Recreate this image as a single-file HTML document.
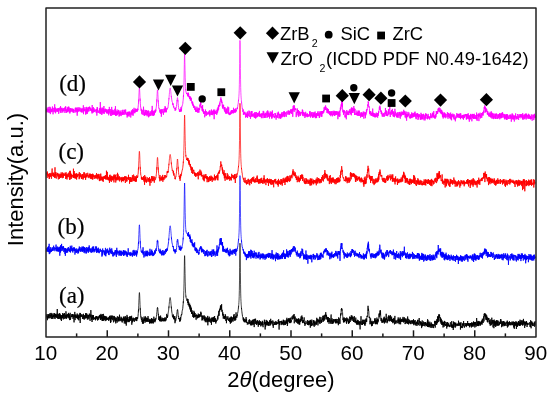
<!DOCTYPE html>
<html><head><meta charset="utf-8"><title>XRD patterns</title><style>
html,body{margin:0;padding:0;background:#fff;}
svg{display:block;}
.t{font-family:"Liberation Sans",Arial,sans-serif;fill:#000;}
.s{font-family:"Liberation Serif","Times New Roman",serif;fill:#000;}
</style></head><body>
<svg width="550" height="395" viewBox="0 0 550 395">
<rect width="550" height="395" fill="#fff"/>
<g fill="none" stroke="#000000" stroke-width="0.85" stroke-linejoin="round">
<polyline points="46.60,314.2 46.75,317.2 46.90,314.8 47.05,318.6 47.20,316.0 47.35,320.2 47.50,317.2 47.65,317.4 47.80,317.6 47.95,314.2 48.10,315.2 48.25,314.4 48.40,315.5 48.55,318.4 48.70,315.4 48.85,316.3 49.00,314.6 49.15,315.5 49.30,314.3 49.45,316.6 49.60,316.9 49.75,318.3 49.90,315.3 50.05,313.1 50.20,317.8 50.35,315.0 50.50,315.3 50.65,315.3 50.80,314.8 50.95,316.4 51.10,312.9 51.25,317.9 51.40,318.9 51.55,313.9 51.70,314.3 51.85,314.6 52.00,316.0 52.15,313.5 52.30,318.7 52.45,316.0 52.60,317.6 52.75,317.6 52.90,318.7 53.05,315.6 53.20,316.4 53.35,315.1 53.50,316.8 53.65,314.9 53.80,317.0 53.95,313.2 54.10,318.5 54.25,317.1 54.40,314.1 54.55,313.3 54.70,315.8 54.85,314.4 55.00,318.9 55.15,318.9 55.30,314.4 55.45,316.6 55.60,314.0 55.75,317.1 55.90,316.7 56.05,313.7 56.20,317.2 56.35,314.9 56.50,315.3 56.65,317.8 56.80,315.1 56.95,314.7 57.10,316.6 57.25,309.0 57.40,318.0 57.55,317.3 57.70,316.7 57.85,318.8 58.00,313.7 58.15,314.5 58.30,318.9 58.45,315.3 58.60,315.3 58.75,314.2 58.90,314.6 59.05,318.8 59.20,318.6 59.35,313.8 59.50,313.2 59.65,316.4 59.80,318.7 59.95,313.6 60.10,317.9 60.25,318.0 60.40,314.6 60.55,318.0 60.70,316.1 60.85,319.6 61.00,316.9 61.15,318.9 61.30,320.1 61.45,321.0 61.60,315.1 61.75,318.4 61.90,316.8 62.05,315.6 62.20,315.4 62.35,315.1 62.50,318.1 62.65,313.1 62.80,314.6 62.95,316.3 63.10,314.6 63.25,319.4 63.40,316.7 63.55,314.4 63.70,316.4 63.85,313.6 64.00,318.3 64.15,317.5 64.30,315.4 64.45,313.1 64.60,314.4 64.75,314.1 64.90,319.0 65.05,315.0 65.20,316.2 65.35,315.9 65.50,318.0 65.65,314.8 65.80,315.2 65.95,311.3 66.10,313.2 66.25,314.6 66.40,318.8 66.55,315.2 66.70,317.1 66.85,315.6 67.00,318.1 67.15,313.9 67.30,316.3 67.45,314.6 67.60,314.2 67.75,314.4 67.90,316.3 68.05,316.2 68.20,317.0 68.35,315.3 68.50,312.9 68.65,316.2 68.80,318.3 68.95,314.3 69.10,317.7 69.25,314.3 69.40,317.6 69.55,320.1 69.70,316.1 69.85,317.7 70.00,317.6 70.15,312.8 70.30,316.6 70.45,319.9 70.60,318.1 70.75,318.4 70.90,318.2 71.05,316.6 71.20,316.2 71.35,315.6 71.50,317.0 71.65,315.9 71.80,315.1 71.95,314.0 72.10,316.3 72.25,314.3 72.40,316.9 72.55,314.1 72.70,315.6 72.85,315.4 73.00,318.9 73.15,315.7 73.30,314.4 73.45,315.1 73.60,317.4 73.75,317.9 73.90,317.6 74.05,322.4 74.20,314.8 74.35,317.0 74.50,317.1 74.65,315.2 74.80,311.9 74.95,318.2 75.10,320.1 75.25,316.9 75.40,314.6 75.55,317.4 75.70,315.1 75.85,317.4 76.00,315.3 76.15,314.7 76.30,318.1 76.45,316.0 76.60,317.6 76.75,316.7 76.90,315.8 77.05,315.3 77.20,313.5 77.35,318.4 77.50,314.8 77.65,318.8 77.80,318.4 77.95,317.5 78.10,314.8 78.25,319.7 78.40,317.4 78.55,317.6 78.70,315.6 78.85,320.4 79.00,315.2 79.15,314.5 79.30,316.1 79.45,317.8 79.60,316.7 79.75,315.7 79.90,312.9 80.05,315.8 80.20,323.0 80.35,314.3 80.50,313.2 80.65,316.8 80.80,314.9 80.95,315.5 81.10,315.4 81.25,316.4 81.40,315.0 81.55,314.4 81.70,316.9 81.85,316.4 82.00,315.6 82.15,316.0 82.30,315.9 82.45,318.9 82.60,318.0 82.75,317.8 82.90,314.4 83.05,318.1 83.20,317.3 83.35,315.2 83.50,313.8 83.65,319.1 83.80,319.0 83.95,317.7 84.10,316.5 84.25,319.6 84.40,315.1 84.55,317.0 84.70,317.1 84.85,316.8 85.00,317.0 85.15,318.6 85.30,315.8 85.45,317.2 85.60,313.1 85.75,316.6 85.90,318.2 86.05,314.3 86.20,314.7 86.35,318.0 86.50,317.4 86.65,313.2 86.80,315.1 86.95,314.6 87.10,318.3 87.25,317.6 87.40,319.6 87.55,318.2 87.70,314.8 87.85,314.8 88.00,317.9 88.15,315.1 88.30,315.8 88.45,317.4 88.60,315.1 88.75,319.3 88.90,317.8 89.05,317.8 89.20,315.1 89.35,313.6 89.50,316.0 89.65,315.6 89.80,318.3 89.95,319.6 90.10,320.9 90.25,314.4 90.40,317.1 90.55,317.3 90.70,316.8 90.85,310.1 91.00,313.8 91.15,314.3 91.30,315.2 91.45,316.4 91.60,319.8 91.75,317.9 91.90,314.8 92.05,322.0 92.20,317.9 92.35,318.7 92.50,315.5 92.65,318.1 92.80,317.2 92.95,317.0 93.10,315.2 93.25,320.0 93.40,315.1 93.55,318.4 93.70,318.7 93.85,318.1 94.00,317.9 94.15,317.7 94.30,318.0 94.45,317.8 94.60,319.1 94.75,318.0 94.90,317.7 95.05,318.7 95.20,319.7 95.35,317.5 95.50,320.3 95.65,316.4 95.80,319.3 95.95,318.4 96.10,317.5 96.25,317.0 96.40,316.1 96.55,318.1 96.70,316.0 96.85,319.2 97.00,318.4 97.15,318.0 97.30,316.6 97.45,317.1 97.60,320.5 97.75,317.6 97.90,317.1 98.05,317.0 98.20,319.8 98.35,319.1 98.50,319.3 98.65,316.6 98.80,316.2 98.95,316.8 99.10,318.4 99.25,315.7 99.40,317.5 99.55,316.9 99.70,314.9 99.85,316.4 100.00,315.8 100.15,316.3 100.30,319.0 100.45,320.0 100.60,315.3 100.75,318.6 100.90,313.9 101.05,319.2 101.20,317.7 101.35,318.0 101.50,315.1 101.65,318.3 101.80,315.6 101.95,320.5 102.10,317.5 102.25,314.0 102.40,321.0 102.55,317.1 102.70,318.5 102.85,320.8 103.00,318.5 103.15,321.0 103.30,315.4 103.45,313.9 103.60,317.0 103.75,319.2 103.90,316.5 104.05,320.1 104.20,315.9 104.35,319.6 104.50,316.0 104.65,315.9 104.80,318.9 104.95,318.3 105.10,316.9 105.25,321.1 105.40,320.0 105.55,316.2 105.70,318.5 105.85,319.5 106.00,319.0 106.15,317.3 106.30,317.5 106.45,320.4 106.60,316.5 106.75,319.5 106.90,317.7 107.05,318.3 107.20,318.0 107.35,317.9 107.50,319.1 107.65,318.2 107.80,319.8 107.95,318.3 108.10,319.8 108.25,319.2 108.40,317.4 108.55,320.8 108.70,319.8 108.85,319.3 109.00,317.4 109.15,317.6 109.30,318.8 109.45,316.1 109.60,318.6 109.75,316.3 109.90,320.1 110.05,320.4 110.20,315.5 110.35,319.3 110.50,322.9 110.65,318.2 110.80,317.7 110.95,322.2 111.10,316.3 111.25,317.5 111.40,319.2 111.55,316.8 111.70,319.1 111.85,315.5 112.00,317.4 112.15,315.7 112.30,317.6 112.45,318.9 112.60,318.7 112.75,320.2 112.90,316.2 113.05,316.2 113.20,316.7 113.35,319.9 113.50,322.3 113.65,320.9 113.80,318.1 113.95,315.9 114.10,318.9 114.25,318.7 114.40,317.5 114.55,316.4 114.70,320.2 114.85,320.5 115.00,317.2 115.15,321.7 115.30,319.0 115.45,320.5 115.60,319.1 115.75,323.4 115.90,317.7 116.05,318.7 116.20,319.3 116.35,317.8 116.50,320.8 116.65,319.9 116.80,321.0 116.95,321.5 117.10,322.7 117.25,316.6 117.40,316.8 117.55,316.4 117.70,318.7 117.85,321.5 118.00,320.7 118.15,318.5 118.30,317.3 118.45,320.6 118.60,319.6 118.75,316.8 118.90,321.4 119.05,319.6 119.20,320.1 119.35,318.2 119.50,314.7 119.65,320.6 119.80,320.3 119.95,319.9 120.10,320.3 120.25,321.1 120.40,320.9 120.55,320.8 120.70,318.5 120.85,320.0 121.00,316.7 121.15,319.2 121.30,319.6 121.45,317.6 121.60,318.0 121.75,321.4 121.90,319.6 122.05,318.0 122.20,322.5 122.35,320.2 122.50,319.2 122.65,320.0 122.80,319.1 122.95,320.7 123.10,319.9 123.25,318.1 123.40,316.8 123.55,319.1 123.70,320.1 123.85,319.2 124.00,321.1 124.15,316.4 124.30,323.5 124.45,317.7 124.60,318.5 124.75,319.2 124.90,321.1 125.05,319.4 125.20,321.7 125.35,321.0 125.50,316.3 125.65,323.7 125.80,320.0 125.95,320.0 126.10,320.8 126.25,325.6 126.40,320.4 126.55,317.7 126.70,321.3 126.85,321.5 127.00,314.9 127.15,322.2 127.30,316.6 127.45,317.5 127.60,320.5 127.75,319.6 127.90,318.7 128.05,317.0 128.20,318.2 128.35,319.3 128.50,321.5 128.65,321.9 128.80,319.2 128.95,322.2 129.10,319.8 129.25,318.9 129.40,321.5 129.55,316.7 129.70,319.3 129.85,319.1 130.00,316.4 130.15,321.0 130.30,316.4 130.45,319.5 130.60,319.3 130.75,318.4 130.90,320.3 131.05,318.4 131.20,316.9 131.35,318.9 131.50,316.8 131.65,315.8 131.80,324.7 131.95,318.4 132.10,318.0 132.25,322.3 132.40,322.4 132.55,322.0 132.70,319.8 132.85,319.2 133.00,321.2 133.15,317.6 133.30,319.8 133.45,320.4 133.60,319.1 133.75,318.4 133.90,320.0 134.05,320.0 134.20,321.5 134.35,322.0 134.50,321.6 134.65,318.3 134.80,318.7 134.95,318.5 135.10,320.6 135.25,319.1 135.40,318.1 135.55,319.9 135.70,319.5 135.85,317.2 136.00,317.6 136.15,317.1 136.30,321.0 136.45,319.3 136.60,317.6 136.75,321.1 136.90,319.8 137.05,318.2 137.20,317.0 137.35,319.1 137.50,317.6 137.65,318.6 137.80,317.5 137.95,316.7 138.10,315.0 138.25,313.6 138.40,311.8 138.55,309.2"/>
<polyline stroke-width="0.7" points="138.40,311.8 138.55,309.2 138.70,305.8 138.85,302.1 139.00,298.3 139.15,295.0 139.30,292.8 139.45,292.5 139.60,294.0 139.75,297.0 139.90,300.6 140.05,304.4 140.20,307.8 140.35,310.6"/>
<polyline points="140.20,307.8 140.35,310.6 140.50,313.1 140.65,315.0 140.80,316.8 140.95,316.4 141.10,318.3 141.25,317.5 141.40,319.9 141.55,318.9 141.70,319.5 141.85,319.5 142.00,321.9 142.15,318.7 142.30,317.4 142.45,323.6 142.60,320.3 142.75,320.6 142.90,323.4 143.05,320.3 143.20,320.0 143.35,323.0 143.50,323.6 143.65,321.0 143.80,318.6 143.95,321.1 144.10,316.5 144.25,320.2 144.40,319.8 144.55,320.8 144.70,318.2 144.85,321.2 145.00,322.8 145.15,321.0 145.30,319.2 145.45,316.4 145.60,318.8 145.75,321.6 145.90,318.3 146.05,321.0 146.20,321.4 146.35,321.5 146.50,317.7 146.65,321.3 146.80,320.8 146.95,321.3 147.10,320.0 147.25,321.7 147.40,320.3 147.55,319.1 147.70,317.9 147.85,321.5 148.00,316.1 148.15,317.3 148.30,319.2 148.45,319.1 148.60,319.9 148.75,322.0 148.90,321.0 149.05,320.4 149.20,319.4 149.35,318.9 149.50,323.5 149.65,319.9 149.80,320.5 149.95,321.9 150.10,322.9 150.25,320.4 150.40,323.2 150.55,322.7 150.70,319.2 150.85,323.2 151.00,321.9 151.15,321.3 151.30,320.6 151.45,318.1 151.60,323.1 151.75,318.0 151.90,323.4 152.05,322.8 152.20,321.2 152.35,322.3 152.50,322.7 152.65,319.1 152.80,321.0 152.95,320.2 153.10,319.0 153.25,323.5 153.40,322.4 153.55,321.3 153.70,322.6 153.85,316.7 154.00,318.8 154.15,320.0 154.30,320.8 154.45,320.8 154.60,321.5 154.75,318.8 154.90,322.0 155.05,322.2 155.20,319.4 155.35,320.1 155.50,320.8 155.65,318.3 155.80,319.3 155.95,319.5 156.10,318.9 156.25,317.3 156.40,316.5 156.55,316.1 156.70,314.4 156.85,312.9 157.00,311.4 157.15,309.6 157.30,308.3 157.45,307.6"/>
<polyline stroke-width="0.7" points="157.30,308.3 157.45,307.6 157.60,307.7 157.75,308.5"/>
<polyline points="157.60,307.7 157.75,308.5 157.90,309.9 158.05,311.7 158.20,312.7 158.35,315.1 158.50,314.3 158.65,316.5 158.80,320.0 158.95,316.0 159.10,318.5 159.25,318.3 159.40,319.8 159.55,321.2 159.70,316.8 159.85,317.9 160.00,320.7 160.15,320.1 160.30,316.9 160.45,320.5 160.60,315.6 160.75,320.9 160.90,321.6 161.05,317.4 161.20,320.8 161.35,320.7 161.50,319.3 161.65,319.9 161.80,321.4 161.95,321.2 162.10,320.9 162.25,317.8 162.40,317.8 162.55,320.8 162.70,320.5 162.85,321.1 163.00,319.2 163.15,320.4 163.30,321.1 163.45,319.6 163.60,319.3 163.75,318.0 163.90,321.3 164.05,320.5 164.20,320.5 164.35,319.3 164.50,321.0 164.65,317.6 164.80,319.4 164.95,320.0 165.10,321.4 165.25,319.1 165.40,320.7 165.55,317.5 165.70,317.6 165.85,317.9 166.00,320.1 166.15,320.4 166.30,319.7 166.45,319.4 166.60,316.9 166.75,313.9 166.90,316.9 167.05,317.1 167.20,315.6 167.35,318.0 167.50,315.8 167.65,315.7 167.80,316.4 167.95,314.6 168.10,313.2 168.25,312.5 168.40,311.6 168.55,310.6 168.70,309.3 168.85,307.9 169.00,306.3"/>
<polyline stroke-width="0.7" points="168.85,307.9 169.00,306.3 169.15,304.7 169.30,303.0 169.45,301.5 169.60,300.1 169.75,298.9 169.90,298.0 170.05,297.5 170.20,297.6 170.35,298.2 170.50,299.1 170.65,300.3 170.80,301.7 170.95,303.2 171.10,304.9 171.25,306.4 171.40,308.0"/>
<polyline points="171.25,306.4 171.40,308.0 171.55,309.2 171.70,311.0 171.85,312.1 172.00,313.1 172.15,313.6 172.30,315.2 172.45,316.7 172.60,315.8 172.75,315.5 172.90,316.2 173.05,317.7 173.20,316.4 173.35,314.5 173.50,317.7 173.65,319.1 173.80,316.1 173.95,317.6 174.10,316.4 174.25,319.5 174.40,317.8 174.55,319.0 174.70,318.8 174.85,316.2 175.00,323.2 175.15,318.3 175.30,319.6 175.45,321.3 175.60,320.9 175.75,320.8 175.90,320.5 176.05,318.4 176.20,318.5 176.35,317.3 176.50,317.5 176.65,316.2 176.80,314.2 176.95,312.9 177.10,311.8 177.25,310.4 177.40,309.9"/>
<polyline stroke-width="0.7" points="177.25,310.4 177.40,309.9 177.55,309.6 177.70,310.3"/>
<polyline points="177.55,309.6 177.70,310.3 177.85,311.3 178.00,312.9 178.15,314.4 178.30,315.8 178.45,317.0 178.60,316.5 178.75,319.1 178.90,318.0 179.05,318.8 179.20,318.5 179.35,319.4 179.50,318.6 179.65,321.6 179.80,321.3 179.95,321.5 180.10,319.4 180.25,321.1 180.40,317.2 180.55,318.2 180.70,319.7 180.85,317.4 181.00,317.5 181.15,315.4 181.30,315.7 181.45,314.1 181.60,314.8 181.75,314.6 181.90,314.4 182.05,311.7 182.20,311.1 182.35,310.3 182.50,309.9 182.65,308.9 182.80,308.2 182.95,306.1 183.10,304.8 183.25,303.0 183.40,301.1"/>
<polyline stroke-width="0.7" points="183.25,303.0 183.40,301.1 183.55,298.7 183.70,295.1 183.85,290.4 184.00,283.9 184.15,275.7 184.30,266.8 184.45,259.0 184.60,255.6 184.75,258.3 184.90,265.4 185.05,273.6 185.20,281.1 185.35,286.9 185.50,291.0 185.65,293.7 185.80,295.6 185.95,296.6"/>
<polyline points="185.80,295.6 185.95,296.6 186.10,297.8 186.25,298.4 186.40,298.6 186.55,299.1 186.70,299.8 186.85,300.6 187.00,300.3 187.15,300.6 187.30,298.7 187.45,299.9 187.60,300.7 187.75,303.0 187.90,300.8 188.05,299.1 188.20,305.1 188.35,301.8 188.50,301.6 188.65,302.8 188.80,302.4 188.95,305.5 189.10,303.9 189.25,307.0 189.40,304.2 189.55,307.4 189.70,303.7 189.85,308.3 190.00,309.4 190.15,307.3 190.30,305.2 190.45,309.1 190.60,311.7 190.75,310.9 190.90,306.7 191.05,311.0 191.20,310.3 191.35,308.1 191.50,313.7 191.65,312.2 191.80,313.5 191.95,310.1 192.10,313.9 192.25,311.6 192.40,313.9 192.55,313.8 192.70,315.9 192.85,316.9 193.00,313.3 193.15,313.6 193.30,314.3 193.45,316.9 193.60,315.4 193.75,317.9 193.90,310.8 194.05,314.3 194.20,317.0 194.35,317.0 194.50,312.3 194.65,315.0 194.80,317.0 194.95,313.8 195.10,313.0 195.25,316.1 195.40,316.9 195.55,315.0 195.70,316.0 195.85,315.3 196.00,319.7 196.15,319.8 196.30,316.5 196.45,314.5 196.60,316.2 196.75,315.5 196.90,315.0 197.05,316.4 197.20,318.5 197.35,316.1 197.50,316.6 197.65,317.9 197.80,315.1 197.95,317.4 198.10,316.8 198.25,313.6 198.40,317.2 198.55,317.7 198.70,317.2 198.85,315.3 199.00,316.8 199.15,314.6 199.30,316.3 199.45,317.3 199.60,314.3 199.75,315.0 199.90,316.9 200.05,316.3 200.20,316.1 200.35,315.8 200.50,316.3 200.65,313.7 200.80,311.7 200.95,314.7 201.10,312.7 201.25,315.8 201.40,315.6 201.55,316.6 201.70,315.6 201.85,316.6 202.00,320.5 202.15,318.5 202.30,315.7 202.45,319.9 202.60,318.0 202.75,315.9 202.90,317.7 203.05,315.8 203.20,318.9 203.35,319.0 203.50,318.8 203.65,318.8 203.80,319.2 203.95,317.7 204.10,315.3 204.25,320.7 204.40,319.4 204.55,317.0 204.70,316.7 204.85,319.5 205.00,316.5 205.15,317.5 205.30,322.2 205.45,319.0 205.60,321.1 205.75,319.2 205.90,319.6 206.05,317.2 206.20,317.7 206.35,320.0 206.50,318.0 206.65,322.0 206.80,322.3 206.95,320.7 207.10,320.0 207.25,320.8 207.40,319.1 207.55,321.7 207.70,315.9 207.85,325.3 208.00,317.9 208.15,320.0 208.30,321.6 208.45,318.5 208.60,321.1 208.75,321.1 208.90,321.3 209.05,321.5 209.20,316.7 209.35,319.1 209.50,319.4 209.65,321.6 209.80,318.6 209.95,321.1 210.10,319.4 210.25,318.8 210.40,322.6 210.55,321.9 210.70,321.4 210.85,320.9 211.00,321.3 211.15,320.2 211.30,317.7 211.45,324.8 211.60,320.0 211.75,320.7 211.90,319.7 212.05,320.2 212.20,317.7 212.35,321.3 212.50,317.6 212.65,318.5 212.80,319.7 212.95,321.4 213.10,321.6 213.25,318.6 213.40,322.1 213.55,316.9 213.70,321.6 213.85,320.0 214.00,319.4 214.15,321.7 214.30,320.9 214.45,320.5 214.60,316.0 214.75,322.0 214.90,320.8 215.05,318.8 215.20,318.2 215.35,321.5 215.50,320.4 215.65,318.6 215.80,323.5 215.95,320.1 216.10,322.1 216.25,320.7 216.40,320.6 216.55,320.8 216.70,319.8 216.85,320.7 217.00,320.9 217.15,319.7 217.30,319.7 217.45,318.0 217.60,317.6 217.75,316.1 217.90,319.5 218.05,314.8 218.20,314.7 218.35,314.7 218.50,315.9 218.65,315.5 218.80,310.8 218.95,314.3 219.10,315.7 219.25,312.5 219.40,311.6 219.55,309.3 219.70,311.5 219.85,308.9 220.00,307.9 220.15,308.3 220.30,308.4 220.45,305.6 220.60,309.9 220.75,306.5 220.90,307.3 221.05,305.3 221.20,307.2 221.35,309.5 221.50,305.9 221.65,304.2 221.80,311.3 221.95,311.7 222.10,309.8 222.25,311.0 222.40,312.2 222.55,314.1 222.70,315.5 222.85,312.3 223.00,315.6 223.15,316.9 223.30,318.7 223.45,315.7 223.60,314.4 223.75,314.1 223.90,316.2 224.05,318.1 224.20,317.7 224.35,316.4 224.50,319.1 224.65,316.1 224.80,317.2 224.95,316.7 225.10,318.8 225.25,318.7 225.40,314.3 225.55,317.2 225.70,315.9 225.85,320.9 226.00,319.0 226.15,319.6 226.30,319.6 226.45,323.2 226.60,319.4 226.75,319.0 226.90,316.5 227.05,319.0 227.20,319.6 227.35,318.5 227.50,319.2 227.65,319.0 227.80,317.7 227.95,316.4 228.10,317.9 228.25,319.6 228.40,320.5 228.55,318.7 228.70,319.3 228.85,321.0 229.00,320.3 229.15,320.5 229.30,320.7 229.45,320.2 229.60,321.9 229.75,317.6 229.90,321.0 230.05,318.1 230.20,321.3 230.35,323.7 230.50,318.1 230.65,322.5 230.80,316.8 230.95,317.8 231.10,318.3 231.25,318.5 231.40,316.6 231.55,322.5 231.70,320.6 231.85,320.1 232.00,317.0 232.15,321.2 232.30,319.2 232.45,319.9 232.60,319.6 232.75,318.1 232.90,319.7 233.05,321.6 233.20,317.3 233.35,318.2 233.50,318.7 233.65,315.3 233.80,317.4 233.95,319.2 234.10,314.0 234.25,320.5 234.40,317.2 234.55,318.9 234.70,317.8 234.85,318.2 235.00,320.7 235.15,320.2 235.30,316.1 235.45,316.8 235.60,320.1 235.75,319.8 235.90,319.4 236.05,312.4 236.20,317.4 236.35,317.1 236.50,316.6 236.65,316.8 236.80,317.7 236.95,316.0 237.10,315.4 237.25,316.2 237.40,315.0 237.55,313.6 237.70,313.1 237.85,312.0 238.00,311.4 238.15,310.3 238.30,309.3 238.45,307.7 238.60,306.2"/>
<polyline stroke-width="0.7" points="238.45,307.7 238.60,306.2 238.75,304.6 238.90,302.7 239.05,300.2 239.20,296.3 239.35,290.3 239.50,280.9 239.65,267.8 239.80,253.2 239.95,243.2 240.10,245.5 240.25,258.1 240.40,272.7 240.55,284.8 240.70,293.1 240.85,298.3 241.00,301.6 241.15,304.1 241.30,305.9 241.45,307.7 241.60,309.4"/>
<polyline points="241.45,307.7 241.60,309.4 241.75,310.7 241.90,311.8 242.05,313.1 242.20,314.1 242.35,315.0 242.50,316.5 242.65,316.9 242.80,317.4 242.95,318.5 243.10,318.7 243.25,320.3 243.40,317.5 243.55,320.0 243.70,321.3 243.85,318.4 244.00,320.9 244.15,321.1 244.30,322.2 244.45,320.5 244.60,319.2 244.75,319.9 244.90,322.2 245.05,320.4 245.20,319.7 245.35,321.3 245.50,319.9 245.65,320.0 245.80,321.8 245.95,320.4 246.10,317.1 246.25,322.9 246.40,319.5 246.55,319.2 246.70,321.5 246.85,322.1 247.00,322.4 247.15,322.1 247.30,324.6 247.45,324.0 247.60,323.4 247.75,322.2 247.90,321.9 248.05,323.8 248.20,324.1 248.35,323.9 248.50,323.8 248.65,324.2 248.80,323.2 248.95,319.9 249.10,323.7 249.25,322.2 249.40,322.8 249.55,319.4 249.70,321.2 249.85,323.8 250.00,323.0 250.15,322.3 250.30,321.9 250.45,325.3 250.60,322.7 250.75,321.6 250.90,320.3 251.05,320.6 251.20,322.2 251.35,321.1 251.50,325.0 251.65,321.7 251.80,325.5 251.95,321.7 252.10,322.8 252.25,324.6 252.40,324.2 252.55,319.9 252.70,321.4 252.85,324.4 253.00,324.0 253.15,323.0 253.30,319.3 253.45,324.6 253.60,324.5 253.75,323.3 253.90,320.0 254.05,321.2 254.20,327.1 254.35,321.6 254.50,318.9 254.65,320.4 254.80,320.4 254.95,320.2 255.10,324.1 255.25,323.5 255.40,322.7 255.55,318.7 255.70,320.8 255.85,323.4 256.00,324.0 256.15,323.2 256.30,320.8 256.45,324.2 256.60,322.0 256.75,325.0 256.90,324.0 257.05,323.9 257.20,323.3 257.35,320.0 257.50,320.8 257.65,323.4 257.80,323.4 257.95,323.3 258.10,321.5 258.25,326.8 258.40,321.5 258.55,323.0 258.70,325.1 258.85,323.6 259.00,324.1 259.15,323.8 259.30,320.2 259.45,325.0 259.60,323.2 259.75,324.4 259.90,322.6 260.05,321.2 260.20,321.3 260.35,323.2 260.50,321.6 260.65,323.2 260.80,326.4 260.95,322.0 261.10,322.4 261.25,325.4 261.40,322.7 261.55,324.0 261.70,323.8 261.85,324.3 262.00,324.8 262.15,322.2 262.30,320.8 262.45,325.3 262.60,321.5 262.75,324.5 262.90,326.1 263.05,327.2 263.20,325.2 263.35,324.6 263.50,324.8 263.65,324.0 263.80,322.7 263.95,322.5 264.10,321.9 264.25,322.8 264.40,319.7 264.55,324.3 264.70,322.2 264.85,322.2 265.00,322.4 265.15,329.5 265.30,322.5 265.45,324.5 265.60,326.8 265.75,321.9 265.90,324.2 266.05,322.0 266.20,319.9 266.35,322.3 266.50,325.3 266.65,321.9 266.80,322.4 266.95,320.7 267.10,323.2 267.25,320.9 267.40,321.6 267.55,325.3 267.70,321.8 267.85,323.4 268.00,323.8 268.15,325.4 268.30,324.9 268.45,322.2 268.60,322.0 268.75,325.8 268.90,322.1 269.05,322.0 269.20,325.6 269.35,321.3 269.50,321.8 269.65,320.4 269.80,320.0 269.95,323.2 270.10,322.5 270.25,321.5 270.40,325.4 270.55,324.4 270.70,318.8 270.85,324.5 271.00,321.9 271.15,320.9 271.30,322.5 271.45,323.1 271.60,321.9 271.75,321.0 271.90,323.3 272.05,322.7 272.20,322.9 272.35,323.6 272.50,322.7 272.65,322.0 272.80,320.4 272.95,325.6 273.10,323.8 273.25,327.8 273.40,323.5 273.55,322.5 273.70,321.7 273.85,322.2 274.00,321.9 274.15,322.8 274.30,322.4 274.45,322.7 274.60,325.0 274.75,323.6 274.90,324.1 275.05,322.0 275.20,323.1 275.35,323.0 275.50,324.8 275.65,323.2 275.80,321.0 275.95,321.0 276.10,322.6 276.25,323.8 276.40,324.6 276.55,322.1 276.70,324.5 276.85,324.3 277.00,322.2 277.15,322.8 277.30,323.7 277.45,323.9 277.60,322.6 277.75,323.0 277.90,322.0 278.05,321.7 278.20,320.0 278.35,320.9 278.50,322.8 278.65,319.3 278.80,323.9 278.95,321.8 279.10,329.6 279.25,321.2 279.40,324.1 279.55,325.1 279.70,324.0 279.85,323.8 280.00,321.6 280.15,322.2 280.30,321.3 280.45,322.2 280.60,322.3 280.75,322.1 280.90,321.1 281.05,321.5 281.20,325.1 281.35,322.3 281.50,320.9 281.65,323.6 281.80,320.9 281.95,323.3 282.10,322.0 282.25,324.3 282.40,324.1 282.55,322.9 282.70,322.7 282.85,321.8 283.00,324.7 283.15,320.4 283.30,319.7 283.45,322.5 283.60,320.1 283.75,325.2 283.90,320.5 284.05,321.8 284.20,323.0 284.35,324.7 284.50,324.8 284.65,323.2 284.80,321.2 284.95,320.5 285.10,323.9 285.25,322.0 285.40,324.9 285.55,323.9 285.70,323.8 285.85,323.3 286.00,320.9 286.15,323.3 286.30,319.8 286.45,321.4 286.60,321.1 286.75,323.0 286.90,317.8 287.05,324.0 287.20,319.3 287.35,326.0 287.50,323.1 287.65,324.2 287.80,323.0 287.95,319.9 288.10,320.6 288.25,320.7 288.40,321.6 288.55,318.3 288.70,321.2 288.85,319.7 289.00,320.6 289.15,318.6 289.30,321.1 289.45,323.1 289.60,318.5 289.75,319.1 289.90,322.6 290.05,321.6 290.20,320.7 290.35,317.7 290.50,320.4 290.65,323.1 290.80,322.3 290.95,320.4 291.10,321.8 291.25,322.2 291.40,321.4 291.55,319.7 291.70,319.2 291.85,316.7 292.00,316.5 292.15,319.1 292.30,318.5 292.45,319.3 292.60,318.0 292.75,317.8 292.90,315.5 293.05,319.1 293.20,318.5 293.35,315.8 293.50,314.9 293.65,315.5 293.80,315.6 293.95,318.1 294.10,314.0 294.25,323.3 294.40,320.3 294.55,317.3 294.70,317.8 294.85,318.7 295.00,318.8 295.15,316.5 295.30,320.6 295.45,320.2 295.60,320.7 295.75,320.4 295.90,322.1 296.05,319.0 296.20,318.4 296.35,321.4 296.50,319.1 296.65,321.6 296.80,322.8 296.95,321.1 297.10,319.7 297.25,320.8 297.40,320.9 297.55,319.4 297.70,323.6 297.85,321.8 298.00,318.8 298.15,319.1 298.30,323.5 298.45,318.6 298.60,322.6 298.75,318.5 298.90,323.3 299.05,322.6 299.20,324.7 299.35,322.3 299.50,320.3 299.65,323.3 299.80,324.4 299.95,319.1 300.10,318.9 300.25,321.9 300.40,319.1 300.55,319.0 300.70,322.1 300.85,319.7 301.00,317.2 301.15,316.4 301.30,320.9 301.45,318.6 301.60,317.5 301.75,317.1 301.90,315.5 302.05,319.2 302.20,318.8 302.35,317.2 302.50,323.1 302.65,320.8 302.80,320.0 302.95,321.8 303.10,321.6 303.25,322.6 303.40,320.0 303.55,320.1 303.70,322.5 303.85,320.2 304.00,320.3 304.15,317.4 304.30,321.6 304.45,324.1 304.60,322.3 304.75,323.8 304.90,325.9 305.05,324.9 305.20,324.6 305.35,323.7 305.50,324.3 305.65,323.0 305.80,323.6 305.95,320.8 306.10,322.5 306.25,322.9 306.40,323.5 306.55,323.3 306.70,322.6 306.85,322.7 307.00,323.1 307.15,323.0 307.30,322.8 307.45,325.0 307.60,320.0 307.75,321.0 307.90,323.4 308.05,322.2 308.20,322.7 308.35,321.5 308.50,325.2 308.65,321.2 308.80,324.2 308.95,321.7 309.10,324.4 309.25,320.6 309.40,321.8 309.55,324.5 309.70,321.3 309.85,322.7 310.00,322.8 310.15,320.7 310.30,327.7 310.45,319.9 310.60,323.4 310.75,324.3 310.90,324.3 311.05,325.6 311.20,322.9 311.35,326.1 311.50,321.2 311.65,323.0 311.80,319.6 311.95,325.4 312.10,324.9 312.25,325.1 312.40,324.1 312.55,324.3 312.70,323.8 312.85,323.1 313.00,324.7 313.15,325.6 313.30,320.3 313.45,322.8 313.60,323.0 313.75,320.1 313.90,322.2 314.05,325.2 314.20,326.8 314.35,321.8 314.50,323.1 314.65,324.8 314.80,321.8 314.95,320.8 315.10,325.6 315.25,324.2 315.40,324.1 315.55,323.1 315.70,322.6 315.85,322.4 316.00,323.9 316.15,321.6 316.30,324.9 316.45,323.1 316.60,323.8 316.75,317.8 316.90,322.7 317.05,319.9 317.20,320.2 317.35,320.3 317.50,321.3 317.65,319.0 317.80,318.8 317.95,325.4 318.10,319.4 318.25,321.5 318.40,321.7 318.55,320.0 318.70,321.4 318.85,321.8 319.00,321.0 319.15,321.2 319.30,323.3 319.45,320.1 319.60,321.8 319.75,316.8 319.90,320.1 320.05,323.9 320.20,322.9 320.35,321.9 320.50,321.8 320.65,319.9 320.80,319.2 320.95,317.1 321.10,322.5 321.25,322.5 321.40,320.0 321.55,322.8 321.70,319.8 321.85,319.8 322.00,322.0 322.15,318.6 322.30,318.3 322.45,318.4 322.60,320.1 322.75,315.8 322.90,317.1 323.05,319.5 323.20,318.2 323.35,321.2 323.50,321.6 323.65,315.9 323.80,317.4 323.95,319.8 324.10,315.3 324.25,320.6 324.40,319.3 324.55,316.4 324.70,316.3 324.85,316.4 325.00,314.8 325.15,316.2 325.30,314.7 325.45,316.0 325.60,315.6 325.75,312.2 325.90,319.4 326.05,315.0 326.20,316.9 326.35,316.1 326.50,314.8 326.65,318.3 326.80,318.3 326.95,319.0 327.10,316.9 327.25,320.0 327.40,317.1 327.55,322.2 327.70,321.1 327.85,320.9 328.00,317.3 328.15,321.9 328.30,317.2 328.45,321.7 328.60,320.8 328.75,320.2 328.90,322.8 329.05,323.8 329.20,320.1 329.35,320.2 329.50,320.5 329.65,318.0 329.80,322.2 329.95,320.5 330.10,319.5 330.25,320.9 330.40,323.1 330.55,323.6 330.70,321.1 330.85,318.9 331.00,315.7 331.15,314.5 331.30,321.5 331.45,320.0 331.60,320.5 331.75,322.8 331.90,323.8 332.05,318.3 332.20,323.9 332.35,321.6 332.50,321.3 332.65,322.6 332.80,321.4 332.95,319.7 333.10,323.6 333.25,321.6 333.40,322.5 333.55,320.3 333.70,319.0 333.85,322.0 334.00,322.4 334.15,320.7 334.30,320.2 334.45,320.2 334.60,320.8 334.75,319.4 334.90,320.2 335.05,321.7 335.20,319.0 335.35,321.2 335.50,319.3 335.65,323.2 335.80,319.3 335.95,321.3 336.10,323.4 336.25,318.9 336.40,322.3 336.55,321.2 336.70,322.1 336.85,321.0 337.00,320.9 337.15,322.9 337.30,320.4 337.45,319.2 337.60,320.4 337.75,322.6 337.90,323.4 338.05,322.6 338.20,322.0 338.35,325.2 338.50,322.9 338.65,317.4 338.80,323.9 338.95,323.3 339.10,323.4 339.25,323.4 339.40,319.9 339.55,318.6 339.70,320.6 339.85,320.4 340.00,323.8 340.15,318.4 340.30,318.4 340.45,316.9 340.60,314.0 340.75,315.5 340.90,313.2 341.05,314.3 341.20,309.4 341.35,309.0 341.50,310.0 341.65,308.0 341.80,310.5 341.95,309.7 342.10,309.3 342.25,311.3 342.40,312.2 342.55,312.4 342.70,315.8 342.85,316.8 343.00,320.1 343.15,318.5 343.30,318.3 343.45,322.0 343.60,319.8 343.75,322.6 343.90,317.5 344.05,319.6 344.20,317.7 344.35,322.1 344.50,320.4 344.65,321.3 344.80,320.2 344.95,318.9 345.10,320.3 345.25,320.5 345.40,318.5 345.55,321.1 345.70,318.5 345.85,318.8 346.00,318.8 346.15,319.1 346.30,322.7 346.45,321.2 346.60,323.8 346.75,317.5 346.90,320.0 347.05,321.0 347.20,318.4 347.35,319.9 347.50,319.9 347.65,319.9 347.80,319.5 347.95,321.5 348.10,318.7 348.25,322.6 348.40,321.1 348.55,323.9 348.70,322.1 348.85,321.8 349.00,323.1 349.15,320.6 349.30,323.1 349.45,318.8 349.60,316.6 349.75,318.1 349.90,320.9 350.05,320.7 350.20,322.0 350.35,321.3 350.50,317.6 350.65,319.9 350.80,317.1 350.95,319.2 351.10,317.1 351.25,315.3 351.40,317.7 351.55,319.4 351.70,317.1 351.85,318.9 352.00,315.6 352.15,320.9 352.30,317.5 352.45,319.1 352.60,319.2 352.75,316.7 352.90,318.7 353.05,317.5 353.20,317.8 353.35,317.4 353.50,322.0 353.65,319.2 353.80,321.8 353.95,320.4 354.10,319.2 354.25,316.4 354.40,316.1 354.55,320.0 354.70,321.9 354.85,321.0 355.00,322.0 355.15,322.8 355.30,319.8 355.45,322.1 355.60,321.8 355.75,317.6 355.90,318.9 356.05,323.2 356.20,322.5 356.35,320.9 356.50,324.5 356.65,320.9 356.80,322.9 356.95,322.6 357.10,321.7 357.25,321.1 357.40,324.2 357.55,319.8 357.70,320.5 357.85,324.9 358.00,322.2 358.15,320.2 358.30,321.5 358.45,321.2 358.60,323.5 358.75,322.0 358.90,324.2 359.05,321.8 359.20,325.2 359.35,323.2 359.50,321.6 359.65,321.2 359.80,322.1 359.95,324.3 360.10,329.4 360.25,321.7 360.40,322.9 360.55,321.7 360.70,323.4 360.85,324.1 361.00,316.2 361.15,323.4 361.30,324.5 361.45,324.8 361.60,324.3 361.75,324.2 361.90,321.5 362.05,321.0 362.20,324.8 362.35,323.1 362.50,325.0 362.65,319.7 362.80,321.5 362.95,323.6 363.10,324.0 363.25,322.9 363.40,321.9 363.55,319.8 363.70,321.1 363.85,323.9 364.00,321.9 364.15,323.8 364.30,323.2 364.45,325.0 364.60,323.6 364.75,320.0 364.90,325.9 365.05,325.7 365.20,319.3 365.35,323.3 365.50,324.2 365.65,323.7 365.80,322.1 365.95,321.0 366.10,318.3 366.25,318.9 366.40,322.0 366.55,319.4 366.70,321.7 366.85,317.4 367.00,316.1 367.15,315.9 367.30,317.1 367.45,314.7 367.60,314.5 367.75,311.5 367.90,307.9 368.05,305.8 368.20,308.3 368.35,311.1 368.50,308.7 368.65,311.0 368.80,311.3 368.95,315.2 369.10,317.2 369.25,317.9 369.40,316.8 369.55,318.2 369.70,317.0 369.85,318.5 370.00,324.3 370.15,320.9 370.30,321.6 370.45,320.8 370.60,318.3 370.75,320.2 370.90,323.9 371.05,322.2 371.20,323.1 371.35,322.8 371.50,326.2 371.65,321.4 371.80,322.7 371.95,324.8 372.10,320.8 372.25,322.9 372.40,325.8 372.55,324.2 372.70,322.3 372.85,323.1 373.00,322.4 373.15,323.6 373.30,321.8 373.45,321.8 373.60,321.9 373.75,321.1 373.90,321.9 374.05,323.7 374.20,322.4 374.35,322.3 374.50,320.2 374.65,318.7 374.80,322.2 374.95,321.4 375.10,318.2 375.25,322.2 375.40,320.7 375.55,324.0 375.70,321.2 375.85,324.3 376.00,319.7 376.15,323.7 376.30,320.0 376.45,321.2 376.60,323.6 376.75,320.8 376.90,317.6 377.05,319.1 377.20,321.9 377.35,324.3 377.50,322.3 377.65,319.1 377.80,322.6 377.95,319.5 378.10,319.7 378.25,321.5 378.40,319.7 378.55,319.2 378.70,319.0 378.85,319.0 379.00,313.6 379.15,316.7 379.30,317.3 379.45,315.1 379.60,313.3 379.75,314.6 379.90,313.8 380.05,310.5 380.20,315.2 380.35,310.3 380.50,310.8 380.65,314.8 380.80,316.9 380.95,319.6 381.10,321.1 381.25,318.0 381.40,320.2 381.55,319.7 381.70,321.4 381.85,319.6 382.00,323.0 382.15,322.2 382.30,320.7 382.45,322.0 382.60,320.8 382.75,321.2 382.90,322.7 383.05,319.7 383.20,318.6 383.35,321.2 383.50,319.9 383.65,322.2 383.80,317.6 383.95,318.9 384.10,320.9 384.25,316.7 384.40,323.5 384.55,320.1 384.70,319.3 384.85,318.9 385.00,322.1 385.15,318.5 385.30,318.7 385.45,321.3 385.60,318.7 385.75,322.5 385.90,320.5 386.05,320.2 386.20,313.8 386.35,319.7 386.50,318.8 386.65,318.1 386.80,320.7 386.95,322.5 387.10,323.2 387.25,321.2 387.40,319.6 387.55,322.2 387.70,321.5 387.85,318.6 388.00,316.7 388.15,316.7 388.30,319.6 388.45,320.5 388.60,320.8 388.75,315.4 388.90,318.2 389.05,315.8 389.20,316.7 389.35,316.6 389.50,321.3 389.65,320.4 389.80,319.0 389.95,316.5 390.10,321.1 390.25,318.4 390.40,315.2 390.55,318.4 390.70,318.4 390.85,320.7 391.00,320.4 391.15,318.4 391.30,318.2 391.45,321.7 391.60,316.6 391.75,319.7 391.90,318.8 392.05,321.5 392.20,321.1 392.35,319.2 392.50,322.1 392.65,319.0 392.80,323.2 392.95,319.2 393.10,320.6 393.25,321.3 393.40,320.8 393.55,322.4 393.70,318.3 393.85,320.7 394.00,317.9 394.15,318.5 394.30,321.6 394.45,324.4 394.60,322.7 394.75,318.4 394.90,315.9 395.05,320.2 395.20,321.2 395.35,323.6 395.50,320.7 395.65,321.0 395.80,320.7 395.95,322.2 396.10,323.5 396.25,321.3 396.40,322.2 396.55,321.3 396.70,320.9 396.85,320.4 397.00,320.2 397.15,319.9 397.30,321.9 397.45,322.8 397.60,323.2 397.75,321.9 397.90,319.1 398.05,318.9 398.20,317.4 398.35,321.8 398.50,318.8 398.65,321.4 398.80,323.3 398.95,320.5 399.10,319.9 399.25,324.2 399.40,322.7 399.55,320.0 399.70,320.1 399.85,318.6 400.00,321.9 400.15,317.4 400.30,321.4 400.45,320.0 400.60,324.3 400.75,321.8 400.90,320.8 401.05,320.9 401.20,319.2 401.35,321.9 401.50,320.9 401.65,319.4 401.80,321.6 401.95,321.6 402.10,321.3 402.25,318.7 402.40,320.7 402.55,321.7 402.70,320.0 402.85,317.7 403.00,316.9 403.15,318.2 403.30,318.8 403.45,322.3 403.60,321.0 403.75,318.5 403.90,322.3 404.05,321.2 404.20,317.2 404.35,318.5 404.50,320.7 404.65,321.6 404.80,320.0 404.95,318.3 405.10,324.1 405.25,323.0 405.40,323.5 405.55,319.8 405.70,319.3 405.85,320.5 406.00,318.5 406.15,322.7 406.30,322.9 406.45,321.4 406.60,319.7 406.75,320.6 406.90,323.3 407.05,321.2 407.20,323.1 407.35,323.9 407.50,320.2 407.65,316.5 407.80,322.6 407.95,322.9 408.10,323.1 408.25,318.8 408.40,320.5 408.55,324.4 408.70,322.5 408.85,322.1 409.00,321.8 409.15,321.5 409.30,319.7 409.45,323.2 409.60,321.7 409.75,320.9 409.90,320.6 410.05,322.1 410.20,323.0 410.35,324.1 410.50,321.7 410.65,320.7 410.80,322.6 410.95,322.4 411.10,324.1 411.25,321.1 411.40,321.7 411.55,320.4 411.70,321.5 411.85,321.8 412.00,322.8 412.15,323.3 412.30,321.2 412.45,320.4 412.60,322.9 412.75,320.9 412.90,323.7 413.05,321.5 413.20,320.5 413.35,323.6 413.50,319.1 413.65,324.5 413.80,325.2 413.95,320.8 414.10,321.8 414.25,323.2 414.40,320.7 414.55,321.8 414.70,321.4 414.85,324.5 415.00,322.6 415.15,320.0 415.30,322.7 415.45,324.6 415.60,325.4 415.75,322.6 415.90,323.4 416.05,324.3 416.20,324.2 416.35,324.0 416.50,321.9 416.65,324.5 416.80,324.3 416.95,326.0 417.10,321.4 417.25,321.9 417.40,324.1 417.55,320.9 417.70,319.9 417.85,321.5 418.00,319.8 418.15,325.2 418.30,325.1 418.45,323.4 418.60,322.7 418.75,324.2 418.90,323.6 419.05,322.1 419.20,318.0 419.35,322.4 419.50,321.0 419.65,321.0 419.80,323.2 419.95,325.8 420.10,322.6 420.25,322.1 420.40,322.5 420.55,321.5 420.70,324.4 420.85,321.6 421.00,324.1 421.15,323.9 421.30,325.0 421.45,322.3 421.60,328.1 421.75,323.7 421.90,324.2 422.05,326.6 422.20,320.4 422.35,322.9 422.50,326.0 422.65,325.0 422.80,323.0 422.95,323.6 423.10,325.8 423.25,324.6 423.40,324.4 423.55,321.5 423.70,322.5 423.85,324.2 424.00,324.9 424.15,326.0 424.30,324.8 424.45,322.3 424.60,323.8 424.75,323.7 424.90,325.3 425.05,326.4 425.20,326.1 425.35,322.2 425.50,324.8 425.65,322.4 425.80,324.4 425.95,322.8 426.10,323.2 426.25,324.3 426.40,324.1 426.55,325.9 426.70,325.4 426.85,324.5 427.00,323.3 427.15,326.1 427.30,321.5 427.45,327.0 427.60,319.2 427.75,322.9 427.90,320.2 428.05,324.4 428.20,325.5 428.35,327.0 428.50,323.9 428.65,321.8 428.80,324.0 428.95,327.2 429.10,323.3 429.25,326.4 429.40,324.7 429.55,324.0 429.70,326.5 429.85,321.7 430.00,326.0 430.15,323.6 430.30,327.7 430.45,326.9 430.60,326.2 430.75,325.7 430.90,324.7 431.05,326.0 431.20,323.3 431.35,322.5 431.50,324.5 431.65,327.8 431.80,327.9 431.95,323.8 432.10,326.4 432.25,324.4 432.40,325.1 432.55,325.1 432.70,325.7 432.85,324.3 433.00,327.8 433.15,324.5 433.30,326.4 433.45,327.9 433.60,328.1 433.75,326.4 433.90,324.4 434.05,325.0 434.20,326.0 434.35,325.6 434.50,325.5 434.65,321.4 434.80,323.0 434.95,320.8 435.10,323.8 435.25,327.6 435.40,321.1 435.55,321.2 435.70,323.4 435.85,324.4 436.00,323.1 436.15,322.8 436.30,323.2 436.45,321.2 436.60,325.0 436.75,323.8 436.90,319.3 437.05,323.4 437.20,319.4 437.35,322.8 437.50,316.4 437.65,317.5 437.80,316.8 437.95,320.4 438.10,317.1 438.25,318.2 438.40,318.9 438.55,316.4 438.70,322.1 438.85,314.5 439.00,317.4 439.15,314.3 439.30,316.3 439.45,314.9 439.60,315.2 439.75,317.7 439.90,317.0 440.05,320.9 440.20,319.5 440.35,317.5 440.50,318.9 440.65,322.3 440.80,322.1 440.95,318.5 441.10,323.9 441.25,319.3 441.40,323.0 441.55,322.4 441.70,323.1 441.85,325.0 442.00,320.4 442.15,321.2 442.30,324.1 442.45,323.3 442.60,325.0 442.75,321.9 442.90,321.7 443.05,327.5 443.20,322.1 443.35,324.0 443.50,325.1 443.65,325.4 443.80,322.9 443.95,322.4 444.10,326.8 444.25,325.2 444.40,320.9 444.55,325.0 444.70,323.1 444.85,321.4 445.00,323.0 445.15,322.1 445.30,325.7 445.45,324.0 445.60,324.3 445.75,325.8 445.90,324.5 446.05,325.6 446.20,325.2 446.35,322.4 446.50,324.9 446.65,328.2 446.80,328.6 446.95,324.4 447.10,324.5 447.25,326.0 447.40,322.0 447.55,326.0 447.70,326.8 447.85,325.6 448.00,324.6 448.15,324.6 448.30,322.8 448.45,323.9 448.60,326.3 448.75,324.2 448.90,325.0 449.05,325.9 449.20,325.8 449.35,325.4 449.50,325.9 449.65,327.1 449.80,325.2 449.95,326.9 450.10,325.4 450.25,323.0 450.40,322.3 450.55,323.1 450.70,324.5 450.85,324.5 451.00,326.3 451.15,325.9 451.30,324.6 451.45,326.8 451.60,326.5 451.75,321.1 451.90,327.8 452.05,326.4 452.20,327.4 452.35,324.7 452.50,325.4 452.65,325.4 452.80,328.0 452.95,324.5 453.10,325.1 453.25,330.0 453.40,324.3 453.55,321.5 453.70,327.7 453.85,326.4 454.00,327.1 454.15,323.0 454.30,324.7 454.45,323.3 454.60,323.8 454.75,322.1 454.90,323.2 455.05,326.4 455.20,323.9 455.35,327.6 455.50,323.0 455.65,324.8 455.80,323.3 455.95,322.8 456.10,324.8 456.25,324.8 456.40,324.3 456.55,325.3 456.70,326.2 456.85,325.4 457.00,325.6 457.15,324.0 457.30,324.6 457.45,325.3 457.60,323.9 457.75,325.4 457.90,323.5 458.05,325.6 458.20,325.4 458.35,325.8 458.50,320.7 458.65,322.1 458.80,324.4 458.95,325.3 459.10,325.7 459.25,322.6 459.40,322.7 459.55,324.1 459.70,325.4 459.85,324.4 460.00,324.6 460.15,325.4 460.30,323.2 460.45,329.6 460.60,323.2 460.75,324.4 460.90,322.1 461.05,322.9 461.20,327.0 461.35,327.6 461.50,326.4 461.65,326.9 461.80,327.4 461.95,327.9 462.10,325.8 462.25,328.1 462.40,324.2 462.55,325.4 462.70,323.4 462.85,323.7 463.00,325.2 463.15,323.3 463.30,325.9 463.45,322.9 463.60,321.1 463.75,324.4 463.90,324.3 464.05,326.5 464.20,326.0 464.35,327.7 464.50,325.3 464.65,324.5 464.80,323.2 464.95,324.1 465.10,323.7 465.25,325.0 465.40,325.8 465.55,325.3 465.70,326.0 465.85,323.1 466.00,324.5 466.15,326.7 466.30,327.1 466.45,323.9 466.60,326.0 466.75,323.5 466.90,325.6 467.05,323.5 467.20,325.1 467.35,324.1 467.50,322.4 467.65,321.0 467.80,324.8 467.95,324.4 468.10,325.9 468.25,323.1 468.40,325.4 468.55,324.8 468.70,323.1 468.85,324.6 469.00,324.8 469.15,325.9 469.30,323.7 469.45,327.3 469.60,324.0 469.75,326.3 469.90,326.8 470.05,323.1 470.20,324.4 470.35,323.0 470.50,324.4 470.65,325.4 470.80,325.6 470.95,323.2 471.10,325.9 471.25,325.7 471.40,327.5 471.55,323.2 471.70,323.9 471.85,322.2 472.00,326.0 472.15,324.9 472.30,322.9 472.45,326.3 472.60,323.8 472.75,326.4 472.90,323.4 473.05,326.1 473.20,326.6 473.35,325.4 473.50,321.4 473.65,324.5 473.80,322.7 473.95,322.0 474.10,325.6 474.25,324.7 474.40,324.6 474.55,322.3 474.70,322.5 474.85,327.5 475.00,321.9 475.15,323.3 475.30,324.8 475.45,322.4 475.60,322.1 475.75,324.2 475.90,326.0 476.05,326.8 476.20,324.3 476.35,325.4 476.50,321.9 476.65,318.0 476.80,322.3 476.95,322.3 477.10,324.9 477.25,326.0 477.40,324.3 477.55,322.1 477.70,324.5 477.85,320.9 478.00,326.0 478.15,323.1 478.30,326.1 478.45,324.6 478.60,321.3 478.75,324.8 478.90,321.6 479.05,322.6 479.20,323.5 479.35,321.8 479.50,324.1 479.65,321.6 479.80,323.3 479.95,325.8 480.10,321.9 480.25,323.8 480.40,325.3 480.55,322.9 480.70,324.0 480.85,323.6 481.00,322.5 481.15,324.0 481.30,321.0 481.45,324.2 481.60,323.1 481.75,321.7 481.90,320.3 482.05,324.7 482.20,322.7 482.35,318.7 482.50,322.3 482.65,319.9 482.80,321.8 482.95,321.3 483.10,323.0 483.25,320.5 483.40,320.4 483.55,317.0 483.70,316.5 483.85,316.0 484.00,321.4 484.15,313.8 484.30,316.0 484.45,315.8 484.60,314.7 484.75,313.1 484.90,316.0 485.05,314.2 485.20,317.1 485.35,316.3 485.50,313.8 485.65,313.9 485.80,319.7 485.95,316.9 486.10,314.6 486.25,317.4 486.40,316.8 486.55,320.1 486.70,315.5 486.85,315.8 487.00,319.8 487.15,317.3 487.30,321.9 487.45,319.6 487.60,321.5 487.75,322.4 487.90,317.8 488.05,318.2 488.20,319.0 488.35,318.9 488.50,318.2 488.65,320.2 488.80,318.0 488.95,318.6 489.10,322.1 489.25,320.7 489.40,323.9 489.55,320.3 489.70,319.9 489.85,321.9 490.00,322.2 490.15,325.6 490.30,323.3 490.45,320.5 490.60,319.5 490.75,320.0 490.90,325.4 491.05,322.3 491.20,324.9 491.35,323.4 491.50,322.7 491.65,322.6 491.80,317.7 491.95,324.1 492.10,324.0 492.25,320.2 492.40,323.2 492.55,321.5 492.70,322.9 492.85,320.1 493.00,327.3 493.15,320.6 493.30,320.1 493.45,322.8 493.60,322.1 493.75,323.1 493.90,328.2 494.05,324.0 494.20,319.6 494.35,325.8 494.50,321.2 494.65,322.8 494.80,321.9 494.95,323.9 495.10,324.4 495.25,325.3 495.40,321.3 495.55,325.2 495.70,327.0 495.85,321.7 496.00,325.8 496.15,323.4 496.30,320.1 496.45,324.0 496.60,320.6 496.75,323.7 496.90,325.5 497.05,322.0 497.20,322.1 497.35,325.5 497.50,322.1 497.65,320.4 497.80,324.7 497.95,325.5 498.10,320.8 498.25,323.5 498.40,325.2 498.55,324.5 498.70,325.1 498.85,325.6 499.00,322.7 499.15,321.8 499.30,322.7 499.45,324.8 499.60,322.8 499.75,323.7 499.90,322.3 500.05,321.9 500.20,323.4 500.35,320.9 500.50,319.1 500.65,321.9 500.80,324.0 500.95,319.3 501.10,322.7 501.25,321.3 501.40,322.3 501.55,327.2 501.70,326.0 501.85,324.9 502.00,322.4 502.15,324.1 502.30,324.3 502.45,323.9 502.60,325.6 502.75,321.5 502.90,326.5 503.05,321.4 503.20,322.6 503.35,321.1 503.50,325.4 503.65,324.1 503.80,323.7 503.95,321.2 504.10,322.8 504.25,322.2 504.40,322.8 504.55,326.1 504.70,323.4 504.85,324.6 505.00,321.9 505.15,324.5 505.30,323.7 505.45,324.5 505.60,323.4 505.75,324.5 505.90,325.9 506.05,324.9 506.20,325.5 506.35,324.5 506.50,322.6 506.65,321.8 506.80,323.1 506.95,323.3 507.10,322.4 507.25,320.6 507.40,327.5 507.55,324.9 507.70,321.7 507.85,324.4 508.00,322.7 508.15,323.6 508.30,326.4 508.45,322.3 508.60,325.0 508.75,323.4 508.90,323.8 509.05,323.2 509.20,322.7 509.35,323.6 509.50,321.3 509.65,325.2 509.80,322.4 509.95,324.3 510.10,323.6 510.25,322.1 510.40,323.4 510.55,325.0 510.70,324.5 510.85,325.3 511.00,325.3 511.15,323.2 511.30,324.1 511.45,323.6 511.60,322.8 511.75,321.7 511.90,324.9 512.05,323.3 512.20,324.5 512.35,325.2 512.50,323.5 512.65,323.2 512.80,321.8 512.95,324.7 513.10,321.5 513.25,321.9 513.40,323.7 513.55,324.5 513.70,327.5 513.85,321.8 514.00,323.4 514.15,324.2 514.30,328.8 514.45,322.0 514.60,326.3 514.75,325.0 514.90,323.4 515.05,322.9 515.20,324.2 515.35,322.9 515.50,325.7 515.65,322.4 515.80,324.5 515.95,321.1 516.10,323.4 516.25,324.7 516.40,329.0 516.55,324.0 516.70,322.0 516.85,325.7 517.00,325.7 517.15,326.2 517.30,322.8 517.45,326.8 517.60,323.6 517.75,323.3 517.90,325.0 518.05,325.2 518.20,321.7 518.35,324.7 518.50,321.0 518.65,325.5 518.80,325.0 518.95,321.7 519.10,321.5 519.25,321.6 519.40,321.9 519.55,326.0 519.70,322.7 519.85,325.7 520.00,319.7 520.15,322.9 520.30,325.6 520.45,322.1 520.60,324.7 520.75,323.7 520.90,321.3 521.05,320.3 521.20,323.5 521.35,323.3 521.50,324.1 521.65,324.4 521.80,320.7 521.95,322.3 522.10,325.0 522.25,320.4 522.40,325.1 522.55,324.9 522.70,325.6 522.85,323.9 523.00,322.9 523.15,325.1 523.30,321.2 523.45,318.9 523.60,323.2 523.75,320.8 523.90,323.2 524.05,321.8 524.20,323.6 524.35,323.1 524.50,321.7 524.65,327.9 524.80,325.9 524.95,322.2 525.10,322.2 525.25,321.8 525.40,325.6 525.55,323.8 525.70,322.1 525.85,322.1 526.00,323.9 526.15,321.6 526.30,324.4 526.45,321.0 526.60,321.9 526.75,323.8 526.90,322.6 527.05,327.0 527.20,323.7 527.35,324.8 527.50,323.2 527.65,324.9 527.80,324.2 527.95,323.7 528.10,323.9 528.25,324.0 528.40,324.0 528.55,323.5 528.70,323.4 528.85,324.4 529.00,324.8 529.15,324.6 529.30,322.5 529.45,322.7 529.60,322.3 529.75,324.2 529.90,325.3 530.05,326.9 530.20,324.7 530.35,325.4 530.50,326.7 530.65,320.2 530.80,325.9 530.95,326.1 531.10,328.3 531.25,324.9 531.40,323.8 531.55,321.4 531.70,321.8 531.85,324.4 532.00,321.7 532.15,325.0 532.30,323.9 532.45,324.0 532.60,322.9 532.75,326.0 532.90,324.1 533.05,326.1 533.20,325.3 533.35,325.2 533.50,325.5 533.65,325.5 533.80,324.0 533.95,323.2 534.10,324.2 534.25,321.9 534.40,322.5 534.55,326.7 534.70,326.1 534.85,326.0 535.00,323.4 535.15,321.2 535.30,325.6"/>
</g>
<g fill="none" stroke="#0000ff" stroke-width="0.85" stroke-linejoin="round">
<polyline points="46.60,249.4 46.75,248.7 46.90,251.8 47.05,248.0 47.20,250.8 47.35,249.7 47.50,251.5 47.65,247.7 47.80,248.8 47.95,247.2 48.10,249.5 48.25,249.7 48.40,246.2 48.55,249.9 48.70,252.0 48.85,250.1 49.00,252.2 49.15,243.8 49.30,254.1 49.45,251.5 49.60,249.1 49.75,249.9 49.90,250.7 50.05,253.3 50.20,250.6 50.35,247.2 50.50,250.1 50.65,251.9 50.80,250.3 50.95,250.9 51.10,251.8 51.25,250.0 51.40,249.4 51.55,251.5 51.70,250.1 51.85,247.9 52.00,247.8 52.15,247.4 52.30,250.8 52.45,249.3 52.60,248.7 52.75,250.6 52.90,247.4 53.05,250.8 53.20,248.7 53.35,248.6 53.50,247.9 53.65,245.7 53.80,249.3 53.95,249.6 54.10,249.4 54.25,249.8 54.40,247.5 54.55,247.2 54.70,247.7 54.85,251.2 55.00,250.4 55.15,248.0 55.30,248.6 55.45,247.8 55.60,249.3 55.75,249.0 55.90,247.9 56.05,244.6 56.20,248.9 56.35,250.9 56.50,248.5 56.65,251.3 56.80,247.4 56.95,247.1 57.10,248.8 57.25,246.5 57.40,249.0 57.55,251.4 57.70,248.1 57.85,250.1 58.00,250.8 58.15,249.7 58.30,247.7 58.45,251.6 58.60,248.5 58.75,251.3 58.90,246.9 59.05,247.5 59.20,251.0 59.35,250.2 59.50,250.9 59.65,246.8 59.80,255.7 59.95,247.8 60.10,251.3 60.25,250.2 60.40,252.6 60.55,245.3 60.70,250.8 60.85,249.3 61.00,246.7 61.15,251.2 61.30,247.5 61.45,246.4 61.60,243.9 61.75,247.9 61.90,246.4 62.05,248.6 62.20,250.6 62.35,250.8 62.50,246.8 62.65,249.3 62.80,248.0 62.95,248.7 63.10,247.5 63.25,246.0 63.40,247.8 63.55,246.8 63.70,250.1 63.85,252.1 64.00,248.1 64.15,247.9 64.30,250.7 64.45,248.5 64.60,250.3 64.75,252.1 64.90,253.9 65.05,253.3 65.20,248.1 65.35,255.8 65.50,248.2 65.65,251.5 65.80,249.5 65.95,249.0 66.10,250.0 66.25,248.7 66.40,252.9 66.55,251.2 66.70,250.3 66.85,250.3 67.00,251.4 67.15,252.0 67.30,248.7 67.45,249.7 67.60,252.6 67.75,249.8 67.90,247.9 68.05,250.2 68.20,248.5 68.35,247.1 68.50,248.2 68.65,247.8 68.80,250.9 68.95,249.3 69.10,251.3 69.25,251.0 69.40,248.6 69.55,248.7 69.70,251.6 69.85,251.6 70.00,250.8 70.15,251.6 70.30,245.8 70.45,252.5 70.60,249.7 70.75,249.0 70.90,247.2 71.05,248.2 71.20,248.0 71.35,247.8 71.50,249.8 71.65,250.8 71.80,245.6 71.95,248.7 72.10,249.5 72.25,251.5 72.40,248.5 72.55,250.6 72.70,248.4 72.85,252.5 73.00,249.4 73.15,249.5 73.30,248.5 73.45,247.6 73.60,247.7 73.75,250.9 73.90,249.7 74.05,247.6 74.20,250.7 74.35,247.5 74.50,250.6 74.65,250.5 74.80,249.5 74.95,254.6 75.10,250.8 75.25,249.7 75.40,250.4 75.55,248.7 75.70,249.1 75.85,252.7 76.00,250.1 76.15,250.6 76.30,252.8 76.45,249.2 76.60,248.6 76.75,248.4 76.90,250.5 77.05,252.4 77.20,249.4 77.35,249.7 77.50,251.5 77.65,250.6 77.80,251.7 77.95,253.7 78.10,252.2 78.25,249.5 78.40,249.1 78.55,253.0 78.70,250.4 78.85,251.5 79.00,248.3 79.15,251.1 79.30,246.5 79.45,249.8 79.60,248.8 79.75,248.2 79.90,249.7 80.05,247.1 80.20,248.4 80.35,248.6 80.50,251.0 80.65,250.6 80.80,252.0 80.95,248.9 81.10,250.3 81.25,247.9 81.40,248.2 81.55,249.4 81.70,250.9 81.85,246.7 82.00,247.4 82.15,250.3 82.30,252.0 82.45,249.3 82.60,251.1 82.75,246.7 82.90,250.8 83.05,249.7 83.20,250.5 83.35,246.5 83.50,249.2 83.65,250.3 83.80,250.0 83.95,252.7 84.10,247.6 84.25,247.2 84.40,252.1 84.55,247.3 84.70,249.6 84.85,252.2 85.00,249.8 85.15,253.4 85.30,249.6 85.45,248.3 85.60,249.3 85.75,248.5 85.90,249.7 86.05,248.6 86.20,248.1 86.35,247.0 86.50,253.4 86.65,249.8 86.80,248.9 86.95,250.8 87.10,249.4 87.25,250.2 87.40,250.6 87.55,251.3 87.70,247.9 87.85,251.4 88.00,247.3 88.15,251.9 88.30,252.9 88.45,249.1 88.60,250.2 88.75,251.2 88.90,246.9 89.05,251.7 89.20,245.4 89.35,247.6 89.50,248.4 89.65,250.0 89.80,248.6 89.95,248.3 90.10,250.9 90.25,250.9 90.40,251.7 90.55,248.7 90.70,251.4 90.85,251.0 91.00,251.3 91.15,252.9 91.30,251.9 91.45,249.3 91.60,249.5 91.75,249.8 91.90,247.7 92.05,252.4 92.20,249.6 92.35,252.0 92.50,250.0 92.65,246.7 92.80,250.8 92.95,250.1 93.10,251.0 93.25,251.2 93.40,246.4 93.55,249.9 93.70,250.4 93.85,249.3 94.00,252.4 94.15,248.7 94.30,250.7 94.45,249.8 94.60,249.2 94.75,249.6 94.90,251.8 95.05,249.0 95.20,248.7 95.35,246.4 95.50,248.8 95.65,249.9 95.80,250.1 95.95,250.3 96.10,248.9 96.25,250.5 96.40,249.3 96.55,246.5 96.70,253.0 96.85,249.1 97.00,251.8 97.15,248.8 97.30,251.9 97.45,248.6 97.60,249.9 97.75,250.6 97.90,251.7 98.05,250.5 98.20,252.7 98.35,247.7 98.50,248.9 98.65,250.9 98.80,252.3 98.95,251.1 99.10,250.4 99.25,253.2 99.40,252.7 99.55,251.3 99.70,251.2 99.85,251.7 100.00,248.9 100.15,249.9 100.30,248.8 100.45,250.7 100.60,251.5 100.75,250.2 100.90,250.4 101.05,251.3 101.20,250.1 101.35,250.0 101.50,250.8 101.65,252.2 101.80,253.1 101.95,256.6 102.10,252.1 102.25,251.2 102.40,255.4 102.55,250.4 102.70,248.5 102.85,252.4 103.00,250.5 103.15,252.2 103.30,251.5 103.45,251.2 103.60,250.6 103.75,250.5 103.90,251.2 104.05,250.5 104.20,254.4 104.35,251.9 104.50,254.9 104.65,253.8 104.80,250.8 104.95,254.0 105.10,251.8 105.25,255.8 105.40,248.3 105.55,247.9 105.70,249.7 105.85,256.3 106.00,251.6 106.15,251.2 106.30,249.4 106.45,249.5 106.60,253.6 106.75,253.4 106.90,253.2 107.05,253.2 107.20,251.1 107.35,251.5 107.50,251.7 107.65,248.6 107.80,251.5 107.95,252.9 108.10,250.3 108.25,252.1 108.40,251.0 108.55,254.6 108.70,251.1 108.85,251.7 109.00,254.3 109.15,255.1 109.30,252.6 109.45,250.8 109.60,251.2 109.75,247.7 109.90,250.6 110.05,252.1 110.20,250.2 110.35,249.6 110.50,253.3 110.65,252.3 110.80,249.3 110.95,251.8 111.10,251.5 111.25,251.7 111.40,254.1 111.55,252.5 111.70,248.3 111.85,248.4 112.00,252.0 112.15,253.0 112.30,250.8 112.45,252.6 112.60,253.8 112.75,252.7 112.90,256.3 113.05,254.1 113.20,256.3 113.35,252.3 113.50,252.8 113.65,254.0 113.80,254.0 113.95,253.2 114.10,253.9 114.25,254.7 114.40,251.8 114.55,252.4 114.70,255.0 114.85,255.5 115.00,254.3 115.15,250.2 115.30,253.1 115.45,250.3 115.60,251.9 115.75,253.2 115.90,250.4 116.05,254.4 116.20,250.2 116.35,256.9 116.50,252.9 116.65,250.3 116.80,247.8 116.95,252.5 117.10,253.3 117.25,254.5 117.40,252.1 117.55,251.9 117.70,250.5 117.85,252.8 118.00,250.9 118.15,252.7 118.30,253.1 118.45,252.3 118.60,252.9 118.75,254.2 118.90,255.6 119.05,251.7 119.20,253.0 119.35,251.4 119.50,251.4 119.65,254.7 119.80,250.3 119.95,254.8 120.10,255.7 120.25,251.1 120.40,251.5 120.55,251.0 120.70,255.3 120.85,253.8 121.00,253.9 121.15,250.7 121.30,254.0 121.45,255.9 121.60,255.3 121.75,251.4 121.90,253.2 122.05,252.7 122.20,254.5 122.35,252.4 122.50,254.3 122.65,251.9 122.80,252.6 122.95,253.9 123.10,253.8 123.25,251.8 123.40,250.0 123.55,256.0 123.70,254.7 123.85,250.8 124.00,254.9 124.15,251.6 124.30,253.6 124.45,255.2 124.60,250.7 124.75,254.1 124.90,255.2 125.05,253.7 125.20,250.6 125.35,253.0 125.50,251.6 125.65,253.6 125.80,254.3 125.95,254.2 126.10,252.3 126.25,253.0 126.40,255.4 126.55,251.5 126.70,255.3 126.85,253.5 127.00,252.0 127.15,257.0 127.30,253.8 127.45,255.4 127.60,253.0 127.75,254.3 127.90,253.7 128.05,254.6 128.20,248.3 128.35,252.9 128.50,252.9 128.65,252.8 128.80,254.5 128.95,253.9 129.10,254.3 129.25,253.5 129.40,252.5 129.55,253.0 129.70,253.3 129.85,255.0 130.00,252.6 130.15,256.1 130.30,253.4 130.45,255.6 130.60,253.0 130.75,253.9 130.90,251.9 131.05,255.0 131.20,254.5 131.35,253.7 131.50,254.7 131.65,255.0 131.80,253.1 131.95,255.7 132.10,253.8 132.25,255.3 132.40,256.7 132.55,253.2 132.70,253.5 132.85,254.1 133.00,250.4 133.15,254.1 133.30,254.9 133.45,251.7 133.60,253.0 133.75,255.0 133.90,249.9 134.05,255.9 134.20,254.7 134.35,250.7 134.50,253.3 134.65,251.9 134.80,255.6 134.95,253.4 135.10,252.7 135.25,254.5 135.40,253.8 135.55,252.2 135.70,254.3 135.85,250.4 136.00,252.2 136.15,254.5 136.30,252.7 136.45,254.0 136.60,256.5 136.75,250.6 136.90,254.5 137.05,253.3 137.20,251.1 137.35,252.7 137.50,250.9 137.65,250.4 137.80,250.1 137.95,248.7 138.10,248.5 138.25,246.3 138.40,244.4 138.55,241.5"/>
<polyline stroke-width="0.7" points="138.40,244.4 138.55,241.5 138.70,238.1 138.85,234.5 139.00,230.6 139.15,227.2 139.30,225.1 139.45,224.8 139.60,226.4 139.75,229.5 139.90,233.4 140.05,237.3 140.20,240.8 140.35,243.8"/>
<polyline points="140.20,240.8 140.35,243.8 140.50,245.9 140.65,248.4 140.80,248.5 140.95,249.3 141.10,251.4 141.25,252.0 141.40,251.8 141.55,252.1 141.70,252.4 141.85,250.6 142.00,252.9 142.15,252.2 142.30,251.3 142.45,253.4 142.60,250.6 142.75,251.4 142.90,252.4 143.05,247.3 143.20,254.8 143.35,252.1 143.50,253.5 143.65,251.9 143.80,253.9 143.95,257.5 144.10,255.5 144.25,256.2 144.40,255.1 144.55,254.4 144.70,253.2 144.85,251.1 145.00,253.1 145.15,255.4 145.30,253.6 145.45,254.3 145.60,252.6 145.75,256.4 145.90,254.1 146.05,250.6 146.20,254.3 146.35,252.5 146.50,252.9 146.65,256.0 146.80,251.1 146.95,255.4 147.10,252.7 147.25,251.3 147.40,256.3 147.55,253.4 147.70,250.7 147.85,253.9 148.00,255.1 148.15,254.8 148.30,253.5 148.45,253.4 148.60,252.4 148.75,252.7 148.90,252.7 149.05,255.4 149.20,252.2 149.35,254.7 149.50,253.3 149.65,255.8 149.80,252.6 149.95,248.8 150.10,253.3 150.25,255.1 150.40,252.6 150.55,254.1 150.70,254.2 150.85,255.4 151.00,251.1 151.15,250.6 151.30,252.5 151.45,254.2 151.60,254.8 151.75,249.6 151.90,253.5 152.05,253.0 152.20,255.3 152.35,251.0 152.50,253.7 152.65,253.0 152.80,256.1 152.95,254.5 153.10,252.7 153.25,253.4 153.40,254.0 153.55,255.7 153.70,253.7 153.85,253.5 154.00,252.6 154.15,255.1 154.30,253.5 154.45,253.5 154.60,250.5 154.75,252.4 154.90,250.8 155.05,253.9 155.20,252.5 155.35,253.0 155.50,251.4 155.65,251.7 155.80,248.6 155.95,250.5 156.10,250.2 156.25,251.0 156.40,249.2 156.55,247.7 156.70,246.9 156.85,245.4 157.00,244.1 157.15,242.1 157.30,240.8"/>
<polyline stroke-width="0.7" points="157.15,242.1 157.30,240.8 157.45,239.9 157.60,240.2 157.75,241.1 157.90,242.6"/>
<polyline points="157.75,241.1 157.90,242.6 158.05,244.4 158.20,245.8 158.35,247.3 158.50,249.1 158.65,250.3 158.80,251.1 158.95,250.5 159.10,250.8 159.25,251.9 159.40,252.1 159.55,251.7 159.70,253.2 159.85,251.7 160.00,248.8 160.15,252.6 160.30,250.9 160.45,253.1 160.60,250.2 160.75,250.5 160.90,253.9 161.05,254.2 161.20,251.8 161.35,251.0 161.50,251.6 161.65,254.4 161.80,255.4 161.95,252.4 162.10,255.2 162.25,253.6 162.40,252.7 162.55,250.2 162.70,251.3 162.85,253.8 163.00,254.4 163.15,254.9 163.30,252.9 163.45,252.3 163.60,255.3 163.75,252.5 163.90,250.4 164.05,255.1 164.20,253.1 164.35,253.0 164.50,252.9 164.65,251.0 164.80,251.5 164.95,253.1 165.10,253.7 165.25,253.9 165.40,253.8 165.55,249.1 165.70,251.1 165.85,251.0 166.00,250.2 166.15,252.2 166.30,250.4 166.45,251.8 166.60,248.6 166.75,250.9 166.90,250.7 167.05,248.8 167.20,250.0 167.35,250.5 167.50,249.1 167.65,247.7 167.80,246.8 167.95,246.4 168.10,245.2 168.25,244.1 168.40,243.0 168.55,241.6 168.70,240.3 168.85,238.4"/>
<polyline stroke-width="0.7" points="168.70,240.3 168.85,238.4 169.00,236.6 169.15,234.6 169.30,232.7 169.45,230.7 169.60,229.0 169.75,227.4 169.90,226.4 170.05,225.9 170.20,225.8 170.35,226.3 170.50,227.2 170.65,228.5 170.80,230.2 170.95,231.9 171.10,233.7 171.25,235.6 171.40,237.3 171.55,239.1"/>
<polyline points="171.40,237.3 171.55,239.1 171.70,240.2 171.85,241.7 172.00,242.7 172.15,243.2 172.30,244.1 172.45,244.5 172.60,245.3 172.75,246.8 172.90,246.4 173.05,246.9 173.20,246.0 173.35,248.3 173.50,247.5 173.65,251.2 173.80,250.2 173.95,249.9 174.10,249.3 174.25,249.1 174.40,251.5 174.55,250.0 174.70,251.9 174.85,251.4 175.00,253.4 175.15,253.2 175.30,253.3 175.45,249.3 175.60,252.0 175.75,251.0 175.90,250.8 176.05,251.8 176.20,250.8 176.35,249.9 176.50,249.2 176.65,247.3 176.80,245.4 176.95,243.8 177.10,242.3 177.25,240.6"/>
<polyline stroke-width="0.7" points="177.10,242.3 177.25,240.6 177.40,239.4 177.55,239.1 177.70,239.6 177.85,240.4"/>
<polyline points="177.70,239.6 177.85,240.4 178.00,241.3 178.15,243.0 178.30,244.5 178.45,245.2 178.60,245.7 178.75,246.8 178.90,246.1 179.05,248.2 179.20,248.5 179.35,250.1 179.50,248.0 179.65,247.1 179.80,248.8 179.95,249.1 180.10,245.6 180.25,249.7 180.40,247.6 180.55,248.2 180.70,250.8 180.85,248.1 181.00,249.2 181.15,249.5 181.30,248.4 181.45,248.9 181.60,247.2 181.75,246.9 181.90,248.4 182.05,246.3 182.20,245.8 182.35,245.3 182.50,244.4 182.65,243.6 182.80,242.5 182.95,241.2 183.10,239.6 183.25,237.5"/>
<polyline stroke-width="0.7" points="183.10,239.6 183.25,237.5 183.40,235.4 183.55,232.6 183.70,228.6 183.85,223.0 184.00,215.6 184.15,206.2 184.30,195.9 184.45,186.9 184.60,183.0 184.75,186.2 184.90,194.4 185.05,204.1 185.20,212.7 185.35,219.4 185.50,224.1 185.65,227.2 185.80,229.3 185.95,230.6 186.10,231.4"/>
<polyline points="185.95,230.6 186.10,231.4 186.25,232.5 186.40,232.6 186.55,232.8 186.70,233.1 186.85,233.4 187.00,233.0 187.15,232.9 187.30,233.2 187.45,233.5 187.60,235.4 187.75,235.7 187.90,233.6 188.05,235.5 188.20,234.6 188.35,236.6 188.50,232.0 188.65,234.4 188.80,235.4 188.95,235.2 189.10,236.4 189.25,235.1 189.40,236.1 189.55,238.9 189.70,236.0 189.85,234.5 190.00,237.9 190.15,237.0 190.30,241.7 190.45,236.6 190.60,239.2 190.75,240.8 190.90,242.5 191.05,240.0 191.20,240.2 191.35,242.8 191.50,242.4 191.65,242.0 191.80,243.0 191.95,239.3 192.10,244.4 192.25,245.5 192.40,242.5 192.55,245.6 192.70,242.9 192.85,244.2 193.00,244.3 193.15,247.1 193.30,243.6 193.45,244.9 193.60,247.1 193.75,247.2 193.90,244.5 194.05,243.5 194.20,246.8 194.35,247.2 194.50,246.2 194.65,242.3 194.80,248.5 194.95,250.4 195.10,250.1 195.25,247.7 195.40,250.2 195.55,251.1 195.70,247.5 195.85,251.1 196.00,251.3 196.15,250.3 196.30,249.2 196.45,250.1 196.60,247.9 196.75,251.5 196.90,253.0 197.05,249.3 197.20,253.1 197.35,251.1 197.50,251.7 197.65,250.5 197.80,249.9 197.95,249.9 198.10,249.8 198.25,251.4 198.40,253.4 198.55,254.6 198.70,253.1 198.85,252.2 199.00,254.3 199.15,251.8 199.30,251.4 199.45,249.6 199.60,250.8 199.75,250.0 199.90,247.6 200.05,249.4 200.20,249.2 200.35,248.2 200.50,246.7 200.65,248.9 200.80,246.3 200.95,247.8 201.10,246.6 201.25,249.2 201.40,251.5 201.55,250.8 201.70,247.7 201.85,252.5 202.00,248.7 202.15,251.6 202.30,250.3 202.45,251.7 202.60,249.9 202.75,250.8 202.90,249.1 203.05,251.4 203.20,249.7 203.35,251.2 203.50,250.3 203.65,253.4 203.80,253.9 203.95,250.3 204.10,250.3 204.25,250.0 204.40,252.5 204.55,252.5 204.70,255.5 204.85,256.2 205.00,254.6 205.15,254.7 205.30,253.8 205.45,251.1 205.60,253.9 205.75,256.0 205.90,254.1 206.05,253.3 206.20,252.3 206.35,254.5 206.50,250.7 206.65,253.4 206.80,254.3 206.95,255.3 207.10,249.8 207.25,251.5 207.40,255.1 207.55,255.2 207.70,256.6 207.85,253.9 208.00,256.1 208.15,255.4 208.30,251.9 208.45,252.6 208.60,251.9 208.75,251.6 208.90,251.0 209.05,254.2 209.20,254.0 209.35,253.9 209.50,254.0 209.65,254.6 209.80,252.2 209.95,255.7 210.10,252.4 210.25,255.0 210.40,252.4 210.55,252.9 210.70,251.4 210.85,255.2 211.00,252.1 211.15,251.9 211.30,251.0 211.45,256.9 211.60,255.9 211.75,256.9 211.90,254.7 212.05,255.5 212.20,249.5 212.35,253.6 212.50,253.4 212.65,253.9 212.80,252.4 212.95,253.9 213.10,251.7 213.25,255.9 213.40,249.9 213.55,252.3 213.70,249.4 213.85,255.1 214.00,252.3 214.15,251.1 214.30,251.3 214.45,253.7 214.60,254.4 214.75,252.1 214.90,253.6 215.05,255.8 215.20,256.5 215.35,254.7 215.50,255.0 215.65,253.8 215.80,253.9 215.95,253.5 216.10,251.4 216.25,254.0 216.40,250.7 216.55,253.5 216.70,252.8 216.85,255.9 217.00,245.4 217.15,254.2 217.30,253.3 217.45,249.7 217.60,255.8 217.75,249.7 217.90,251.2 218.05,252.4 218.20,249.8 218.35,250.4 218.50,248.4 218.65,249.9 218.80,246.7 218.95,248.7 219.10,247.2 219.25,244.4 219.40,244.4 219.55,245.3 219.70,244.2 219.85,241.6 220.00,238.6 220.15,244.0 220.30,244.5 220.45,239.9 220.60,244.4 220.75,238.0 220.90,242.1 221.05,243.8 221.20,244.0 221.35,238.2 221.50,242.6 221.65,244.8 221.80,243.9 221.95,243.0 222.10,245.5 222.25,242.4 222.40,246.2 222.55,242.0 222.70,251.5 222.85,247.7 223.00,245.8 223.15,249.5 223.30,249.2 223.45,246.4 223.60,247.0 223.75,251.7 223.90,248.9 224.05,251.5 224.20,249.2 224.35,249.6 224.50,249.3 224.65,249.0 224.80,251.8 224.95,251.7 225.10,251.4 225.25,250.0 225.40,250.8 225.55,252.1 225.70,250.2 225.85,252.7 226.00,248.6 226.15,250.2 226.30,251.4 226.45,248.9 226.60,252.7 226.75,253.1 226.90,252.3 227.05,249.1 227.20,251.1 227.35,249.5 227.50,247.8 227.65,251.3 227.80,252.4 227.95,250.0 228.10,253.1 228.25,254.5 228.40,253.1 228.55,252.0 228.70,255.2 228.85,250.6 229.00,254.7 229.15,252.0 229.30,256.3 229.45,253.7 229.60,253.6 229.75,255.0 229.90,256.0 230.05,248.8 230.20,252.5 230.35,253.6 230.50,252.4 230.65,250.6 230.80,254.4 230.95,253.7 231.10,253.8 231.25,254.1 231.40,253.4 231.55,250.7 231.70,251.1 231.85,254.3 232.00,254.3 232.15,251.8 232.30,251.2 232.45,250.7 232.60,251.6 232.75,254.5 232.90,249.7 233.05,252.8 233.20,252.9 233.35,252.2 233.50,250.0 233.65,252.3 233.80,252.1 233.95,251.1 234.10,249.8 234.25,249.1 234.40,253.9 234.55,251.4 234.70,249.1 234.85,251.7 235.00,250.8 235.15,252.1 235.30,251.7 235.45,248.9 235.60,250.4 235.75,255.6 235.90,248.8 236.05,250.6 236.20,250.2 236.35,251.0 236.50,251.8 236.65,249.4 236.80,251.1 236.95,250.4 237.10,249.7 237.25,248.1 237.40,248.6 237.55,247.1 237.70,247.1 237.85,245.5 238.00,244.6 238.15,243.1 238.30,242.0 238.45,240.7 238.60,239.0"/>
<polyline stroke-width="0.7" points="238.45,240.7 238.60,239.0 238.75,237.4 238.90,235.2 239.05,232.8 239.20,228.9 239.35,222.9 239.50,213.4 239.65,200.3 239.80,185.6 239.95,175.6 240.10,178.0 240.25,190.6 240.40,205.3 240.55,217.4 240.70,225.8 240.85,231.0 241.00,234.3 241.15,236.7 241.30,238.7 241.45,240.2 241.60,242.1"/>
<polyline points="241.45,240.2 241.60,242.1 241.75,243.5 241.90,244.6 242.05,245.5 242.20,246.7 242.35,246.9 242.50,248.2 242.65,248.4 242.80,249.8 242.95,250.0 243.10,250.5 243.25,250.4 243.40,249.3 243.55,253.5 243.70,253.4 243.85,253.5 244.00,252.6 244.15,251.7 244.30,252.9 244.45,252.9 244.60,254.1 244.75,251.8 244.90,254.7 245.05,255.4 245.20,253.6 245.35,256.7 245.50,253.4 245.65,255.1 245.80,255.0 245.95,254.3 246.10,255.5 246.25,255.3 246.40,260.1 246.55,255.1 246.70,256.7 246.85,254.1 247.00,256.5 247.15,256.7 247.30,256.7 247.45,254.4 247.60,256.6 247.75,258.2 247.90,253.8 248.05,257.9 248.20,256.6 248.35,254.3 248.50,254.9 248.65,251.4 248.80,256.5 248.95,257.3 249.10,251.2 249.25,255.7 249.40,256.0 249.55,252.6 249.70,251.2 249.85,253.4 250.00,256.3 250.15,257.2 250.30,253.8 250.45,256.4 250.60,254.1 250.75,249.7 250.90,258.6 251.05,256.0 251.20,253.3 251.35,255.8 251.50,250.3 251.65,256.1 251.80,254.2 251.95,255.7 252.10,252.8 252.25,250.9 252.40,254.0 252.55,257.0 252.70,256.2 252.85,257.9 253.00,252.9 253.15,257.4 253.30,257.4 253.45,254.7 253.60,257.2 253.75,253.1 253.90,258.3 254.05,257.1 254.20,250.7 254.35,252.3 254.50,256.0 254.65,256.7 254.80,253.3 254.95,254.2 255.10,256.0 255.25,253.4 255.40,253.6 255.55,253.9 255.70,252.3 255.85,252.6 256.00,258.7 256.15,255.8 256.30,252.7 256.45,257.0 256.60,255.5 256.75,255.5 256.90,256.6 257.05,255.2 257.20,255.5 257.35,254.7 257.50,257.9 257.65,258.2 257.80,256.0 257.95,257.3 258.10,257.1 258.25,252.6 258.40,258.2 258.55,255.0 258.70,255.0 258.85,256.3 259.00,251.9 259.15,256.4 259.30,256.7 259.45,256.5 259.60,254.8 259.75,255.7 259.90,258.6 260.05,259.5 260.20,255.6 260.35,254.7 260.50,258.5 260.65,255.5 260.80,255.7 260.95,253.5 261.10,256.5 261.25,254.3 261.40,254.3 261.55,258.1 261.70,255.5 261.85,255.0 262.00,257.8 262.15,255.0 262.30,257.6 262.45,255.9 262.60,254.1 262.75,257.4 262.90,253.2 263.05,259.3 263.20,256.8 263.35,254.0 263.50,255.0 263.65,257.6 263.80,255.1 263.95,257.2 264.10,258.1 264.25,256.2 264.40,257.3 264.55,257.1 264.70,257.7 264.85,254.4 265.00,259.8 265.15,255.9 265.30,256.2 265.45,257.3 265.60,255.9 265.75,258.1 265.90,254.5 266.05,258.8 266.20,255.6 266.35,255.9 266.50,257.7 266.65,255.3 266.80,253.9 266.95,256.4 267.10,256.9 267.25,254.0 267.40,256.8 267.55,253.8 267.70,256.9 267.85,254.5 268.00,253.7 268.15,257.3 268.30,255.5 268.45,258.0 268.60,255.4 268.75,252.9 268.90,257.2 269.05,255.0 269.20,257.4 269.35,256.7 269.50,257.0 269.65,253.1 269.80,256.8 269.95,256.3 270.10,254.8 270.25,253.3 270.40,257.8 270.55,258.5 270.70,257.7 270.85,258.4 271.00,255.9 271.15,256.2 271.30,258.0 271.45,253.7 271.60,256.3 271.75,256.3 271.90,258.0 272.05,250.1 272.20,259.3 272.35,255.6 272.50,254.0 272.65,253.8 272.80,255.1 272.95,254.9 273.10,256.7 273.25,258.1 273.40,254.6 273.55,259.5 273.70,254.9 273.85,255.3 274.00,257.4 274.15,258.4 274.30,256.7 274.45,255.3 274.60,255.6 274.75,257.4 274.90,256.8 275.05,256.0 275.20,254.2 275.35,257.8 275.50,261.2 275.65,257.1 275.80,258.1 275.95,255.0 276.10,254.2 276.25,252.5 276.40,258.7 276.55,256.9 276.70,257.5 276.85,254.7 277.00,257.5 277.15,254.0 277.30,253.2 277.45,257.7 277.60,255.3 277.75,259.6 277.90,253.2 278.05,259.5 278.20,256.4 278.35,255.5 278.50,258.4 278.65,257.8 278.80,257.3 278.95,254.3 279.10,258.5 279.25,256.1 279.40,259.2 279.55,256.2 279.70,256.0 279.85,259.2 280.00,257.7 280.15,256.5 280.30,258.9 280.45,255.6 280.60,255.4 280.75,258.3 280.90,255.6 281.05,259.1 281.20,258.9 281.35,257.1 281.50,254.1 281.65,257.6 281.80,256.9 281.95,255.9 282.10,253.6 282.25,257.4 282.40,253.1 282.55,258.8 282.70,255.0 282.85,252.5 283.00,256.4 283.15,254.0 283.30,256.8 283.45,255.9 283.60,250.3 283.75,256.2 283.90,254.5 284.05,253.8 284.20,253.3 284.35,255.9 284.50,258.5 284.65,259.0 284.80,253.9 284.95,255.8 285.10,258.1 285.25,253.8 285.40,258.9 285.55,254.0 285.70,255.7 285.85,255.4 286.00,253.8 286.15,256.6 286.30,254.2 286.45,255.3 286.60,249.3 286.75,251.2 286.90,253.6 287.05,257.1 287.20,253.3 287.35,251.8 287.50,254.4 287.65,256.8 287.80,250.9 287.95,254.0 288.10,253.7 288.25,257.6 288.40,253.6 288.55,253.9 288.70,255.2 288.85,253.7 289.00,250.9 289.15,252.5 289.30,254.2 289.45,255.1 289.60,251.6 289.75,250.0 289.90,255.2 290.05,251.8 290.20,256.9 290.35,253.4 290.50,250.3 290.65,252.3 290.80,253.6 290.95,249.8 291.10,254.4 291.25,251.9 291.40,249.5 291.55,250.9 291.70,249.1 291.85,250.8 292.00,249.8 292.15,252.3 292.30,251.1 292.45,249.7 292.60,248.5 292.75,251.3 292.90,247.8 293.05,248.7 293.20,251.6 293.35,246.4 293.50,247.5 293.65,247.0 293.80,246.6 293.95,250.2 294.10,249.4 294.25,248.5 294.40,246.4 294.55,248.5 294.70,251.0 294.85,250.7 295.00,251.7 295.15,250.4 295.30,247.6 295.45,251.0 295.60,251.3 295.75,252.5 295.90,252.2 296.05,252.7 296.20,252.5 296.35,254.8 296.50,252.4 296.65,253.2 296.80,252.2 296.95,255.4 297.10,256.4 297.25,250.6 297.40,252.5 297.55,253.4 297.70,254.1 297.85,252.8 298.00,254.6 298.15,255.5 298.30,256.8 298.45,253.8 298.60,255.9 298.75,254.6 298.90,253.7 299.05,254.0 299.20,255.0 299.35,255.7 299.50,256.5 299.65,257.2 299.80,258.3 299.95,253.3 300.10,256.3 300.25,252.8 300.40,255.5 300.55,257.6 300.70,254.6 300.85,251.3 301.00,254.5 301.15,256.1 301.30,254.6 301.45,253.4 301.60,250.5 301.75,250.3 301.90,248.6 302.05,249.2 302.20,249.2 302.35,250.7 302.50,253.7 302.65,249.3 302.80,251.4 302.95,255.6 303.10,253.4 303.25,253.2 303.40,256.1 303.55,258.3 303.70,255.1 303.85,259.5 304.00,257.3 304.15,258.7 304.30,254.5 304.45,255.5 304.60,257.7 304.75,258.7 304.90,254.7 305.05,257.3 305.20,255.5 305.35,255.2 305.50,255.2 305.65,259.1 305.80,258.4 305.95,250.5 306.10,259.6 306.25,257.4 306.40,259.8 306.55,255.8 306.70,254.3 306.85,256.6 307.00,259.4 307.15,254.8 307.30,256.7 307.45,257.2 307.60,258.4 307.75,260.8 307.90,263.7 308.05,255.9 308.20,257.2 308.35,256.4 308.50,256.4 308.65,255.9 308.80,258.6 308.95,255.2 309.10,256.5 309.25,258.8 309.40,256.1 309.55,258.2 309.70,255.7 309.85,258.5 310.00,256.8 310.15,257.0 310.30,256.6 310.45,259.2 310.60,255.1 310.75,254.8 310.90,259.2 311.05,255.7 311.20,258.5 311.35,255.8 311.50,258.2 311.65,255.3 311.80,262.3 311.95,258.8 312.10,258.1 312.25,257.6 312.40,256.4 312.55,257.0 312.70,256.7 312.85,255.5 313.00,254.2 313.15,254.2 313.30,257.4 313.45,258.9 313.60,253.9 313.75,258.8 313.90,258.9 314.05,259.7 314.20,255.1 314.35,257.6 314.50,257.2 314.65,255.7 314.80,255.6 314.95,256.5 315.10,255.3 315.25,258.2 315.40,259.4 315.55,257.8 315.70,258.4 315.85,256.0 316.00,255.7 316.15,256.5 316.30,255.6 316.45,256.3 316.60,256.3 316.75,255.9 316.90,253.1 317.05,257.9 317.20,254.3 317.35,254.7 317.50,257.6 317.65,260.1 317.80,259.9 317.95,258.8 318.10,258.3 318.25,256.0 318.40,257.2 318.55,257.3 318.70,260.0 318.85,256.4 319.00,256.7 319.15,254.7 319.30,256.6 319.45,258.6 319.60,255.7 319.75,255.3 319.90,259.9 320.05,256.4 320.20,258.6 320.35,253.1 320.50,254.8 320.65,252.9 320.80,258.9 320.95,258.2 321.10,256.6 321.25,252.7 321.40,256.4 321.55,255.5 321.70,256.0 321.85,255.5 322.00,254.0 322.15,256.6 322.30,255.2 322.45,257.1 322.60,256.5 322.75,255.9 322.90,255.7 323.05,257.8 323.20,255.0 323.35,253.3 323.50,251.7 323.65,252.1 323.80,253.7 323.95,250.9 324.10,251.4 324.25,251.9 324.40,249.7 324.55,251.2 324.70,251.2 324.85,252.5 325.00,251.0 325.15,249.2 325.30,250.1 325.45,251.7 325.60,251.9 325.75,248.6 325.90,248.3 326.05,251.9 326.20,248.4 326.35,250.9 326.50,249.3 326.65,250.3 326.80,250.4 326.95,251.2 327.10,255.3 327.25,250.8 327.40,250.0 327.55,254.4 327.70,251.0 327.85,251.6 328.00,251.0 328.15,253.8 328.30,252.6 328.45,254.9 328.60,254.7 328.75,255.7 328.90,252.6 329.05,254.2 329.20,255.6 329.35,255.8 329.50,253.6 329.65,254.2 329.80,259.3 329.95,254.8 330.10,252.8 330.25,255.5 330.40,256.2 330.55,256.6 330.70,256.5 330.85,253.9 331.00,258.5 331.15,255.8 331.30,254.5 331.45,253.2 331.60,257.3 331.75,253.7 331.90,251.7 332.05,256.1 332.20,254.7 332.35,256.6 332.50,255.5 332.65,257.2 332.80,255.5 332.95,256.2 333.10,257.3 333.25,256.5 333.40,254.0 333.55,257.9 333.70,257.2 333.85,254.7 334.00,256.5 334.15,255.5 334.30,256.3 334.45,255.1 334.60,253.1 334.75,255.6 334.90,256.4 335.05,256.3 335.20,256.3 335.35,254.0 335.50,253.9 335.65,254.6 335.80,250.9 335.95,255.5 336.10,251.5 336.25,253.5 336.40,255.4 336.55,253.5 336.70,254.7 336.85,256.3 337.00,253.3 337.15,253.0 337.30,256.3 337.45,255.5 337.60,254.5 337.75,258.5 337.90,251.3 338.05,253.3 338.20,254.7 338.35,251.2 338.50,252.0 338.65,251.3 338.80,253.8 338.95,254.0 339.10,251.2 339.25,253.0 339.40,255.0 339.55,251.9 339.70,254.5 339.85,251.4 340.00,260.9 340.15,253.5 340.30,252.0 340.45,248.6 340.60,250.5 340.75,246.7 340.90,247.2 341.05,243.4 341.20,244.7 341.35,249.0 341.50,244.0 341.65,243.0 341.80,243.7 341.95,244.3 342.10,243.6 342.25,246.7 342.40,247.3 342.55,249.1 342.70,249.2 342.85,249.8 343.00,252.5 343.15,250.6 343.30,250.4 343.45,251.5 343.60,253.2 343.75,252.2 343.90,254.8 344.05,251.8 344.20,258.5 344.35,256.7 344.50,254.2 344.65,253.7 344.80,253.6 344.95,253.8 345.10,253.2 345.25,256.7 345.40,254.8 345.55,256.1 345.70,253.5 345.85,254.2 346.00,256.0 346.15,255.0 346.30,254.1 346.45,256.6 346.60,255.1 346.75,255.2 346.90,258.0 347.05,256.2 347.20,253.7 347.35,252.5 347.50,253.9 347.65,257.6 347.80,254.9 347.95,256.3 348.10,255.8 348.25,254.1 348.40,254.4 348.55,255.7 348.70,253.5 348.85,256.2 349.00,255.4 349.15,256.4 349.30,255.7 349.45,253.6 349.60,252.7 349.75,254.5 349.90,254.8 350.05,254.6 350.20,253.8 350.35,255.9 350.50,257.2 350.65,253.7 350.80,256.4 350.95,251.0 351.10,255.1 351.25,253.4 351.40,253.6 351.55,255.5 351.70,252.0 351.85,249.6 352.00,249.1 352.15,252.5 352.30,253.0 352.45,249.2 352.60,251.4 352.75,250.5 352.90,252.1 353.05,252.5 353.20,251.8 353.35,249.9 353.50,250.1 353.65,251.5 353.80,251.9 353.95,254.1 354.10,255.0 354.25,251.4 354.40,254.1 354.55,256.7 354.70,254.7 354.85,253.6 355.00,252.8 355.15,250.7 355.30,252.2 355.45,253.4 355.60,252.9 355.75,255.9 355.90,254.7 356.05,252.9 356.20,252.9 356.35,252.9 356.50,255.1 356.65,254.7 356.80,255.6 356.95,254.2 357.10,256.5 357.25,256.3 357.40,255.4 357.55,253.4 357.70,255.9 357.85,254.0 358.00,255.6 358.15,254.2 358.30,256.6 358.45,253.8 358.60,255.3 358.75,256.7 358.90,255.7 359.05,258.1 359.20,256.2 359.35,255.3 359.50,252.1 359.65,254.9 359.80,254.1 359.95,254.6 360.10,254.9 360.25,257.1 360.40,254.1 360.55,254.4 360.70,254.8 360.85,257.6 361.00,257.5 361.15,258.6 361.30,255.6 361.45,258.2 361.60,256.1 361.75,254.9 361.90,257.0 362.05,256.4 362.20,255.9 362.35,257.7 362.50,256.0 362.65,257.5 362.80,258.6 362.95,257.6 363.10,256.6 363.25,256.2 363.40,253.4 363.55,256.9 363.70,259.4 363.85,256.5 364.00,254.7 364.15,257.0 364.30,256.1 364.45,259.3 364.60,254.6 364.75,256.3 364.90,256.8 365.05,256.9 365.20,256.7 365.35,256.2 365.50,254.3 365.65,257.8 365.80,256.6 365.95,254.1 366.10,256.0 366.25,252.6 366.40,258.7 366.55,256.3 366.70,254.9 366.85,251.0 367.00,253.6 367.15,247.9 367.30,248.4 367.45,247.7 367.60,245.6 367.75,246.0 367.90,247.8 368.05,243.4 368.20,250.6 368.35,241.7 368.50,245.7 368.65,244.3 368.80,248.7 368.95,249.8 369.10,251.4 369.25,248.8 369.40,249.9 369.55,252.6 369.70,253.1 369.85,253.4 370.00,253.9 370.15,254.3 370.30,255.4 370.45,256.4 370.60,255.3 370.75,256.7 370.90,253.9 371.05,258.6 371.20,255.0 371.35,253.5 371.50,255.4 371.65,254.4 371.80,256.1 371.95,257.2 372.10,253.2 372.25,254.5 372.40,254.4 372.55,256.7 372.70,255.5 372.85,255.4 373.00,257.6 373.15,256.0 373.30,253.7 373.45,254.6 373.60,257.8 373.75,258.0 373.90,255.1 374.05,255.4 374.20,255.4 374.35,254.0 374.50,256.0 374.65,255.4 374.80,257.6 374.95,254.6 375.10,253.9 375.25,258.3 375.40,253.9 375.55,256.9 375.70,253.5 375.85,255.1 376.00,255.4 376.15,257.5 376.30,253.4 376.45,256.1 376.60,253.2 376.75,255.7 376.90,253.3 377.05,256.3 377.20,251.6 377.35,254.9 377.50,253.3 377.65,255.1 377.80,253.7 377.95,251.7 378.10,252.9 378.25,253.1 378.40,252.0 378.55,255.6 378.70,253.8 378.85,252.4 379.00,250.5 379.15,254.7 379.30,248.5 379.45,248.7 379.60,249.4 379.75,244.7 379.90,245.3 380.05,249.0 380.20,249.6 380.35,252.0 380.50,251.5 380.65,249.9 380.80,253.4 380.95,251.8 381.10,249.7 381.25,252.5 381.40,252.7 381.55,254.6 381.70,252.4 381.85,256.4 382.00,257.6 382.15,255.1 382.30,254.3 382.45,257.2 382.60,257.4 382.75,252.7 382.90,258.3 383.05,254.4 383.20,258.7 383.35,252.9 383.50,256.7 383.65,253.3 383.80,254.3 383.95,254.3 384.10,253.9 384.25,255.9 384.40,259.7 384.55,255.2 384.70,258.5 384.85,256.3 385.00,256.2 385.15,254.5 385.30,254.2 385.45,253.6 385.60,253.8 385.75,251.8 385.90,255.1 386.05,256.6 386.20,254.0 386.35,256.3 386.50,254.7 386.65,253.5 386.80,250.9 386.95,250.2 387.10,255.4 387.25,250.1 387.40,252.7 387.55,254.3 387.70,254.8 387.85,254.7 388.00,252.6 388.15,252.1 388.30,252.9 388.45,254.8 388.60,257.1 388.75,256.4 388.90,255.8 389.05,251.5 389.20,252.2 389.35,252.9 389.50,251.5 389.65,252.7 389.80,250.7 389.95,253.3 390.10,253.3 390.25,250.4 390.40,251.7 390.55,250.2 390.70,253.2 390.85,253.9 391.00,252.5 391.15,253.4 391.30,253.5 391.45,253.9 391.60,251.3 391.75,252.9 391.90,254.2 392.05,255.2 392.20,253.6 392.35,255.1 392.50,254.9 392.65,251.6 392.80,254.9 392.95,254.6 393.10,252.6 393.25,255.0 393.40,249.6 393.55,252.0 393.70,252.7 393.85,252.0 394.00,255.3 394.15,259.1 394.30,252.9 394.45,256.1 394.60,255.6 394.75,254.7 394.90,252.8 395.05,254.6 395.20,254.8 395.35,253.6 395.50,253.1 395.65,259.6 395.80,255.7 395.95,254.7 396.10,255.8 396.25,257.3 396.40,254.8 396.55,253.2 396.70,251.0 396.85,255.8 397.00,255.7 397.15,254.9 397.30,258.0 397.45,254.3 397.60,256.7 397.75,255.1 397.90,254.2 398.05,254.6 398.20,257.8 398.35,257.2 398.50,256.7 398.65,252.8 398.80,255.0 398.95,258.4 399.10,256.5 399.25,255.9 399.40,254.4 399.55,255.5 399.70,256.2 399.85,255.9 400.00,258.5 400.15,257.1 400.30,251.1 400.45,254.4 400.60,260.0 400.75,253.3 400.90,254.3 401.05,255.7 401.20,256.0 401.35,255.9 401.50,253.4 401.65,254.3 401.80,251.6 401.95,252.6 402.10,253.2 402.25,257.2 402.40,257.0 402.55,252.9 402.70,255.0 402.85,251.0 403.00,252.3 403.15,251.8 403.30,253.3 403.45,253.4 403.60,255.6 403.75,251.7 403.90,255.3 404.05,254.7 404.20,249.9 404.35,246.7 404.50,252.1 404.65,252.1 404.80,254.4 404.95,255.1 405.10,253.0 405.25,252.7 405.40,254.4 405.55,258.0 405.70,255.8 405.85,253.8 406.00,258.2 406.15,255.8 406.30,253.4 406.45,256.2 406.60,257.3 406.75,256.0 406.90,258.7 407.05,255.7 407.20,255.5 407.35,252.4 407.50,252.3 407.65,254.8 407.80,257.2 407.95,256.0 408.10,256.7 408.25,254.5 408.40,256.6 408.55,258.5 408.70,256.1 408.85,254.3 409.00,259.1 409.15,258.6 409.30,257.7 409.45,253.7 409.60,255.8 409.75,257.5 409.90,258.2 410.05,258.7 410.20,255.2 410.35,257.7 410.50,257.7 410.65,253.8 410.80,257.4 410.95,255.5 411.10,255.2 411.25,254.0 411.40,256.5 411.55,254.4 411.70,256.0 411.85,256.3 412.00,254.7 412.15,254.8 412.30,253.7 412.45,251.9 412.60,256.7 412.75,259.1 412.90,256.0 413.05,257.9 413.20,258.1 413.35,253.3 413.50,253.8 413.65,256.3 413.80,258.8 413.95,257.7 414.10,257.0 414.25,256.5 414.40,254.3 414.55,257.1 414.70,257.7 414.85,256.1 415.00,258.9 415.15,256.4 415.30,255.0 415.45,256.9 415.60,256.1 415.75,255.4 415.90,256.5 416.05,256.4 416.20,255.4 416.35,257.4 416.50,255.5 416.65,256.1 416.80,258.1 416.95,254.7 417.10,258.7 417.25,256.4 417.40,253.1 417.55,255.7 417.70,258.0 417.85,253.1 418.00,256.0 418.15,254.5 418.30,253.3 418.45,256.7 418.60,258.5 418.75,253.8 418.90,255.3 419.05,256.1 419.20,254.8 419.35,260.6 419.50,253.8 419.65,260.2 419.80,258.6 419.95,259.7 420.10,257.8 420.25,258.5 420.40,256.0 420.55,258.5 420.70,259.1 420.85,257.6 421.00,257.5 421.15,258.1 421.30,255.2 421.45,259.8 421.60,256.3 421.75,252.9 421.90,256.4 422.05,255.9 422.20,257.1 422.35,259.7 422.50,253.7 422.65,259.6 422.80,259.7 422.95,257.1 423.10,257.6 423.25,257.7 423.40,258.3 423.55,253.9 423.70,261.6 423.85,257.2 424.00,257.5 424.15,256.6 424.30,257.8 424.45,256.4 424.60,255.6 424.75,258.0 424.90,260.6 425.05,254.9 425.20,254.4 425.35,259.9 425.50,259.7 425.65,255.3 425.80,256.4 425.95,258.4 426.10,257.0 426.25,256.8 426.40,258.8 426.55,257.8 426.70,261.0 426.85,256.6 427.00,256.2 427.15,256.5 427.30,259.4 427.45,255.3 427.60,260.1 427.75,254.9 427.90,257.9 428.05,255.4 428.20,257.5 428.35,256.2 428.50,255.8 428.65,259.6 428.80,259.3 428.95,259.3 429.10,256.8 429.25,255.4 429.40,258.1 429.55,256.8 429.70,260.3 429.85,257.1 430.00,254.1 430.15,257.3 430.30,257.0 430.45,256.3 430.60,258.1 430.75,261.0 430.90,257.7 431.05,259.6 431.20,257.2 431.35,255.2 431.50,255.5 431.65,258.8 431.80,257.0 431.95,256.1 432.10,255.4 432.25,260.1 432.40,257.3 432.55,256.6 432.70,260.3 432.85,258.9 433.00,257.3 433.15,254.6 433.30,256.7 433.45,259.9 433.60,256.2 433.75,256.1 433.90,255.1 434.05,256.3 434.20,259.0 434.35,256.6 434.50,257.3 434.65,256.8 434.80,257.1 434.95,260.0 435.10,257.1 435.25,254.3 435.40,255.9 435.55,255.8 435.70,255.6 435.85,252.3 436.00,256.0 436.15,257.0 436.30,256.5 436.45,251.3 436.60,252.3 436.75,258.2 436.90,256.5 437.05,253.5 437.20,254.1 437.35,252.4 437.50,251.7 437.65,253.6 437.80,251.0 437.95,250.5 438.10,254.5 438.25,245.0 438.40,252.0 438.55,251.6 438.70,250.2 438.85,249.0 439.00,250.7 439.15,249.7 439.30,251.1 439.45,250.4 439.60,251.6 439.75,251.7 439.90,248.4 440.05,250.0 440.20,253.0 440.35,255.3 440.50,253.6 440.65,248.4 440.80,254.6 440.95,252.5 441.10,256.6 441.25,252.0 441.40,253.9 441.55,252.6 441.70,255.9 441.85,256.5 442.00,252.8 442.15,258.0 442.30,251.8 442.45,255.0 442.60,256.5 442.75,254.0 442.90,254.3 443.05,253.1 443.20,257.2 443.35,253.1 443.50,256.6 443.65,252.5 443.80,255.5 443.95,255.3 444.10,259.7 444.25,256.3 444.40,257.0 444.55,254.7 444.70,260.3 444.85,254.2 445.00,259.2 445.15,255.6 445.30,257.1 445.45,254.2 445.60,254.6 445.75,258.8 445.90,256.7 446.05,252.7 446.20,257.8 446.35,254.8 446.50,258.9 446.65,259.5 446.80,256.0 446.95,256.8 447.10,255.9 447.25,258.4 447.40,258.9 447.55,260.1 447.70,255.6 447.85,256.5 448.00,260.0 448.15,259.0 448.30,255.0 448.45,254.4 448.60,258.2 448.75,257.2 448.90,259.0 449.05,258.1 449.20,257.6 449.35,255.2 449.50,258.6 449.65,256.3 449.80,258.2 449.95,260.9 450.10,258.7 450.25,257.0 450.40,257.4 450.55,258.1 450.70,256.6 450.85,256.8 451.00,259.4 451.15,254.7 451.30,257.7 451.45,255.9 451.60,256.7 451.75,259.1 451.90,256.0 452.05,257.1 452.20,259.9 452.35,257.9 452.50,258.7 452.65,256.8 452.80,260.4 452.95,256.8 453.10,259.6 453.25,259.3 453.40,255.2 453.55,258.5 453.70,259.1 453.85,259.4 454.00,259.4 454.15,261.0 454.30,257.2 454.45,256.1 454.60,256.3 454.75,257.0 454.90,258.2 455.05,256.9 455.20,257.0 455.35,259.4 455.50,261.7 455.65,256.0 455.80,258.1 455.95,259.5 456.10,258.9 456.25,259.9 456.40,259.9 456.55,254.8 456.70,257.3 456.85,256.0 457.00,258.3 457.15,258.4 457.30,255.8 457.45,256.1 457.60,260.0 457.75,260.0 457.90,256.1 458.05,257.5 458.20,257.4 458.35,264.0 458.50,257.9 458.65,258.7 458.80,260.3 458.95,257.0 459.10,257.3 459.25,257.5 459.40,259.5 459.55,257.8 459.70,260.6 459.85,256.8 460.00,259.0 460.15,259.7 460.30,257.3 460.45,259.5 460.60,255.3 460.75,260.4 460.90,255.8 461.05,259.8 461.20,258.5 461.35,261.5 461.50,259.0 461.65,256.3 461.80,257.8 461.95,257.5 462.10,256.5 462.25,257.4 462.40,261.6 462.55,256.9 462.70,257.5 462.85,258.9 463.00,256.6 463.15,259.4 463.30,256.6 463.45,259.5 463.60,260.3 463.75,257.9 463.90,258.2 464.05,257.8 464.20,256.7 464.35,259.3 464.50,260.8 464.65,260.8 464.80,258.5 464.95,255.5 465.10,257.1 465.25,256.1 465.40,254.8 465.55,255.6 465.70,259.4 465.85,258.2 466.00,259.5 466.15,257.1 466.30,258.0 466.45,254.5 466.60,256.7 466.75,254.1 466.90,254.6 467.05,255.1 467.20,257.7 467.35,256.0 467.50,260.1 467.65,255.3 467.80,258.6 467.95,261.7 468.10,257.2 468.25,256.9 468.40,258.0 468.55,256.0 468.70,257.0 468.85,256.7 469.00,256.6 469.15,257.0 469.30,256.5 469.45,258.2 469.60,257.2 469.75,258.2 469.90,258.7 470.05,256.4 470.20,255.3 470.35,258.2 470.50,256.5 470.65,257.3 470.80,256.8 470.95,255.9 471.10,256.8 471.25,258.2 471.40,256.6 471.55,259.3 471.70,259.4 471.85,260.2 472.00,257.5 472.15,257.6 472.30,254.8 472.45,257.8 472.60,258.6 472.75,259.3 472.90,254.4 473.05,261.0 473.20,255.8 473.35,258.9 473.50,260.4 473.65,262.0 473.80,257.7 473.95,256.7 474.10,256.0 474.25,253.6 474.40,258.5 474.55,258.1 474.70,253.7 474.85,260.0 475.00,256.6 475.15,254.3 475.30,259.9 475.45,258.0 475.60,258.5 475.75,255.7 475.90,260.7 476.05,257.8 476.20,258.7 476.35,255.3 476.50,258.0 476.65,258.9 476.80,258.4 476.95,258.0 477.10,259.4 477.25,259.0 477.40,257.3 477.55,255.1 477.70,255.7 477.85,258.6 478.00,255.4 478.15,256.5 478.30,258.1 478.45,256.1 478.60,259.9 478.75,256.6 478.90,259.5 479.05,258.3 479.20,259.1 479.35,258.4 479.50,255.4 479.65,257.2 479.80,255.9 479.95,254.3 480.10,252.9 480.25,252.8 480.40,256.7 480.55,255.9 480.70,254.8 480.85,255.9 481.00,256.5 481.15,257.4 481.30,253.2 481.45,257.5 481.60,255.1 481.75,255.7 481.90,255.9 482.05,257.3 482.20,253.3 482.35,256.9 482.50,258.5 482.65,255.1 482.80,252.9 482.95,252.6 483.10,255.6 483.25,252.3 483.40,251.8 483.55,251.8 483.70,254.6 483.85,255.0 484.00,252.1 484.15,252.5 484.30,252.7 484.45,249.5 484.60,252.2 484.75,254.1 484.90,248.4 485.05,253.6 485.20,252.8 485.35,249.2 485.50,251.8 485.65,251.3 485.80,249.3 485.95,252.6 486.10,254.0 486.25,256.1 486.40,249.7 486.55,252.0 486.70,253.9 486.85,251.7 487.00,253.5 487.15,254.5 487.30,251.9 487.45,252.4 487.60,257.6 487.75,253.6 487.90,253.7 488.05,255.4 488.20,256.8 488.35,256.1 488.50,252.2 488.65,255.9 488.80,256.6 488.95,255.7 489.10,254.5 489.25,254.2 489.40,255.9 489.55,254.6 489.70,254.1 489.85,257.0 490.00,255.0 490.15,254.6 490.30,254.8 490.45,257.0 490.60,256.9 490.75,255.1 490.90,251.9 491.05,253.4 491.20,252.2 491.35,256.1 491.50,255.6 491.65,253.0 491.80,256.7 491.95,254.9 492.10,253.8 492.25,253.6 492.40,254.0 492.55,253.7 492.70,258.0 492.85,256.9 493.00,256.6 493.15,253.5 493.30,252.5 493.45,253.7 493.60,255.7 493.75,256.8 493.90,256.2 494.05,255.8 494.20,258.5 494.35,260.0 494.50,258.0 494.65,258.6 494.80,256.5 494.95,254.4 495.10,256.1 495.25,256.5 495.40,258.4 495.55,258.8 495.70,255.5 495.85,256.9 496.00,256.7 496.15,255.2 496.30,257.2 496.45,254.2 496.60,257.4 496.75,254.6 496.90,255.5 497.05,256.1 497.20,258.8 497.35,258.5 497.50,255.4 497.65,257.7 497.80,258.7 497.95,257.1 498.10,253.9 498.25,256.4 498.40,255.7 498.55,257.0 498.70,258.5 498.85,255.8 499.00,254.2 499.15,257.5 499.30,254.9 499.45,258.8 499.60,256.8 499.75,255.3 499.90,257.9 500.05,257.7 500.20,256.9 500.35,258.3 500.50,255.3 500.65,256.3 500.80,254.6 500.95,257.9 501.10,254.9 501.25,255.5 501.40,258.3 501.55,257.6 501.70,256.3 501.85,253.9 502.00,258.3 502.15,259.9 502.30,255.6 502.45,255.7 502.60,254.7 502.75,256.2 502.90,256.8 503.05,260.3 503.20,254.8 503.35,257.9 503.50,258.5 503.65,256.7 503.80,253.2 503.95,257.9 504.10,258.2 504.25,256.6 504.40,257.7 504.55,257.0 504.70,254.7 504.85,257.4 505.00,256.9 505.15,255.9 505.30,255.0 505.45,256.2 505.60,253.4 505.75,257.6 505.90,259.0 506.05,255.5 506.20,255.5 506.35,255.3 506.50,255.8 506.65,258.3 506.80,259.7 506.95,256.7 507.10,258.4 507.25,260.3 507.40,253.6 507.55,257.6 507.70,255.9 507.85,254.6 508.00,255.4 508.15,257.4 508.30,257.0 508.45,264.9 508.60,260.5 508.75,257.9 508.90,258.0 509.05,255.4 509.20,258.1 509.35,258.3 509.50,258.3 509.65,258.0 509.80,256.2 509.95,256.2 510.10,260.3 510.25,259.6 510.40,260.2 510.55,258.0 510.70,255.4 510.85,254.0 511.00,256.5 511.15,258.9 511.30,257.4 511.45,254.2 511.60,257.1 511.75,257.7 511.90,253.4 512.05,256.5 512.20,257.9 512.35,255.5 512.50,257.8 512.65,258.0 512.80,259.7 512.95,254.4 513.10,260.3 513.25,256.6 513.40,255.2 513.55,257.5 513.70,260.4 513.85,258.4 514.00,255.9 514.15,254.9 514.30,255.7 514.45,256.1 514.60,255.3 514.75,255.7 514.90,257.6 515.05,260.4 515.20,255.3 515.35,256.6 515.50,256.5 515.65,257.4 515.80,255.5 515.95,257.0 516.10,257.2 516.25,258.1 516.40,261.5 516.55,257.1 516.70,256.4 516.85,257.9 517.00,256.9 517.15,256.9 517.30,259.1 517.45,256.6 517.60,259.8 517.75,258.0 517.90,257.4 518.05,253.9 518.20,260.4 518.35,258.0 518.50,254.6 518.65,257.5 518.80,257.9 518.95,255.2 519.10,257.1 519.25,253.9 519.40,257.3 519.55,255.1 519.70,258.9 519.85,256.0 520.00,257.3 520.15,256.2 520.30,258.8 520.45,255.0 520.60,258.9 520.75,257.9 520.90,261.1 521.05,259.6 521.20,257.7 521.35,253.4 521.50,258.8 521.65,257.4 521.80,254.9 521.95,255.8 522.10,257.2 522.25,257.0 522.40,253.5 522.55,256.6 522.70,258.1 522.85,256.8 523.00,255.2 523.15,256.5 523.30,260.6 523.45,255.2 523.60,257.1 523.75,256.8 523.90,255.2 524.05,256.1 524.20,258.4 524.35,255.2 524.50,258.6 524.65,255.9 524.80,259.4 524.95,253.9 525.10,255.3 525.25,259.3 525.40,255.8 525.55,257.9 525.70,263.3 525.85,255.2 526.00,255.5 526.15,257.2 526.30,258.7 526.45,260.1 526.60,255.9 526.75,256.3 526.90,258.6 527.05,259.2 527.20,255.9 527.35,257.4 527.50,259.0 527.65,257.5 527.80,257.4 527.95,256.4 528.10,256.0 528.25,258.6 528.40,262.2 528.55,256.3 528.70,256.8 528.85,255.6 529.00,254.0 529.15,258.7 529.30,258.2 529.45,259.0 529.60,255.8 529.75,255.9 529.90,255.4 530.05,260.1 530.20,255.6 530.35,254.6 530.50,258.8 530.65,256.0 530.80,255.3 530.95,254.5 531.10,259.7 531.25,256.9 531.40,255.6 531.55,260.4 531.70,258.5 531.85,256.8 532.00,256.6 532.15,256.2 532.30,259.1 532.45,259.8 532.60,260.6 532.75,255.8 532.90,258.9 533.05,258.9 533.20,257.6 533.35,259.5 533.50,258.7 533.65,255.2 533.80,260.5 533.95,254.9 534.10,259.1 534.25,254.6 534.40,255.7 534.55,256.4 534.70,258.7 534.85,258.2 535.00,257.0 535.15,257.9 535.30,256.3"/>
</g>
<g fill="none" stroke="#ff0000" stroke-width="0.85" stroke-linejoin="round">
<polyline points="46.60,174.4 46.75,174.1 46.90,172.4 47.05,173.2 47.20,177.9 47.35,171.5 47.50,172.7 47.65,175.6 47.80,175.4 47.95,174.1 48.10,175.2 48.25,175.8 48.40,175.8 48.55,176.6 48.70,174.0 48.85,174.1 49.00,175.7 49.15,178.8 49.30,173.1 49.45,175.7 49.60,178.7 49.75,175.8 49.90,176.8 50.05,174.4 50.20,174.5 50.35,173.6 50.50,176.6 50.65,174.5 50.80,175.6 50.95,172.9 51.10,174.3 51.25,176.0 51.40,177.4 51.55,178.7 51.70,173.7 51.85,174.2 52.00,170.3 52.15,168.5 52.30,176.2 52.45,175.0 52.60,174.6 52.75,174.2 52.90,172.6 53.05,175.7 53.20,173.4 53.35,173.6 53.50,175.7 53.65,176.7 53.80,172.8 53.95,176.7 54.10,175.0 54.25,175.1 54.40,174.2 54.55,176.1 54.70,177.8 54.85,174.2 55.00,167.3 55.15,178.1 55.30,172.0 55.45,174.9 55.60,176.2 55.75,176.4 55.90,172.1 56.05,174.9 56.20,174.1 56.35,178.5 56.50,178.0 56.65,177.9 56.80,177.0 56.95,175.9 57.10,173.3 57.25,174.7 57.40,174.8 57.55,172.9 57.70,176.4 57.85,174.8 58.00,173.9 58.15,174.7 58.30,179.4 58.45,177.8 58.60,175.2 58.75,173.6 58.90,176.2 59.05,174.4 59.20,176.9 59.35,176.3 59.50,178.8 59.65,174.9 59.80,176.4 59.95,175.5 60.10,173.8 60.25,177.3 60.40,175.6 60.55,177.8 60.70,175.2 60.85,174.1 61.00,176.4 61.15,172.4 61.30,173.8 61.45,177.5 61.60,173.8 61.75,175.7 61.90,175.7 62.05,174.8 62.20,174.6 62.35,178.2 62.50,175.6 62.65,172.4 62.80,174.1 62.95,176.1 63.10,175.7 63.25,173.2 63.40,177.8 63.55,174.0 63.70,175.1 63.85,175.6 64.00,176.0 64.15,174.7 64.30,174.2 64.45,174.3 64.60,175.3 64.75,175.3 64.90,175.6 65.05,172.7 65.20,175.7 65.35,173.3 65.50,174.5 65.65,179.0 65.80,177.2 65.95,175.8 66.10,172.3 66.25,173.7 66.40,175.9 66.55,178.3 66.70,174.3 66.85,176.4 67.00,179.5 67.15,177.1 67.30,174.5 67.45,174.5 67.60,176.6 67.75,176.0 67.90,177.2 68.05,173.4 68.20,175.7 68.35,176.6 68.50,174.7 68.65,173.8 68.80,172.6 68.95,175.8 69.10,176.6 69.25,177.3 69.40,178.7 69.55,179.8 69.70,170.9 69.85,176.0 70.00,177.4 70.15,179.5 70.30,170.8 70.45,174.5 70.60,172.7 70.75,177.2 70.90,173.9 71.05,173.7 71.20,179.0 71.35,174.4 71.50,176.4 71.65,177.3 71.80,175.9 71.95,176.9 72.10,176.0 72.25,175.8 72.40,175.7 72.55,175.2 72.70,176.1 72.85,174.8 73.00,177.4 73.15,177.7 73.30,178.0 73.45,168.7 73.60,177.7 73.75,173.1 73.90,175.7 74.05,176.1 74.20,171.0 74.35,177.6 74.50,173.9 74.65,177.4 74.80,176.5 74.95,178.5 75.10,176.4 75.25,173.9 75.40,176.9 75.55,178.3 75.70,173.7 75.85,175.4 76.00,177.0 76.15,178.7 76.30,174.7 76.45,173.3 76.60,179.6 76.75,175.4 76.90,177.4 77.05,174.2 77.20,173.8 77.35,174.3 77.50,176.9 77.65,174.7 77.80,176.3 77.95,175.4 78.10,175.7 78.25,173.9 78.40,173.9 78.55,173.9 78.70,175.1 78.85,174.9 79.00,175.1 79.15,179.2 79.30,172.1 79.45,177.6 79.60,177.5 79.75,178.3 79.90,177.0 80.05,175.8 80.20,173.1 80.35,175.2 80.50,176.3 80.65,174.8 80.80,177.1 80.95,176.8 81.10,174.4 81.25,175.0 81.40,174.9 81.55,179.0 81.70,178.3 81.85,175.9 82.00,178.9 82.15,177.0 82.30,175.9 82.45,174.2 82.60,174.0 82.75,176.2 82.90,174.1 83.05,179.6 83.20,175.6 83.35,175.8 83.50,178.4 83.65,177.2 83.80,176.0 83.95,172.3 84.10,175.4 84.25,172.5 84.40,177.7 84.55,177.3 84.70,175.9 84.85,175.5 85.00,176.2 85.15,177.6 85.30,176.5 85.45,176.1 85.60,179.9 85.75,174.3 85.90,178.1 86.05,174.3 86.20,173.1 86.35,176.9 86.50,175.1 86.65,174.9 86.80,176.5 86.95,174.8 87.10,176.5 87.25,175.5 87.40,176.0 87.55,175.3 87.70,172.8 87.85,173.5 88.00,174.3 88.15,177.7 88.30,176.0 88.45,175.8 88.60,176.2 88.75,175.4 88.90,176.3 89.05,178.2 89.20,174.6 89.35,174.9 89.50,174.3 89.65,177.1 89.80,177.0 89.95,173.4 90.10,174.5 90.25,176.8 90.40,175.3 90.55,174.9 90.70,178.9 90.85,174.0 91.00,177.6 91.15,174.0 91.30,176.0 91.45,179.1 91.60,178.7 91.75,176.3 91.90,174.8 92.05,176.8 92.20,177.0 92.35,174.9 92.50,179.3 92.65,173.7 92.80,179.5 92.95,175.1 93.10,174.2 93.25,176.1 93.40,175.7 93.55,176.4 93.70,175.4 93.85,177.2 94.00,175.8 94.15,177.3 94.30,178.9 94.45,177.6 94.60,175.7 94.75,176.1 94.90,175.5 95.05,176.6 95.20,177.9 95.35,177.3 95.50,175.4 95.65,174.9 95.80,178.5 95.95,176.3 96.10,177.7 96.25,178.2 96.40,174.2 96.55,173.1 96.70,174.6 96.85,178.4 97.00,174.2 97.15,174.7 97.30,177.3 97.45,177.0 97.60,174.7 97.75,179.4 97.90,177.5 98.05,177.0 98.20,177.3 98.35,175.2 98.50,178.3 98.65,173.9 98.80,175.4 98.95,176.1 99.10,178.3 99.25,178.9 99.40,181.1 99.55,176.7 99.70,180.7 99.85,174.8 100.00,174.2 100.15,177.8 100.30,179.5 100.45,178.7 100.60,180.5 100.75,173.6 100.90,175.9 101.05,178.1 101.20,176.8 101.35,176.7 101.50,179.1 101.65,180.3 101.80,177.4 101.95,179.2 102.10,178.8 102.25,176.6 102.40,180.9 102.55,180.0 102.70,177.4 102.85,180.1 103.00,177.2 103.15,181.9 103.30,181.0 103.45,179.8 103.60,178.2 103.75,176.5 103.90,177.9 104.05,176.3 104.20,178.7 104.35,176.7 104.50,178.4 104.65,176.7 104.80,176.1 104.95,178.1 105.10,175.8 105.25,179.0 105.40,175.1 105.55,175.9 105.70,179.3 105.85,175.6 106.00,178.2 106.15,179.6 106.30,177.2 106.45,170.7 106.60,175.7 106.75,176.1 106.90,179.1 107.05,179.4 107.20,178.1 107.35,171.9 107.50,179.4 107.65,176.2 107.80,178.0 107.95,179.2 108.10,177.6 108.25,180.2 108.40,177.2 108.55,179.0 108.70,180.1 108.85,179.5 109.00,180.3 109.15,180.4 109.30,178.4 109.45,182.9 109.60,177.4 109.75,175.0 109.90,179.8 110.05,174.7 110.20,178.9 110.35,180.8 110.50,176.6 110.65,177.8 110.80,179.3 110.95,179.9 111.10,177.7 111.25,182.0 111.40,180.4 111.55,175.8 111.70,177.4 111.85,180.4 112.00,177.3 112.15,178.0 112.30,179.3 112.45,176.7 112.60,180.1 112.75,176.7 112.90,176.4 113.05,177.4 113.20,180.4 113.35,176.8 113.50,178.2 113.65,176.8 113.80,174.7 113.95,182.4 114.10,176.5 114.25,176.8 114.40,176.1 114.55,178.1 114.70,174.6 114.85,179.2 115.00,178.9 115.15,177.4 115.30,179.8 115.45,178.4 115.60,174.8 115.75,182.5 115.90,179.6 116.05,177.7 116.20,179.6 116.35,179.2 116.50,177.4 116.65,180.4 116.80,180.2 116.95,178.1 117.10,174.1 117.25,173.9 117.40,179.4 117.55,172.8 117.70,176.7 117.85,180.2 118.00,176.7 118.15,174.4 118.30,178.0 118.45,179.1 118.60,178.4 118.75,177.4 118.90,180.3 119.05,179.1 119.20,176.7 119.35,176.2 119.50,178.6 119.65,181.4 119.80,179.3 119.95,177.2 120.10,177.1 120.25,179.0 120.40,179.3 120.55,179.7 120.70,179.5 120.85,177.7 121.00,178.9 121.15,180.4 121.30,179.2 121.45,178.4 121.60,182.2 121.75,177.3 121.90,179.1 122.05,177.9 122.20,176.9 122.35,180.8 122.50,178.7 122.65,180.9 122.80,178.2 122.95,180.6 123.10,178.5 123.25,180.6 123.40,181.3 123.55,177.2 123.70,180.3 123.85,178.0 124.00,177.5 124.15,177.4 124.30,177.0 124.45,180.2 124.60,176.4 124.75,176.1 124.90,178.1 125.05,177.3 125.20,179.6 125.35,183.0 125.50,179.9 125.65,176.4 125.80,177.1 125.95,178.0 126.10,176.5 126.25,177.6 126.40,180.6 126.55,181.5 126.70,178.2 126.85,177.1 127.00,181.3 127.15,178.7 127.30,178.9 127.45,178.3 127.60,177.8 127.75,178.8 127.90,178.0 128.05,177.5 128.20,178.5 128.35,177.9 128.50,174.8 128.65,179.9 128.80,177.7 128.95,177.6 129.10,177.3 129.25,178.3 129.40,177.4 129.55,183.7 129.70,179.4 129.85,179.5 130.00,181.1 130.15,180.2 130.30,177.2 130.45,177.0 130.60,182.0 130.75,179.9 130.90,179.3 131.05,178.6 131.20,182.0 131.35,177.8 131.50,177.6 131.65,177.5 131.80,181.2 131.95,180.5 132.10,181.5 132.25,179.1 132.40,175.2 132.55,178.1 132.70,179.2 132.85,179.5 133.00,177.9 133.15,179.7 133.30,181.1 133.45,178.4 133.60,174.6 133.75,175.2 133.90,180.1 134.05,178.4 134.20,178.5 134.35,178.9 134.50,180.9 134.65,181.0 134.80,176.1 134.95,179.2 135.10,181.3 135.25,177.5 135.40,181.6 135.55,180.1 135.70,180.9 135.85,176.3 136.00,181.7 136.15,180.4 136.30,177.0 136.45,181.4 136.60,176.3 136.75,175.3 136.90,175.9 137.05,176.5 137.20,178.0 137.35,176.2 137.50,178.0 137.65,177.1 137.80,176.9 137.95,174.4 138.10,174.1 138.25,172.0 138.40,169.8 138.55,167.2"/>
<polyline stroke-width="0.7" points="138.40,169.8 138.55,167.2 138.70,164.0 138.85,160.5 139.00,156.9 139.15,153.6 139.30,151.5 139.45,151.3 139.60,152.9 139.75,155.9 139.90,159.5 140.05,163.3 140.20,166.7 140.35,169.5"/>
<polyline points="140.20,166.7 140.35,169.5 140.50,171.5 140.65,172.9 140.80,175.1 140.95,175.2 141.10,175.8 141.25,176.5 141.40,179.0 141.55,176.9 141.70,179.6 141.85,179.2 142.00,179.5 142.15,178.1 142.30,177.4 142.45,178.8 142.60,179.9 142.75,178.4 142.90,179.2 143.05,178.3 143.20,177.2 143.35,179.9 143.50,176.2 143.65,179.1 143.80,179.3 143.95,181.5 144.10,178.0 144.25,180.3 144.40,180.9 144.55,184.8 144.70,175.1 144.85,178.4 145.00,181.9 145.15,177.3 145.30,178.4 145.45,178.4 145.60,180.5 145.75,176.7 145.90,177.3 146.05,182.3 146.20,179.3 146.35,180.9 146.50,182.6 146.65,180.4 146.80,180.8 146.95,181.7 147.10,177.8 147.25,177.5 147.40,177.3 147.55,177.6 147.70,178.7 147.85,179.5 148.00,181.6 148.15,178.7 148.30,180.4 148.45,178.4 148.60,178.6 148.75,180.3 148.90,178.3 149.05,182.1 149.20,179.3 149.35,178.4 149.50,177.1 149.65,182.1 149.80,179.4 149.95,185.7 150.10,180.2 150.25,179.9 150.40,180.9 150.55,179.2 150.70,178.9 150.85,180.2 151.00,183.0 151.15,180.0 151.30,177.8 151.45,177.4 151.60,176.2 151.75,179.7 151.90,176.6 152.05,176.1 152.20,181.2 152.35,179.5 152.50,180.3 152.65,180.9 152.80,176.5 152.95,176.4 153.10,181.2 153.25,178.6 153.40,177.9 153.55,179.4 153.70,178.5 153.85,177.9 154.00,176.3 154.15,179.6 154.30,182.7 154.45,180.3 154.60,180.7 154.75,177.4 154.90,177.0 155.05,177.2 155.20,179.7 155.35,179.8 155.50,179.1 155.65,178.6 155.80,178.1 155.95,178.0 156.10,176.4 156.25,174.8 156.40,173.8 156.55,172.1 156.70,169.9 156.85,167.0"/>
<polyline stroke-width="0.7" points="156.70,169.9 156.85,167.0 157.00,164.1 157.15,161.1 157.30,158.7 157.45,157.4 157.60,157.6 157.75,159.2 157.90,161.7 158.05,164.6 158.20,167.2 158.35,169.9"/>
<polyline points="158.20,167.2 158.35,169.9 158.50,172.1 158.65,173.5 158.80,174.8 158.95,175.1 159.10,176.2 159.25,178.2 159.40,177.2 159.55,179.1 159.70,179.4 159.85,181.3 160.00,175.1 160.15,179.7 160.30,177.8 160.45,178.4 160.60,178.3 160.75,178.1 160.90,180.7 161.05,180.4 161.20,177.2 161.35,179.1 161.50,178.9 161.65,180.3 161.80,176.4 161.95,180.0 162.10,179.4 162.25,178.2 162.40,179.0 162.55,179.9 162.70,174.9 162.85,181.8 163.00,179.1 163.15,177.7 163.30,178.9 163.45,177.6 163.60,179.2 163.75,177.9 163.90,180.1 164.05,177.1 164.20,177.9 164.35,177.0 164.50,175.1 164.65,175.4 164.80,177.5 164.95,178.6 165.10,177.7 165.25,177.9 165.40,175.9 165.55,175.2 165.70,176.7 165.85,176.6 166.00,176.3 166.15,177.3 166.30,177.5 166.45,176.0 166.60,176.5 166.75,176.6 166.90,173.8 167.05,171.5 167.20,172.3 167.35,172.4 167.50,173.1 167.65,171.1 167.80,172.9 167.95,171.0 168.10,172.2 168.25,169.9 168.40,168.8 168.55,168.7 168.70,166.3 168.85,165.2 169.00,163.6"/>
<polyline stroke-width="0.7" points="168.85,165.2 169.00,163.6 169.15,161.9 169.30,160.2 169.45,158.7 169.60,157.2 169.75,155.9 169.90,155.1 170.05,154.6 170.20,154.4 170.35,154.9 170.50,155.6 170.65,156.7 170.80,158.0 170.95,159.4 171.10,160.9 171.25,162.3 171.40,164.1"/>
<polyline points="171.25,162.3 171.40,164.1 171.55,165.4 171.70,166.4 171.85,167.6 172.00,168.3 172.15,169.1 172.30,170.7 172.45,170.1 172.60,170.2 172.75,170.0 172.90,171.0 173.05,172.6 173.20,173.3 173.35,173.5 173.50,170.9 173.65,173.6 173.80,175.4 173.95,173.2 174.10,175.7 174.25,175.5 174.40,175.6 174.55,176.7 174.70,177.3 174.85,178.6 175.00,178.2 175.15,178.0 175.30,179.3 175.45,177.1 175.60,177.4 175.75,176.4 175.90,176.7 176.05,175.2 176.20,174.5 176.35,173.6 176.50,171.8 176.65,169.8 176.80,167.8"/>
<polyline stroke-width="0.7" points="176.65,169.8 176.80,167.8 176.95,165.2 177.10,162.8 177.25,160.6 177.40,159.2 177.55,159.0 177.70,160.0 177.85,161.8 178.00,164.2 178.15,166.7 178.30,168.8"/>
<polyline points="178.15,166.7 178.30,168.8 178.45,171.1 178.60,172.4 178.75,174.5 178.90,174.7 179.05,174.8 179.20,177.0 179.35,176.3 179.50,178.2 179.65,178.0 179.80,178.8 179.95,176.3 180.10,180.8 180.25,176.3 180.40,175.2 180.55,178.0 180.70,176.7 180.85,174.0 181.00,176.1 181.15,174.0 181.30,174.2 181.45,173.0 181.60,173.3 181.75,171.8 181.90,171.8 182.05,171.0 182.20,170.1 182.35,169.5 182.50,169.7 182.65,168.3 182.80,167.4 182.95,166.1 183.10,164.9 183.25,163.1 183.40,161.3"/>
<polyline stroke-width="0.7" points="183.25,163.1 183.40,161.3 183.55,158.7 183.70,155.3 183.85,150.4 184.00,143.9 184.15,135.6 184.30,126.5 184.45,118.6 184.60,115.1 184.75,117.8 184.90,124.8 185.05,133.1 185.20,140.5 185.35,146.4 185.50,150.5 185.65,153.1 185.80,154.9 185.95,156.5"/>
<polyline points="185.80,154.9 185.95,156.5 186.10,157.2 186.25,157.4 186.40,158.5 186.55,160.0 186.70,159.3 186.85,159.0 187.00,158.9 187.15,158.3 187.30,160.2 187.45,157.8 187.60,160.1 187.75,160.9 187.90,160.4 188.05,158.0 188.20,158.8 188.35,161.1 188.50,161.7 188.65,162.8 188.80,159.9 188.95,164.5 189.10,160.5 189.25,161.4 189.40,165.2 189.55,162.9 189.70,164.0 189.85,165.3 190.00,166.2 190.15,167.0 190.30,166.8 190.45,164.1 190.60,166.6 190.75,167.9 190.90,167.3 191.05,170.3 191.20,166.5 191.35,169.1 191.50,170.3 191.65,168.3 191.80,173.0 191.95,169.9 192.10,167.9 192.25,169.5 192.40,167.4 192.55,169.2 192.70,173.7 192.85,171.8 193.00,173.6 193.15,170.0 193.30,169.9 193.45,170.5 193.60,171.3 193.75,169.8 193.90,170.9 194.05,172.0 194.20,172.8 194.35,172.9 194.50,175.5 194.65,172.3 194.80,175.0 194.95,172.8 195.10,175.6 195.25,174.4 195.40,173.2 195.55,176.2 195.70,175.9 195.85,177.0 196.00,173.2 196.15,175.8 196.30,175.3 196.45,174.8 196.60,173.5 196.75,173.9 196.90,174.5 197.05,174.5 197.20,175.9 197.35,173.3 197.50,173.3 197.65,174.1 197.80,172.0 197.95,175.8 198.10,176.4 198.25,179.3 198.40,173.0 198.55,173.7 198.70,175.3 198.85,173.4 199.00,171.3 199.15,175.4 199.30,175.0 199.45,175.1 199.60,173.8 199.75,173.7 199.90,169.6 200.05,169.7 200.20,173.6 200.35,174.9 200.50,173.9 200.65,175.2 200.80,172.1 200.95,170.7 201.10,173.5 201.25,173.1 201.40,176.4 201.55,172.4 201.70,173.4 201.85,176.1 202.00,175.1 202.15,175.1 202.30,176.2 202.45,175.4 202.60,176.0 202.75,176.8 202.90,177.2 203.05,179.5 203.20,176.0 203.35,176.5 203.50,180.3 203.65,178.1 203.80,174.6 203.95,178.2 204.10,176.9 204.25,181.3 204.40,175.8 204.55,177.8 204.70,178.2 204.85,175.2 205.00,175.0 205.15,174.4 205.30,176.3 205.45,178.0 205.60,176.8 205.75,177.8 205.90,174.1 206.05,175.4 206.20,178.8 206.35,178.4 206.50,176.3 206.65,179.1 206.80,176.5 206.95,177.3 207.10,182.2 207.25,180.1 207.40,176.3 207.55,177.0 207.70,179.4 207.85,179.4 208.00,179.5 208.15,177.2 208.30,182.1 208.45,180.9 208.60,181.3 208.75,177.7 208.90,177.9 209.05,180.9 209.20,181.4 209.35,177.2 209.50,176.6 209.65,179.4 209.80,176.2 209.95,177.3 210.10,180.5 210.25,178.3 210.40,177.5 210.55,180.8 210.70,178.5 210.85,176.6 211.00,175.6 211.15,178.9 211.30,177.2 211.45,176.8 211.60,180.2 211.75,177.9 211.90,176.5 212.05,180.2 212.20,181.9 212.35,179.1 212.50,177.3 212.65,177.0 212.80,178.6 212.95,179.6 213.10,179.2 213.25,178.4 213.40,180.3 213.55,179.8 213.70,179.7 213.85,178.2 214.00,179.1 214.15,177.7 214.30,177.9 214.45,174.6 214.60,178.4 214.75,177.8 214.90,180.3 215.05,180.6 215.20,176.8 215.35,179.9 215.50,176.4 215.65,176.7 215.80,176.2 215.95,178.3 216.10,178.5 216.25,176.1 216.40,177.8 216.55,177.4 216.70,175.6 216.85,175.7 217.00,177.6 217.15,175.1 217.30,180.0 217.45,174.8 217.60,178.0 217.75,174.4 217.90,180.4 218.05,173.2 218.20,173.9 218.35,172.9 218.50,171.9 218.65,173.1 218.80,172.0 218.95,171.7 219.10,173.8 219.25,172.9 219.40,170.2 219.55,172.4 219.70,171.5 219.85,170.9 220.00,170.5 220.15,167.7 220.30,166.2 220.45,167.2 220.60,164.2 220.75,161.4 220.90,161.7 221.05,163.8 221.20,165.6 221.35,164.8 221.50,166.3 221.65,164.6 221.80,165.2 221.95,168.3 222.10,169.1 222.25,170.4 222.40,167.4 222.55,172.4 222.70,169.2 222.85,173.1 223.00,174.0 223.15,172.0 223.30,172.8 223.45,175.2 223.60,173.6 223.75,173.6 223.90,175.3 224.05,170.2 224.20,173.4 224.35,178.3 224.50,173.8 224.65,173.4 224.80,177.6 224.95,176.4 225.10,180.8 225.25,173.2 225.40,173.2 225.55,177.3 225.70,176.2 225.85,176.7 226.00,176.9 226.15,177.0 226.30,178.0 226.45,177.0 226.60,179.5 226.75,176.5 226.90,176.9 227.05,176.8 227.20,173.1 227.35,177.1 227.50,178.5 227.65,175.2 227.80,179.7 227.95,174.5 228.10,177.7 228.25,178.9 228.40,177.2 228.55,177.1 228.70,178.8 228.85,177.5 229.00,178.3 229.15,177.7 229.30,176.0 229.45,178.0 229.60,179.6 229.75,180.8 229.90,178.2 230.05,178.8 230.20,177.1 230.35,179.2 230.50,178.8 230.65,176.8 230.80,179.7 230.95,179.7 231.10,177.4 231.25,180.0 231.40,180.4 231.55,178.5 231.70,173.8 231.85,177.2 232.00,177.7 232.15,176.4 232.30,176.2 232.45,175.1 232.60,176.8 232.75,177.3 232.90,178.0 233.05,177.5 233.20,178.0 233.35,175.4 233.50,177.1 233.65,176.5 233.80,176.6 233.95,179.4 234.10,175.6 234.25,176.8 234.40,174.5 234.55,179.0 234.70,176.9 234.85,174.1 235.00,177.3 235.15,178.1 235.30,183.0 235.45,177.1 235.60,177.8 235.75,176.8 235.90,176.2 236.05,173.9 236.20,177.4 236.35,176.9 236.50,178.1 236.65,175.8 236.80,176.5 236.95,176.8 237.10,173.5 237.25,174.3 237.40,173.6 237.55,173.1 237.70,172.5 237.85,171.5 238.00,171.0 238.15,169.5 238.30,168.3 238.45,167.1 238.60,165.7"/>
<polyline stroke-width="0.7" points="238.45,167.1 238.60,165.7 238.75,164.0 238.90,162.0 239.05,159.5 239.20,155.7 239.35,149.8 239.50,140.5 239.65,127.5 239.80,113.1 239.95,103.3 240.10,105.7 240.25,118.3 240.40,133.0 240.55,145.0 240.70,153.3 240.85,158.5 241.00,161.9 241.15,164.3 241.30,166.2 241.45,168.0 241.60,169.4"/>
<polyline points="241.45,168.0 241.60,169.4 241.75,170.6 241.90,171.8 242.05,173.0 242.20,173.2 242.35,174.8 242.50,175.6 242.65,176.8 242.80,177.0 242.95,178.1 243.10,178.1 243.25,179.3 243.40,179.1 243.55,179.7 243.70,178.1 243.85,180.7 244.00,181.7 244.15,180.4 244.30,180.8 244.45,182.3 244.60,182.6 244.75,181.7 244.90,180.3 245.05,177.7 245.20,179.8 245.35,181.1 245.50,182.3 245.65,181.4 245.80,182.8 245.95,183.4 246.10,181.2 246.25,180.0 246.40,181.3 246.55,184.5 246.70,183.4 246.85,181.8 247.00,183.5 247.15,181.8 247.30,183.9 247.45,182.1 247.60,181.4 247.75,179.6 247.90,179.7 248.05,182.3 248.20,181.1 248.35,178.8 248.50,180.5 248.65,181.8 248.80,180.6 248.95,184.3 249.10,181.5 249.25,181.6 249.40,179.9 249.55,179.8 249.70,185.3 249.85,183.4 250.00,183.2 250.15,181.5 250.30,182.9 250.45,182.6 250.60,181.3 250.75,179.2 250.90,179.7 251.05,181.2 251.20,178.9 251.35,180.3 251.50,183.7 251.65,180.0 251.80,178.1 251.95,181.0 252.10,180.8 252.25,181.6 252.40,177.7 252.55,177.1 252.70,180.3 252.85,178.7 253.00,178.2 253.15,180.0 253.30,179.7 253.45,179.5 253.60,181.3 253.75,176.7 253.90,182.1 254.05,179.6 254.20,180.2 254.35,180.0 254.50,180.1 254.65,182.5 254.80,179.5 254.95,182.2 255.10,180.9 255.25,182.0 255.40,180.2 255.55,178.3 255.70,182.3 255.85,181.2 256.00,180.8 256.15,182.0 256.30,182.1 256.45,180.9 256.60,181.6 256.75,181.3 256.90,176.7 257.05,180.1 257.20,175.5 257.35,181.9 257.50,178.3 257.65,182.2 257.80,179.8 257.95,178.9 258.10,178.9 258.25,179.3 258.40,182.8 258.55,183.7 258.70,180.2 258.85,182.6 259.00,179.4 259.15,180.5 259.30,179.5 259.45,179.2 259.60,183.1 259.75,183.6 259.90,181.3 260.05,178.9 260.20,180.5 260.35,183.2 260.50,179.1 260.65,179.4 260.80,178.4 260.95,181.0 261.10,180.4 261.25,181.0 261.40,182.9 261.55,182.8 261.70,177.8 261.85,182.9 262.00,179.8 262.15,180.2 262.30,180.9 262.45,183.1 262.60,183.5 262.75,183.6 262.90,180.2 263.05,183.6 263.20,179.9 263.35,181.7 263.50,178.3 263.65,178.1 263.80,180.0 263.95,178.8 264.10,175.3 264.25,183.4 264.40,178.4 264.55,182.4 264.70,181.5 264.85,181.4 265.00,181.1 265.15,180.8 265.30,180.3 265.45,182.1 265.60,179.8 265.75,179.4 265.90,185.1 266.05,179.9 266.20,181.2 266.35,180.9 266.50,181.5 266.65,181.1 266.80,179.0 266.95,179.1 267.10,182.9 267.25,182.2 267.40,178.1 267.55,180.7 267.70,182.4 267.85,180.3 268.00,179.0 268.15,179.7 268.30,179.2 268.45,185.9 268.60,182.8 268.75,180.4 268.90,182.1 269.05,180.3 269.20,182.1 269.35,181.8 269.50,182.8 269.65,178.8 269.80,180.2 269.95,182.9 270.10,181.0 270.25,183.7 270.40,180.0 270.55,184.4 270.70,179.1 270.85,181.1 271.00,182.2 271.15,182.2 271.30,179.6 271.45,179.3 271.60,184.5 271.75,183.7 271.90,183.6 272.05,184.8 272.20,180.4 272.35,180.2 272.50,183.7 272.65,180.2 272.80,180.6 272.95,182.5 273.10,183.4 273.25,184.1 273.40,180.6 273.55,184.3 273.70,187.3 273.85,180.5 274.00,182.3 274.15,181.0 274.30,180.3 274.45,181.3 274.60,181.9 274.75,179.4 274.90,181.3 275.05,179.3 275.20,183.3 275.35,182.3 275.50,181.4 275.65,178.9 275.80,179.6 275.95,183.8 276.10,184.2 276.25,183.0 276.40,181.4 276.55,183.1 276.70,182.3 276.85,181.4 277.00,182.1 277.15,182.8 277.30,182.9 277.45,184.6 277.60,184.5 277.75,180.3 277.90,185.0 278.05,181.5 278.20,186.6 278.35,184.8 278.50,178.9 278.65,183.0 278.80,181.0 278.95,180.5 279.10,181.9 279.25,184.1 279.40,180.8 279.55,182.5 279.70,181.6 279.85,182.2 280.00,183.7 280.15,182.7 280.30,182.5 280.45,184.3 280.60,184.6 280.75,179.2 280.90,183.0 281.05,184.4 281.20,184.1 281.35,183.8 281.50,179.7 281.65,179.2 281.80,183.5 281.95,181.0 282.10,182.0 282.25,185.7 282.40,181.8 282.55,179.9 282.70,179.6 282.85,178.6 283.00,178.4 283.15,178.9 283.30,182.8 283.45,179.9 283.60,180.6 283.75,180.8 283.90,177.8 284.05,180.7 284.20,179.8 284.35,182.7 284.50,180.2 284.65,181.6 284.80,179.2 284.95,185.0 285.10,183.5 285.25,181.1 285.40,178.3 285.55,179.6 285.70,181.9 285.85,177.4 286.00,177.9 286.15,182.0 286.30,180.8 286.45,182.0 286.60,180.3 286.75,176.5 286.90,180.4 287.05,181.5 287.20,179.5 287.35,182.3 287.50,175.9 287.65,182.0 287.80,180.7 287.95,180.3 288.10,180.2 288.25,176.3 288.40,177.9 288.55,180.9 288.70,178.7 288.85,180.1 289.00,178.5 289.15,178.1 289.30,178.3 289.45,179.2 289.60,181.8 289.75,175.8 289.90,175.4 290.05,177.4 290.20,176.8 290.35,177.8 290.50,180.7 290.65,180.3 290.80,176.7 290.95,177.8 291.10,175.3 291.25,176.8 291.40,176.6 291.55,177.0 291.70,174.8 291.85,177.2 292.00,178.3 292.15,177.5 292.30,173.4 292.45,173.6 292.60,173.4 292.75,171.3 292.90,174.6 293.05,169.3 293.20,172.4 293.35,174.8 293.50,173.6 293.65,175.0 293.80,174.0 293.95,171.3 294.10,176.3 294.25,173.8 294.40,172.8 294.55,175.0 294.70,175.7 294.85,174.6 295.00,174.0 295.15,175.7 295.30,172.4 295.45,176.1 295.60,178.1 295.75,177.9 295.90,176.6 296.05,175.4 296.20,175.3 296.35,180.0 296.50,179.2 296.65,176.8 296.80,180.0 296.95,178.1 297.10,177.5 297.25,182.2 297.40,180.6 297.55,179.7 297.70,179.8 297.85,176.4 298.00,176.1 298.15,175.8 298.30,180.0 298.45,177.2 298.60,181.5 298.75,181.0 298.90,178.1 299.05,179.7 299.20,178.8 299.35,182.2 299.50,180.8 299.65,178.4 299.80,177.7 299.95,180.8 300.10,177.8 300.25,180.4 300.40,175.3 300.55,179.2 300.70,177.2 300.85,175.3 301.00,175.2 301.15,176.9 301.30,175.8 301.45,178.8 301.60,176.5 301.75,174.5 301.90,176.8 302.05,174.6 302.20,175.9 302.35,175.7 302.50,181.0 302.65,174.9 302.80,177.7 302.95,178.3 303.10,177.2 303.25,178.8 303.40,178.9 303.55,179.3 303.70,180.1 303.85,181.5 304.00,181.8 304.15,182.5 304.30,179.5 304.45,182.1 304.60,183.6 304.75,181.2 304.90,181.8 305.05,178.0 305.20,182.3 305.35,184.1 305.50,181.0 305.65,181.7 305.80,182.3 305.95,181.2 306.10,183.6 306.25,181.6 306.40,178.4 306.55,182.2 306.70,179.5 306.85,182.8 307.00,183.8 307.15,181.6 307.30,181.4 307.45,180.4 307.60,181.8 307.75,181.5 307.90,179.4 308.05,179.5 308.20,183.9 308.35,180.9 308.50,182.7 308.65,180.7 308.80,181.7 308.95,182.6 309.10,183.6 309.25,180.8 309.40,183.5 309.55,180.2 309.70,179.7 309.85,184.4 310.00,183.9 310.15,185.8 310.30,178.3 310.45,179.2 310.60,183.3 310.75,180.0 310.90,184.9 311.05,179.1 311.20,182.6 311.35,178.8 311.50,180.2 311.65,185.3 311.80,181.2 311.95,178.6 312.10,180.5 312.25,182.0 312.40,181.8 312.55,183.4 312.70,180.9 312.85,182.0 313.00,181.3 313.15,182.3 313.30,179.6 313.45,181.2 313.60,184.3 313.75,180.5 313.90,183.4 314.05,182.0 314.20,180.5 314.35,182.2 314.50,180.6 314.65,180.9 314.80,180.1 314.95,181.4 315.10,180.9 315.25,183.3 315.40,180.5 315.55,182.8 315.70,181.9 315.85,182.6 316.00,181.8 316.15,178.7 316.30,185.3 316.45,180.1 316.60,179.5 316.75,181.7 316.90,182.5 317.05,182.4 317.20,177.3 317.35,183.4 317.50,179.4 317.65,181.1 317.80,181.4 317.95,183.3 318.10,181.2 318.25,179.7 318.40,178.0 318.55,181.5 318.70,179.0 318.85,180.9 319.00,178.5 319.15,179.7 319.30,181.3 319.45,179.4 319.60,180.7 319.75,183.2 319.90,181.1 320.05,183.2 320.20,182.3 320.35,179.0 320.50,180.3 320.65,181.7 320.80,181.9 320.95,179.6 321.10,181.6 321.25,181.2 321.40,182.7 321.55,179.0 321.70,177.0 321.85,179.5 322.00,179.9 322.15,178.9 322.30,177.4 322.45,175.2 322.60,180.5 322.75,177.5 322.90,177.3 323.05,176.2 323.20,178.6 323.35,181.5 323.50,179.5 323.65,179.8 323.80,178.8 323.95,174.2 324.10,176.2 324.25,179.0 324.40,175.5 324.55,172.8 324.70,174.9 324.85,170.1 325.00,171.9 325.15,177.6 325.30,175.1 325.45,174.9 325.60,173.3 325.75,177.3 325.90,174.8 326.05,174.6 326.20,178.4 326.35,175.3 326.50,176.2 326.65,174.3 326.80,175.3 326.95,174.4 327.10,177.9 327.25,179.0 327.40,180.3 327.55,175.5 327.70,175.5 327.85,177.4 328.00,177.5 328.15,181.1 328.30,179.8 328.45,179.0 328.60,178.7 328.75,179.5 328.90,178.5 329.05,178.5 329.20,180.7 329.35,184.1 329.50,180.5 329.65,176.0 329.80,181.9 329.95,182.0 330.10,177.6 330.25,175.0 330.40,181.0 330.55,181.4 330.70,182.7 330.85,179.2 331.00,178.9 331.15,178.0 331.30,184.0 331.45,178.6 331.60,178.8 331.75,179.2 331.90,182.0 332.05,177.9 332.20,177.5 332.35,181.9 332.50,178.2 332.65,182.1 332.80,182.3 332.95,180.7 333.10,182.7 333.25,177.5 333.40,178.6 333.55,181.1 333.70,178.8 333.85,181.7 334.00,179.4 334.15,179.8 334.30,183.0 334.45,183.1 334.60,181.6 334.75,181.4 334.90,179.4 335.05,184.2 335.20,181.4 335.35,180.2 335.50,181.5 335.65,180.0 335.80,181.4 335.95,179.0 336.10,184.2 336.25,179.9 336.40,178.9 336.55,178.0 336.70,180.5 336.85,182.6 337.00,181.5 337.15,181.1 337.30,182.8 337.45,178.0 337.60,177.9 337.75,181.4 337.90,179.5 338.05,177.6 338.20,182.2 338.35,177.6 338.50,180.4 338.65,181.5 338.80,180.8 338.95,182.4 339.10,179.8 339.25,178.2 339.40,181.7 339.55,181.5 339.70,179.5 339.85,179.9 340.00,181.3 340.15,175.1 340.30,177.1 340.45,178.0 340.60,173.8 340.75,171.4 340.90,175.0 341.05,170.7 341.20,171.5 341.35,169.1 341.50,169.3 341.65,166.2 341.80,167.3 341.95,169.2 342.10,172.0 342.25,169.9 342.40,173.1 342.55,174.4 342.70,176.9 342.85,177.3 343.00,177.1 343.15,177.1 343.30,178.3 343.45,178.4 343.60,177.5 343.75,179.1 343.90,179.5 344.05,179.3 344.20,181.1 344.35,180.6 344.50,180.2 344.65,180.6 344.80,180.1 344.95,181.0 345.10,180.2 345.25,178.5 345.40,178.5 345.55,176.3 345.70,181.5 345.85,181.5 346.00,179.7 346.15,176.5 346.30,180.3 346.45,180.7 346.60,177.9 346.75,180.6 346.90,180.4 347.05,182.4 347.20,183.2 347.35,181.1 347.50,180.0 347.65,177.7 347.80,182.2 347.95,178.5 348.10,178.5 348.25,177.8 348.40,178.5 348.55,180.8 348.70,178.5 348.85,177.6 349.00,183.0 349.15,179.0 349.30,180.5 349.45,181.2 349.60,182.0 349.75,177.7 349.90,177.9 350.05,181.2 350.20,178.6 350.35,173.2 350.50,176.0 350.65,172.1 350.80,174.1 350.95,176.9 351.10,178.2 351.25,179.3 351.40,175.1 351.55,173.1 351.70,177.1 351.85,176.2 352.00,176.2 352.15,173.7 352.30,173.9 352.45,176.4 352.60,175.2 352.75,174.5 352.90,173.5 353.05,175.3 353.20,176.8 353.35,173.7 353.50,175.8 353.65,173.4 353.80,175.3 353.95,173.8 354.10,177.0 354.25,173.9 354.40,176.1 354.55,174.1 354.70,174.1 354.85,177.8 355.00,178.3 355.15,175.8 355.30,178.6 355.45,181.8 355.60,178.4 355.75,174.9 355.90,181.8 356.05,177.9 356.20,179.4 356.35,180.0 356.50,175.9 356.65,179.7 356.80,178.0 356.95,176.1 357.10,176.3 357.25,180.5 357.40,178.7 357.55,178.0 357.70,180.6 357.85,179.8 358.00,179.1 358.15,178.2 358.30,176.7 358.45,177.0 358.60,179.1 358.75,177.6 358.90,179.2 359.05,179.4 359.20,177.5 359.35,179.9 359.50,176.7 359.65,181.2 359.80,180.6 359.95,179.1 360.10,181.6 360.25,178.4 360.40,180.1 360.55,178.8 360.70,180.1 360.85,179.7 361.00,182.5 361.15,182.2 361.30,177.5 361.45,180.0 361.60,180.8 361.75,178.1 361.90,179.5 362.05,181.9 362.20,179.4 362.35,179.7 362.50,180.1 362.65,182.1 362.80,180.1 362.95,180.5 363.10,180.1 363.25,180.8 363.40,184.4 363.55,180.1 363.70,180.4 363.85,186.7 364.00,184.9 364.15,181.2 364.30,177.6 364.45,180.1 364.60,184.1 364.75,182.8 364.90,179.5 365.05,176.9 365.20,176.5 365.35,184.1 365.50,180.6 365.65,183.7 365.80,178.8 365.95,183.3 366.10,183.5 366.25,182.0 366.40,178.4 366.55,178.5 366.70,179.6 366.85,174.5 367.00,177.9 367.15,177.3 367.30,172.2 367.45,171.9 367.60,172.7 367.75,169.3 367.90,171.3 368.05,165.8 368.20,171.1 368.35,171.3 368.50,168.6 368.65,168.2 368.80,169.5 368.95,175.9 369.10,177.5 369.25,174.8 369.40,177.8 369.55,179.2 369.70,176.5 369.85,177.6 370.00,175.8 370.15,179.1 370.30,176.7 370.45,179.5 370.60,183.0 370.75,178.8 370.90,180.3 371.05,176.0 371.20,180.2 371.35,176.1 371.50,176.9 371.65,180.9 371.80,180.7 371.95,180.5 372.10,178.7 372.25,176.0 372.40,177.3 372.55,182.1 372.70,182.7 372.85,182.4 373.00,183.3 373.15,183.7 373.30,182.5 373.45,183.2 373.60,179.3 373.75,178.8 373.90,182.2 374.05,185.1 374.20,184.4 374.35,182.9 374.50,183.5 374.65,181.8 374.80,179.4 374.95,183.9 375.10,183.0 375.25,181.0 375.40,179.4 375.55,180.3 375.70,181.6 375.85,183.0 376.00,178.1 376.15,181.0 376.30,181.5 376.45,180.0 376.60,179.9 376.75,180.0 376.90,182.3 377.05,179.1 377.20,181.8 377.35,181.6 377.50,181.0 377.65,182.2 377.80,178.0 377.95,180.4 378.10,176.7 378.25,178.2 378.40,180.7 378.55,181.4 378.70,173.9 378.85,179.7 379.00,174.8 379.15,172.1 379.30,173.2 379.45,174.6 379.60,171.6 379.75,174.7 379.90,169.6 380.05,169.6 380.20,171.0 380.35,173.4 380.50,172.6 380.65,173.7 380.80,175.9 380.95,176.4 381.10,175.0 381.25,176.3 381.40,175.9 381.55,176.2 381.70,175.3 381.85,175.2 382.00,178.8 382.15,179.7 382.30,179.3 382.45,178.6 382.60,180.1 382.75,181.3 382.90,180.0 383.05,177.9 383.20,179.9 383.35,182.0 383.50,179.3 383.65,179.0 383.80,178.4 383.95,179.4 384.10,177.9 384.25,178.5 384.40,182.6 384.55,181.7 384.70,180.8 384.85,182.0 385.00,178.4 385.15,181.7 385.30,182.8 385.45,182.8 385.60,179.7 385.75,182.4 385.90,182.2 386.05,179.5 386.20,178.6 386.35,179.7 386.50,179.8 386.65,176.3 386.80,176.8 386.95,178.5 387.10,177.6 387.25,176.6 387.40,177.5 387.55,176.2 387.70,181.0 387.85,176.7 388.00,174.9 388.15,180.0 388.30,177.6 388.45,178.6 388.60,176.8 388.75,178.3 388.90,178.5 389.05,176.2 389.20,176.0 389.35,175.9 389.50,176.9 389.65,176.8 389.80,176.3 389.95,177.5 390.10,174.4 390.25,177.1 390.40,178.2 390.55,180.3 390.70,176.8 390.85,176.3 391.00,177.6 391.15,176.6 391.30,177.7 391.45,179.0 391.60,178.9 391.75,177.7 391.90,174.5 392.05,177.5 392.20,175.7 392.35,181.5 392.50,177.4 392.65,179.1 392.80,174.4 392.95,181.9 393.10,178.1 393.25,178.2 393.40,178.2 393.55,178.2 393.70,180.6 393.85,179.7 394.00,181.3 394.15,178.3 394.30,178.6 394.45,178.5 394.60,182.1 394.75,181.1 394.90,181.6 395.05,184.4 395.20,177.8 395.35,181.3 395.50,177.3 395.65,176.4 395.80,180.1 395.95,182.0 396.10,180.8 396.25,179.7 396.40,179.4 396.55,180.4 396.70,179.9 396.85,180.9 397.00,179.6 397.15,178.7 397.30,182.0 397.45,185.0 397.60,181.5 397.75,178.7 397.90,178.6 398.05,183.1 398.20,182.3 398.35,179.7 398.50,182.8 398.65,182.9 398.80,183.1 398.95,180.3 399.10,180.8 399.25,182.5 399.40,181.6 399.55,180.8 399.70,180.1 399.85,178.9 400.00,181.6 400.15,179.2 400.30,179.1 400.45,182.0 400.60,181.7 400.75,180.5 400.90,182.4 401.05,178.0 401.20,177.4 401.35,177.6 401.50,179.4 401.65,180.8 401.80,181.8 401.95,179.4 402.10,181.0 402.25,180.0 402.40,175.8 402.55,178.0 402.70,181.5 402.85,177.1 403.00,174.8 403.15,176.0 403.30,177.6 403.45,174.8 403.60,171.8 403.75,176.4 403.90,175.7 404.05,172.6 404.20,177.4 404.35,175.3 404.50,178.7 404.65,178.2 404.80,174.7 404.95,175.5 405.10,178.3 405.25,183.0 405.40,175.9 405.55,177.5 405.70,181.9 405.85,177.7 406.00,181.9 406.15,178.3 406.30,181.3 406.45,179.0 406.60,178.2 406.75,179.8 406.90,183.1 407.05,182.5 407.20,181.0 407.35,178.0 407.50,181.9 407.65,179.3 407.80,182.3 407.95,183.5 408.10,184.0 408.25,182.6 408.40,182.8 408.55,181.4 408.70,183.5 408.85,183.5 409.00,180.9 409.15,184.6 409.30,179.1 409.45,182.7 409.60,184.7 409.75,182.7 409.90,184.6 410.05,178.5 410.20,182.6 410.35,181.3 410.50,179.1 410.65,182.0 410.80,183.0 410.95,180.5 411.10,182.2 411.25,179.8 411.40,184.1 411.55,182.7 411.70,179.4 411.85,182.2 412.00,180.6 412.15,183.0 412.30,181.7 412.45,180.7 412.60,179.9 412.75,182.7 412.90,181.5 413.05,181.9 413.20,178.9 413.35,178.9 413.50,181.8 413.65,175.1 413.80,183.3 413.95,179.2 414.10,182.1 414.25,181.4 414.40,183.9 414.55,175.7 414.70,182.5 414.85,182.4 415.00,178.8 415.15,177.7 415.30,183.8 415.45,183.6 415.60,184.6 415.75,183.1 415.90,182.7 416.05,180.1 416.20,183.8 416.35,186.0 416.50,182.2 416.65,180.9 416.80,181.6 416.95,180.6 417.10,181.1 417.25,182.8 417.40,180.9 417.55,183.8 417.70,179.7 417.85,178.2 418.00,182.5 418.15,184.9 418.30,179.4 418.45,182.5 418.60,180.8 418.75,183.8 418.90,181.7 419.05,182.4 419.20,181.3 419.35,181.0 419.50,181.5 419.65,185.0 419.80,182.3 419.95,183.5 420.10,179.9 420.25,183.7 420.40,183.5 420.55,183.4 420.70,182.1 420.85,180.8 421.00,184.9 421.15,183.7 421.30,183.3 421.45,181.8 421.60,180.7 421.75,182.5 421.90,184.8 422.05,183.2 422.20,185.4 422.35,184.0 422.50,184.7 422.65,183.0 422.80,184.5 422.95,181.2 423.10,182.7 423.25,185.0 423.40,183.7 423.55,182.2 423.70,183.3 423.85,182.0 424.00,183.2 424.15,179.4 424.30,185.1 424.45,184.1 424.60,184.0 424.75,184.2 424.90,181.6 425.05,183.4 425.20,180.1 425.35,184.9 425.50,179.4 425.65,185.3 425.80,185.5 425.95,183.0 426.10,182.3 426.25,182.5 426.40,179.7 426.55,182.9 426.70,182.1 426.85,183.0 427.00,182.2 427.15,181.6 427.30,180.1 427.45,183.9 427.60,182.2 427.75,183.7 427.90,183.4 428.05,179.1 428.20,179.3 428.35,182.7 428.50,179.4 428.65,183.7 428.80,182.6 428.95,180.4 429.10,181.9 429.25,181.2 429.40,183.5 429.55,181.1 429.70,184.9 429.85,180.0 430.00,182.8 430.15,182.8 430.30,179.9 430.45,180.4 430.60,185.7 430.75,181.0 430.90,182.6 431.05,180.4 431.20,179.7 431.35,181.3 431.50,185.4 431.65,178.9 431.80,181.6 431.95,186.2 432.10,180.6 432.25,181.6 432.40,180.3 432.55,182.3 432.70,181.4 432.85,181.8 433.00,181.7 433.15,181.3 433.30,184.5 433.45,180.8 433.60,182.3 433.75,181.4 433.90,181.9 434.05,183.8 434.20,182.4 434.35,179.8 434.50,180.1 434.65,180.2 434.80,178.5 434.95,180.7 435.10,180.2 435.25,182.3 435.40,181.2 435.55,181.7 435.70,177.8 435.85,180.1 436.00,180.5 436.15,177.9 436.30,181.5 436.45,183.1 436.60,183.0 436.75,181.1 436.90,181.6 437.05,173.1 437.20,177.3 437.35,173.9 437.50,180.8 437.65,176.0 437.80,175.3 437.95,179.2 438.10,174.6 438.25,172.8 438.40,179.0 438.55,174.4 438.70,174.5 438.85,177.7 439.00,176.3 439.15,171.2 439.30,178.4 439.45,171.5 439.60,173.5 439.75,177.1 439.90,175.9 440.05,177.1 440.20,177.4 440.35,177.2 440.50,175.1 440.65,175.6 440.80,178.9 440.95,179.7 441.10,180.7 441.25,181.1 441.40,180.2 441.55,181.1 441.70,180.3 441.85,178.3 442.00,178.0 442.15,174.4 442.30,180.2 442.45,183.7 442.60,179.3 442.75,182.2 442.90,182.6 443.05,180.7 443.20,180.7 443.35,181.0 443.50,181.0 443.65,183.4 443.80,182.2 443.95,184.8 444.10,181.8 444.25,181.0 444.40,182.9 444.55,180.9 444.70,182.6 444.85,178.7 445.00,179.0 445.15,187.5 445.30,179.4 445.45,178.9 445.60,181.3 445.75,180.2 445.90,182.4 446.05,186.4 446.20,178.9 446.35,181.8 446.50,185.7 446.65,182.0 446.80,179.9 446.95,181.7 447.10,178.8 447.25,181.9 447.40,183.4 447.55,182.8 447.70,181.2 447.85,179.0 448.00,182.2 448.15,180.1 448.30,183.8 448.45,185.4 448.60,182.4 448.75,181.6 448.90,180.9 449.05,181.6 449.20,183.4 449.35,183.6 449.50,186.4 449.65,182.4 449.80,183.9 449.95,186.9 450.10,185.0 450.25,178.9 450.40,181.9 450.55,184.0 450.70,182.5 450.85,179.7 451.00,183.5 451.15,179.6 451.30,182.3 451.45,180.9 451.60,182.5 451.75,182.7 451.90,181.9 452.05,183.7 452.20,182.2 452.35,180.0 452.50,183.0 452.65,184.7 452.80,180.6 452.95,182.8 453.10,182.7 453.25,183.7 453.40,181.6 453.55,182.4 453.70,180.1 453.85,177.5 454.00,182.7 454.15,182.7 454.30,183.2 454.45,184.0 454.60,179.7 454.75,180.5 454.90,182.7 455.05,184.3 455.20,186.7 455.35,184.1 455.50,180.7 455.65,183.3 455.80,182.9 455.95,181.5 456.10,183.2 456.25,184.1 456.40,183.6 456.55,185.5 456.70,186.5 456.85,181.8 457.00,184.3 457.15,185.5 457.30,183.1 457.45,181.5 457.60,186.2 457.75,184.1 457.90,184.8 458.05,185.0 458.20,183.0 458.35,184.0 458.50,180.1 458.65,181.0 458.80,183.0 458.95,183.8 459.10,182.0 459.25,181.3 459.40,182.4 459.55,182.0 459.70,182.6 459.85,187.6 460.00,182.8 460.15,182.1 460.30,185.3 460.45,184.4 460.60,183.0 460.75,185.7 460.90,180.2 461.05,180.3 461.20,181.7 461.35,180.9 461.50,183.0 461.65,180.9 461.80,180.5 461.95,182.0 462.10,184.1 462.25,181.9 462.40,181.9 462.55,183.8 462.70,183.3 462.85,184.3 463.00,180.8 463.15,184.0 463.30,183.5 463.45,180.6 463.60,182.5 463.75,182.3 463.90,182.7 464.05,184.9 464.20,186.3 464.35,180.7 464.50,181.7 464.65,184.7 464.80,182.7 464.95,182.0 465.10,182.2 465.25,183.2 465.40,182.2 465.55,183.2 465.70,182.9 465.85,183.6 466.00,182.1 466.15,182.5 466.30,181.4 466.45,183.5 466.60,181.5 466.75,180.0 466.90,183.2 467.05,183.0 467.20,181.8 467.35,183.9 467.50,184.2 467.65,179.0 467.80,182.8 467.95,179.1 468.10,182.9 468.25,181.2 468.40,183.1 468.55,186.4 468.70,184.7 468.85,181.0 469.00,181.8 469.15,180.1 469.30,183.1 469.45,183.1 469.60,180.0 469.75,182.1 469.90,180.7 470.05,183.1 470.20,188.0 470.35,180.3 470.50,180.4 470.65,182.6 470.80,185.5 470.95,182.7 471.10,184.1 471.25,182.9 471.40,179.6 471.55,182.2 471.70,184.4 471.85,181.6 472.00,181.5 472.15,180.6 472.30,183.2 472.45,179.7 472.60,179.5 472.75,185.1 472.90,181.6 473.05,186.7 473.20,178.1 473.35,181.1 473.50,181.1 473.65,179.7 473.80,185.1 473.95,184.2 474.10,179.5 474.25,180.4 474.40,182.7 474.55,180.8 474.70,183.3 474.85,182.8 475.00,182.2 475.15,184.7 475.30,182.7 475.45,183.8 475.60,183.6 475.75,180.8 475.90,185.2 476.05,183.0 476.20,182.7 476.35,184.5 476.50,182.3 476.65,181.7 476.80,181.0 476.95,183.9 477.10,187.5 477.25,180.8 477.40,181.5 477.55,180.2 477.70,182.7 477.85,183.4 478.00,180.4 478.15,184.3 478.30,182.4 478.45,182.8 478.60,180.5 478.75,177.7 478.90,182.6 479.05,183.6 479.20,182.1 479.35,179.7 479.50,182.8 479.65,181.3 479.80,184.9 479.95,182.2 480.10,180.2 480.25,180.6 480.40,181.1 480.55,179.5 480.70,179.3 480.85,179.6 481.00,179.9 481.15,179.8 481.30,178.4 481.45,179.4 481.60,180.8 481.75,177.9 481.90,179.9 482.05,181.1 482.20,180.9 482.35,177.9 482.50,178.6 482.65,179.2 482.80,179.0 482.95,177.5 483.10,177.8 483.25,177.0 483.40,178.4 483.55,175.7 483.70,175.8 483.85,172.9 484.00,178.2 484.15,173.0 484.30,174.5 484.45,173.5 484.60,174.7 484.75,176.2 484.90,182.1 485.05,173.9 485.20,171.5 485.35,176.1 485.50,176.2 485.65,176.8 485.80,173.9 485.95,177.4 486.10,175.6 486.25,178.7 486.40,176.9 486.55,174.0 486.70,177.2 486.85,177.2 487.00,179.5 487.15,179.5 487.30,181.4 487.45,179.9 487.60,178.2 487.75,180.1 487.90,179.8 488.05,177.4 488.20,177.2 488.35,181.2 488.50,185.1 488.65,182.5 488.80,181.2 488.95,177.1 489.10,178.2 489.25,182.6 489.40,177.3 489.55,183.1 489.70,179.1 489.85,178.9 490.00,184.2 490.15,181.0 490.30,179.0 490.45,181.1 490.60,181.7 490.75,177.9 490.90,181.7 491.05,181.7 491.20,180.6 491.35,183.3 491.50,181.4 491.65,180.2 491.80,178.8 491.95,182.2 492.10,179.2 492.25,183.1 492.40,179.2 492.55,178.8 492.70,179.0 492.85,179.3 493.00,179.3 493.15,182.2 493.30,180.3 493.45,180.7 493.60,180.6 493.75,183.5 493.90,182.9 494.05,180.1 494.20,178.3 494.35,182.2 494.50,179.7 494.65,181.8 494.80,185.0 494.95,183.1 495.10,181.1 495.25,183.4 495.40,183.0 495.55,181.2 495.70,185.7 495.85,180.9 496.00,184.8 496.15,183.5 496.30,179.8 496.45,183.3 496.60,180.6 496.75,181.8 496.90,180.1 497.05,182.9 497.20,183.8 497.35,180.7 497.50,183.2 497.65,181.7 497.80,178.3 497.95,183.7 498.10,183.9 498.25,183.5 498.40,181.8 498.55,183.2 498.70,180.0 498.85,181.4 499.00,181.3 499.15,179.7 499.30,180.8 499.45,181.7 499.60,182.4 499.75,182.9 499.90,183.1 500.05,183.7 500.20,181.4 500.35,184.0 500.50,179.1 500.65,180.0 500.80,181.5 500.95,180.9 501.10,182.3 501.25,181.2 501.40,181.5 501.55,181.9 501.70,180.4 501.85,182.3 502.00,181.8 502.15,180.7 502.30,181.5 502.45,184.5 502.60,182.0 502.75,180.6 502.90,181.8 503.05,179.5 503.20,181.0 503.35,182.1 503.50,183.5 503.65,179.8 503.80,182.8 503.95,179.0 504.10,181.4 504.25,181.7 504.40,180.8 504.55,182.2 504.70,182.9 504.85,185.7 505.00,181.1 505.15,182.3 505.30,185.1 505.45,186.9 505.60,184.1 505.75,185.5 505.90,179.7 506.05,184.9 506.20,184.1 506.35,183.0 506.50,180.6 506.65,183.4 506.80,183.1 506.95,181.3 507.10,182.0 507.25,184.7 507.40,185.3 507.55,182.9 507.70,183.0 507.85,180.2 508.00,181.1 508.15,181.3 508.30,181.9 508.45,180.2 508.60,181.6 508.75,184.0 508.90,183.7 509.05,182.8 509.20,182.7 509.35,181.1 509.50,179.0 509.65,180.0 509.80,184.5 509.95,180.6 510.10,178.8 510.25,179.8 510.40,180.2 510.55,180.5 510.70,183.2 510.85,179.4 511.00,181.9 511.15,181.2 511.30,181.7 511.45,181.1 511.60,181.5 511.75,180.3 511.90,180.3 512.05,182.4 512.20,181.5 512.35,182.3 512.50,181.4 512.65,182.9 512.80,182.3 512.95,179.8 513.10,181.1 513.25,181.7 513.40,181.1 513.55,182.5 513.70,180.8 513.85,183.7 514.00,181.2 514.15,183.4 514.30,182.0 514.45,183.8 514.60,184.3 514.75,183.7 514.90,181.9 515.05,187.0 515.20,180.6 515.35,181.2 515.50,181.1 515.65,182.5 515.80,182.7 515.95,182.8 516.10,183.4 516.25,180.2 516.40,180.6 516.55,184.3 516.70,180.7 516.85,181.4 517.00,181.9 517.15,180.4 517.30,182.8 517.45,181.5 517.60,186.5 517.75,183.6 517.90,185.2 518.05,182.3 518.20,184.7 518.35,183.2 518.50,179.8 518.65,179.9 518.80,185.0 518.95,185.9 519.10,181.2 519.25,183.4 519.40,182.7 519.55,185.4 519.70,183.4 519.85,180.0 520.00,184.9 520.15,181.3 520.30,182.1 520.45,183.3 520.60,182.7 520.75,183.4 520.90,181.9 521.05,184.4 521.20,181.3 521.35,182.4 521.50,180.9 521.65,182.6 521.80,186.1 521.95,181.3 522.10,184.6 522.25,183.5 522.40,185.2 522.55,190.1 522.70,181.3 522.85,183.1 523.00,180.2 523.15,180.1 523.30,179.5 523.45,182.1 523.60,179.3 523.75,188.9 523.90,182.2 524.05,181.2 524.20,184.4 524.35,179.3 524.50,184.3 524.65,182.7 524.80,191.3 524.95,185.7 525.10,183.3 525.25,182.5 525.40,180.7 525.55,181.0 525.70,182.0 525.85,182.9 526.00,186.2 526.15,183.8 526.30,185.5 526.45,180.1 526.60,185.4 526.75,184.2 526.90,185.5 527.05,184.7 527.20,183.9 527.35,184.0 527.50,184.7 527.65,181.4 527.80,184.0 527.95,183.7 528.10,180.9 528.25,184.4 528.40,181.2 528.55,181.8 528.70,179.6 528.85,186.1 529.00,183.5 529.15,183.5 529.30,184.9 529.45,180.7 529.60,182.1 529.75,184.8 529.90,180.6 530.05,182.4 530.20,184.9 530.35,184.2 530.50,180.5 530.65,184.4 530.80,180.7 530.95,184.1 531.10,179.5 531.25,181.8 531.40,183.1 531.55,185.8 531.70,179.5 531.85,182.3 532.00,183.2 532.15,184.2 532.30,182.8 532.45,183.2 532.60,183.5 532.75,184.9 532.90,185.0 533.05,183.4 533.20,183.3 533.35,181.3 533.50,181.0 533.65,179.3 533.80,187.5 533.95,182.7 534.10,183.8 534.25,184.4 534.40,179.9 534.55,180.8 534.70,183.0 534.85,181.8 535.00,183.1 535.15,183.8 535.30,183.8"/>
</g>
<g fill="none" stroke="#ff00ff" stroke-width="0.85" stroke-linejoin="round">
<polyline points="46.60,110.6 46.75,108.9 46.90,112.4 47.05,110.9 47.20,107.5 47.35,112.1 47.50,109.0 47.65,110.6 47.80,110.4 47.95,109.8 48.10,109.4 48.25,110.9 48.40,108.9 48.55,111.7 48.70,109.4 48.85,106.9 49.00,113.0 49.15,110.8 49.30,110.4 49.45,109.2 49.60,111.3 49.75,112.4 49.90,106.8 50.05,110.0 50.20,111.7 50.35,114.1 50.50,108.7 50.65,107.6 50.80,110.2 50.95,112.0 51.10,110.0 51.25,109.6 51.40,111.8 51.55,112.2 51.70,108.9 51.85,111.4 52.00,108.8 52.15,111.4 52.30,111.6 52.45,106.5 52.60,109.5 52.75,108.2 52.90,110.2 53.05,114.3 53.20,110.8 53.35,111.5 53.50,111.0 53.65,110.9 53.80,107.8 53.95,110.0 54.10,111.6 54.25,109.5 54.40,110.7 54.55,110.9 54.70,104.3 54.85,112.3 55.00,108.4 55.15,109.4 55.30,108.2 55.45,107.6 55.60,113.3 55.75,111.5 55.90,110.3 56.05,111.8 56.20,110.8 56.35,108.5 56.50,109.8 56.65,110.2 56.80,109.0 56.95,111.3 57.10,109.6 57.25,111.1 57.40,111.6 57.55,108.4 57.70,109.0 57.85,111.6 58.00,108.8 58.15,109.7 58.30,109.4 58.45,108.0 58.60,113.7 58.75,113.9 58.90,110.0 59.05,110.5 59.20,109.1 59.35,108.7 59.50,109.2 59.65,110.3 59.80,108.3 59.95,109.2 60.10,107.3 60.25,112.5 60.40,108.6 60.55,106.1 60.70,108.1 60.85,112.4 61.00,112.0 61.15,112.7 61.30,111.9 61.45,109.4 61.60,108.0 61.75,110.0 61.90,107.7 62.05,110.9 62.20,108.9 62.35,111.4 62.50,108.8 62.65,108.6 62.80,112.6 62.95,110.5 63.10,111.3 63.25,109.4 63.40,110.7 63.55,108.8 63.70,108.8 63.85,108.1 64.00,111.0 64.15,108.1 64.30,108.4 64.45,108.5 64.60,107.6 64.75,111.1 64.90,112.9 65.05,109.5 65.20,107.5 65.35,106.7 65.50,106.4 65.65,111.1 65.80,106.6 65.95,108.4 66.10,111.3 66.25,112.9 66.40,111.2 66.55,111.7 66.70,109.2 66.85,111.2 67.00,112.4 67.15,110.7 67.30,110.9 67.45,108.3 67.60,111.8 67.75,107.3 67.90,111.7 68.05,107.6 68.20,111.1 68.35,106.6 68.50,110.1 68.65,110.9 68.80,110.4 68.95,106.8 69.10,111.4 69.25,112.5 69.40,110.6 69.55,108.3 69.70,109.3 69.85,113.5 70.00,111.1 70.15,112.3 70.30,110.9 70.45,111.5 70.60,108.1 70.75,110.7 70.90,108.7 71.05,109.3 71.20,108.9 71.35,110.0 71.50,110.1 71.65,111.7 71.80,108.5 71.95,109.7 72.10,110.4 72.25,108.8 72.40,111.4 72.55,111.5 72.70,109.2 72.85,108.7 73.00,112.5 73.15,109.1 73.30,111.7 73.45,112.3 73.60,109.3 73.75,110.7 73.90,112.8 74.05,111.9 74.20,112.2 74.35,111.0 74.50,110.3 74.65,110.2 74.80,110.6 74.95,109.9 75.10,110.6 75.25,107.8 75.40,110.0 75.55,108.2 75.70,112.4 75.85,108.5 76.00,107.5 76.15,108.3 76.30,111.1 76.45,111.8 76.60,107.9 76.75,109.5 76.90,110.7 77.05,111.6 77.20,115.7 77.35,108.7 77.50,112.8 77.65,111.9 77.80,107.4 77.95,111.7 78.10,109.0 78.25,111.2 78.40,111.3 78.55,110.5 78.70,108.6 78.85,107.4 79.00,111.1 79.15,109.4 79.30,111.3 79.45,111.0 79.60,110.5 79.75,107.6 79.90,109.3 80.05,109.4 80.20,109.4 80.35,111.5 80.50,111.5 80.65,110.3 80.80,110.0 80.95,107.9 81.10,111.4 81.25,112.3 81.40,109.5 81.55,109.1 81.70,112.0 81.85,111.4 82.00,108.7 82.15,112.6 82.30,110.4 82.45,108.8 82.60,108.9 82.75,108.4 82.90,109.6 83.05,111.2 83.20,110.2 83.35,105.3 83.50,114.2 83.65,112.1 83.80,109.5 83.95,110.1 84.10,108.6 84.25,111.0 84.40,109.1 84.55,109.3 84.70,111.2 84.85,110.7 85.00,107.1 85.15,110.4 85.30,110.5 85.45,112.1 85.60,113.0 85.75,114.7 85.90,108.9 86.05,110.8 86.20,113.8 86.35,108.5 86.50,111.4 86.65,106.9 86.80,112.9 86.95,109.7 87.10,113.4 87.25,114.0 87.40,111.8 87.55,108.6 87.70,110.2 87.85,112.2 88.00,107.6 88.15,111.3 88.30,107.1 88.45,109.8 88.60,109.2 88.75,110.3 88.90,109.9 89.05,111.3 89.20,106.9 89.35,106.7 89.50,109.1 89.65,106.8 89.80,107.6 89.95,107.1 90.10,109.7 90.25,110.6 90.40,110.2 90.55,108.4 90.70,109.4 90.85,108.2 91.00,111.0 91.15,108.9 91.30,110.7 91.45,109.4 91.60,111.2 91.75,111.5 91.90,110.2 92.05,113.5 92.20,105.0 92.35,112.8 92.50,108.2 92.65,109.2 92.80,111.0 92.95,109.4 93.10,111.8 93.25,107.0 93.40,110.9 93.55,112.5 93.70,109.4 93.85,110.2 94.00,108.2 94.15,108.7 94.30,110.9 94.45,110.3 94.60,112.0 94.75,111.4 94.90,111.2 95.05,110.7 95.20,109.4 95.35,110.7 95.50,110.0 95.65,111.2 95.80,109.9 95.95,111.3 96.10,110.8 96.25,113.0 96.40,110.6 96.55,109.0 96.70,111.0 96.85,115.6 97.00,109.9 97.15,107.2 97.30,111.1 97.45,107.5 97.60,110.9 97.75,112.1 97.90,111.5 98.05,113.0 98.20,111.1 98.35,110.5 98.50,111.4 98.65,111.6 98.80,112.2 98.95,112.8 99.10,111.3 99.25,111.2 99.40,108.3 99.55,110.9 99.70,112.5 99.85,113.2 100.00,108.4 100.15,114.0 100.30,102.1 100.45,109.0 100.60,108.3 100.75,112.6 100.90,109.1 101.05,114.1 101.20,110.4 101.35,108.5 101.50,111.8 101.65,110.3 101.80,115.0 101.95,111.9 102.10,107.5 102.25,110.8 102.40,111.6 102.55,110.9 102.70,108.9 102.85,113.6 103.00,107.9 103.15,112.8 103.30,108.6 103.45,113.3 103.60,109.2 103.75,108.5 103.90,106.0 104.05,108.1 104.20,112.1 104.35,113.8 104.50,109.5 104.65,111.9 104.80,110.5 104.95,109.5 105.10,112.0 105.25,110.1 105.40,108.7 105.55,110.8 105.70,111.1 105.85,111.5 106.00,110.2 106.15,112.5 106.30,109.5 106.45,109.2 106.60,113.4 106.75,111.3 106.90,111.3 107.05,112.4 107.20,109.4 107.35,112.1 107.50,110.8 107.65,113.4 107.80,111.0 107.95,112.0 108.10,110.2 108.25,114.0 108.40,111.2 108.55,109.1 108.70,115.3 108.85,112.2 109.00,110.6 109.15,113.6 109.30,106.9 109.45,108.7 109.60,110.3 109.75,112.4 109.90,109.3 110.05,110.6 110.20,109.1 110.35,112.0 110.50,115.2 110.65,115.7 110.80,110.8 110.95,111.2 111.10,112.3 111.25,115.9 111.40,112.6 111.55,111.0 111.70,106.9 111.85,113.6 112.00,110.5 112.15,113.9 112.30,113.0 112.45,110.8 112.60,115.1 112.75,109.7 112.90,114.4 113.05,113.2 113.20,112.0 113.35,112.8 113.50,112.9 113.65,114.7 113.80,110.2 113.95,113.9 114.10,112.8 114.25,111.6 114.40,111.9 114.55,114.7 114.70,113.1 114.85,108.8 115.00,111.1 115.15,114.5 115.30,114.9 115.45,106.1 115.60,115.9 115.75,112.8 115.90,112.6 116.05,114.2 116.20,115.2 116.35,111.3 116.50,115.4 116.65,111.9 116.80,115.3 116.95,110.3 117.10,109.5 117.25,115.1 117.40,113.8 117.55,111.1 117.70,113.0 117.85,113.8 118.00,112.2 118.15,113.7 118.30,110.7 118.45,113.4 118.60,109.9 118.75,111.8 118.90,112.2 119.05,116.6 119.20,113.0 119.35,114.7 119.50,115.1 119.65,111.7 119.80,115.2 119.95,115.9 120.10,110.5 120.25,114.2 120.40,111.8 120.55,114.2 120.70,112.4 120.85,114.8 121.00,113.8 121.15,116.1 121.30,112.4 121.45,114.1 121.60,113.6 121.75,112.9 121.90,114.4 122.05,110.2 122.20,112.7 122.35,111.6 122.50,114.9 122.65,112.1 122.80,112.0 122.95,109.7 123.10,114.6 123.25,113.9 123.40,114.3 123.55,112.0 123.70,113.8 123.85,112.7 124.00,114.6 124.15,110.1 124.30,111.4 124.45,112.2 124.60,110.6 124.75,109.7 124.90,114.8 125.05,114.6 125.20,112.3 125.35,111.7 125.50,113.6 125.65,109.5 125.80,113.0 125.95,112.6 126.10,112.3 126.25,112.9 126.40,113.8 126.55,114.8 126.70,113.5 126.85,113.4 127.00,113.3 127.15,117.5 127.30,111.9 127.45,112.8 127.60,116.2 127.75,113.8 127.90,112.1 128.05,111.8 128.20,114.9 128.35,112.3 128.50,114.8 128.65,115.8 128.80,113.0 128.95,111.6 129.10,116.7 129.25,113.2 129.40,112.4 129.55,114.4 129.70,111.6 129.85,115.1 130.00,113.4 130.15,112.7 130.30,113.3 130.45,113.4 130.60,112.7 130.75,117.5 130.90,113.1 131.05,112.7 131.20,112.0 131.35,110.5 131.50,113.9 131.65,110.8 131.80,114.6 131.95,111.1 132.10,115.3 132.25,113.4 132.40,109.9 132.55,113.0 132.70,109.1 132.85,113.7 133.00,110.9 133.15,115.7 133.30,110.5 133.45,110.0 133.60,111.9 133.75,110.4 133.90,109.9 134.05,107.8 134.20,112.9 134.35,111.2 134.50,110.7 134.65,111.1 134.80,113.3 134.95,109.4 135.10,112.0 135.25,109.8 135.40,112.2 135.55,110.8 135.70,108.5 135.85,110.2 136.00,109.2 136.15,109.7 136.30,109.0 136.45,111.9 136.60,110.2 136.75,110.1 136.90,110.6 137.05,110.8 137.20,109.5 137.35,111.6 137.50,108.6 137.65,110.8 137.80,109.0 137.95,109.8 138.10,107.1 138.25,105.8 138.40,104.3 138.55,101.9 138.70,99.3"/>
<polyline stroke-width="0.7" points="138.55,101.9 138.70,99.3 138.85,96.1 139.00,92.8 139.15,90.0 139.30,88.3 139.45,88.0 139.60,89.4 139.75,92.0 139.90,95.1 140.05,98.4 140.20,101.2"/>
<polyline points="140.05,98.4 140.20,101.2 140.35,103.8 140.50,105.9 140.65,107.4 140.80,108.2 140.95,107.9 141.10,110.5 141.25,109.4 141.40,110.8 141.55,109.5 141.70,113.8 141.85,112.9 142.00,110.3 142.15,112.1 142.30,114.7 142.45,113.9 142.60,113.4 142.75,113.6 142.90,109.8 143.05,110.2 143.20,112.4 143.35,110.6 143.50,106.7 143.65,110.0 143.80,115.1 143.95,112.2 144.10,112.6 144.25,115.5 144.40,112.7 144.55,115.0 144.70,115.9 144.85,113.8 145.00,109.8 145.15,113.2 145.30,115.1 145.45,111.8 145.60,113.7 145.75,110.4 145.90,114.4 146.05,114.1 146.20,111.8 146.35,110.0 146.50,111.2 146.65,115.0 146.80,113.3 146.95,116.0 147.10,116.3 147.25,114.9 147.40,110.7 147.55,113.7 147.70,111.5 147.85,115.4 148.00,113.3 148.15,112.5 148.30,112.8 148.45,110.5 148.60,117.3 148.75,115.3 148.90,116.5 149.05,114.3 149.20,114.6 149.35,112.7 149.50,115.0 149.65,116.1 149.80,114.6 149.95,112.4 150.10,111.1 150.25,112.3 150.40,112.7 150.55,115.8 150.70,113.4 150.85,112.0 151.00,112.0 151.15,114.2 151.30,112.4 151.45,111.3 151.60,110.3 151.75,115.5 151.90,113.6 152.05,111.3 152.20,105.9 152.35,112.1 152.50,115.3 152.65,114.3 152.80,110.4 152.95,115.6 153.10,112.1 153.25,111.1 153.40,113.1 153.55,115.7 153.70,112.7 153.85,115.5 154.00,111.5 154.15,114.0 154.30,112.3 154.45,114.7 154.60,112.2 154.75,110.4 154.90,112.5 155.05,111.0 155.20,110.8 155.35,109.6 155.50,112.4 155.65,109.9 155.80,111.3 155.95,110.0 156.10,108.2 156.25,107.5 156.40,106.2 156.55,104.0 156.70,101.8 156.85,99.2"/>
<polyline stroke-width="0.7" points="156.70,101.8 156.85,99.2 157.00,96.4 157.15,93.4 157.30,91.1 157.45,89.8 157.60,90.1 157.75,91.7 157.90,94.4 158.05,97.2 158.20,100.1 158.35,102.6"/>
<polyline points="158.20,100.1 158.35,102.6 158.50,104.2 158.65,106.4 158.80,108.0 158.95,108.0 159.10,108.7 159.25,108.3 159.40,110.1 159.55,110.5 159.70,110.0 159.85,112.5 160.00,111.7 160.15,110.9 160.30,111.7 160.45,109.6 160.60,113.2 160.75,110.3 160.90,113.8 161.05,109.5 161.20,109.3 161.35,116.7 161.50,112.3 161.65,114.1 161.80,109.3 161.95,111.5 162.10,112.4 162.25,112.7 162.40,111.5 162.55,110.2 162.70,109.5 162.85,109.1 163.00,112.4 163.15,111.5 163.30,112.4 163.45,114.8 163.60,110.6 163.75,109.4 163.90,109.0 164.05,108.6 164.20,109.9 164.35,110.7 164.50,108.9 164.65,112.4 164.80,112.6 164.95,108.1 165.10,106.1 165.25,111.9 165.40,108.2 165.55,107.1 165.70,108.3 165.85,111.4 166.00,108.5 166.15,112.4 166.30,110.7 166.45,111.5 166.60,109.2 166.75,108.7 166.90,108.3 167.05,109.5 167.20,108.3 167.35,107.9 167.50,108.3 167.65,108.3 167.80,108.2 167.95,107.9 168.10,106.4 168.25,105.5 168.40,104.3 168.55,102.9 168.70,101.3 168.85,99.5 169.00,98.0"/>
<polyline stroke-width="0.7" points="168.85,99.5 169.00,98.0 169.15,96.2 169.30,94.5 169.45,92.7 169.60,91.2 169.75,89.8 169.90,88.7 170.05,88.1 170.20,88.1 170.35,88.5 170.50,89.3 170.65,90.4 170.80,91.6 170.95,93.2 171.10,94.5 171.25,96.1 171.40,97.2"/>
<polyline points="171.25,96.1 171.40,97.2 171.55,98.1 171.70,99.4 171.85,100.2 172.00,101.1 172.15,101.8 172.30,102.1 172.45,102.4 172.60,104.2 172.75,103.8 172.90,105.2 173.05,103.4 173.20,104.7 173.35,105.2 173.50,107.4 173.65,106.6 173.80,106.3 173.95,107.1 174.10,108.1 174.25,108.4 174.40,108.7 174.55,108.1 174.70,108.1 174.85,107.9 175.00,109.4 175.15,110.8 175.30,108.3 175.45,109.0 175.60,108.2 175.75,110.1 175.90,107.9 176.05,107.2 176.20,107.6 176.35,106.8 176.50,106.3 176.65,104.4 176.80,103.0 176.95,101.4 177.10,100.0"/>
<polyline stroke-width="0.7" points="176.95,101.4 177.10,100.0 177.25,98.6 177.40,97.6 177.55,97.7 177.70,98.5 177.85,100.0 178.00,101.7"/>
<polyline points="177.85,100.0 178.00,101.7 178.15,103.7 178.30,105.3 178.45,107.1 178.60,107.5 178.75,109.3 178.90,109.5 179.05,109.7 179.20,109.9 179.35,110.8 179.50,112.0 179.65,110.8 179.80,109.6 179.95,111.9 180.10,109.0 180.25,110.4 180.40,111.3 180.55,109.7 180.70,111.4 180.85,109.6 181.00,107.2 181.15,111.6 181.30,108.7 181.45,111.0 181.60,108.9 181.75,106.6 181.90,106.8 182.05,106.0 182.20,105.5 182.35,105.5 182.50,104.6 182.65,104.4 182.80,103.4 182.95,101.7 183.10,100.6 183.25,99.2 183.40,97.0 183.55,94.7"/>
<polyline stroke-width="0.7" points="183.40,97.0 183.55,94.7 183.70,91.6 183.85,87.0 184.00,80.8 184.15,73.0 184.30,64.5 184.45,57.1 184.60,53.7 184.75,56.1 184.90,62.7 185.05,70.3 185.20,77.2 185.35,82.5 185.50,86.4 185.65,88.7 185.80,90.5"/>
<polyline points="185.65,88.7 185.80,90.5 185.95,91.7 186.10,91.9 186.25,92.9 186.40,93.2 186.55,93.9 186.70,93.0 186.85,94.1 187.00,94.3 187.15,94.4 187.30,94.5 187.45,95.4 187.60,93.5 187.75,94.4 187.90,96.2 188.05,92.6 188.20,96.5 188.35,96.7 188.50,92.9 188.65,94.8 188.80,94.6 188.95,96.6 189.10,96.2 189.25,97.6 189.40,96.6 189.55,99.0 189.70,96.2 189.85,96.5 190.00,98.4 190.15,96.5 190.30,100.5 190.45,98.7 190.60,97.5 190.75,97.3 190.90,98.8 191.05,100.9 191.20,97.9 191.35,98.9 191.50,101.7 191.65,101.9 191.80,102.7 191.95,102.4 192.10,103.6 192.25,101.4 192.40,104.5 192.55,104.9 192.70,101.8 192.85,105.8 193.00,103.8 193.15,103.8 193.30,105.1 193.45,107.2 193.60,105.1 193.75,108.0 193.90,106.6 194.05,106.9 194.20,105.8 194.35,107.7 194.50,108.0 194.65,107.6 194.80,109.8 194.95,106.5 195.10,106.5 195.25,110.0 195.40,109.8 195.55,111.6 195.70,108.2 195.85,111.2 196.00,110.9 196.15,111.5 196.30,110.2 196.45,111.7 196.60,111.1 196.75,109.1 196.90,106.7 197.05,108.1 197.20,112.1 197.35,108.5 197.50,110.8 197.65,109.9 197.80,110.0 197.95,113.0 198.10,111.7 198.25,112.0 198.40,107.8 198.55,110.0 198.70,109.4 198.85,111.8 199.00,112.5 199.15,108.7 199.30,109.9 199.45,108.4 199.60,109.6 199.75,109.2 199.90,104.6 200.05,106.4 200.20,106.7 200.35,104.0 200.50,102.6 200.65,105.1 200.80,102.2 200.95,104.9 201.10,107.9 201.25,107.4 201.40,107.7 201.55,106.3 201.70,107.7 201.85,108.0 202.00,109.5 202.15,110.8 202.30,107.3 202.45,110.5 202.60,105.0 202.75,111.3 202.90,108.9 203.05,111.6 203.20,109.5 203.35,112.7 203.50,112.1 203.65,111.2 203.80,113.8 203.95,112.1 204.10,114.0 204.25,111.6 204.40,113.7 204.55,111.6 204.70,117.3 204.85,115.3 205.00,115.0 205.15,115.1 205.30,114.3 205.45,109.5 205.60,112.2 205.75,112.6 205.90,111.4 206.05,115.9 206.20,111.1 206.35,113.3 206.50,115.3 206.65,114.8 206.80,114.1 206.95,112.7 207.10,113.1 207.25,113.6 207.40,114.3 207.55,114.5 207.70,113.1 207.85,112.4 208.00,114.3 208.15,112.1 208.30,111.6 208.45,113.9 208.60,113.7 208.75,113.4 208.90,112.5 209.05,114.5 209.20,112.6 209.35,110.6 209.50,114.6 209.65,112.5 209.80,116.4 209.95,110.4 210.10,110.9 210.25,112.0 210.40,112.5 210.55,113.5 210.70,114.7 210.85,113.3 211.00,112.3 211.15,111.8 211.30,115.0 211.45,109.5 211.60,112.2 211.75,114.4 211.90,113.8 212.05,113.4 212.20,113.2 212.35,113.5 212.50,114.5 212.65,110.7 212.80,115.2 212.95,111.5 213.10,113.8 213.25,113.7 213.40,113.4 213.55,109.7 213.70,113.5 213.85,113.0 214.00,112.9 214.15,119.2 214.30,109.6 214.45,114.2 214.60,111.0 214.75,112.2 214.90,111.4 215.05,114.0 215.20,111.9 215.35,111.6 215.50,113.9 215.65,111.3 215.80,112.7 215.95,112.9 216.10,109.8 216.25,110.2 216.40,110.8 216.55,111.6 216.70,114.9 216.85,112.1 217.00,113.5 217.15,111.2 217.30,108.6 217.45,109.2 217.60,112.6 217.75,109.1 217.90,111.2 218.05,107.2 218.20,109.6 218.35,105.8 218.50,105.3 218.65,109.6 218.80,104.9 218.95,105.8 219.10,106.3 219.25,106.7 219.40,104.4 219.55,103.8 219.70,102.6 219.85,105.9 220.00,103.7 220.15,101.3 220.30,101.8 220.45,99.5 220.60,100.0 220.75,99.2 220.90,97.4 221.05,100.5 221.20,100.1 221.35,99.3 221.50,102.1 221.65,100.1 221.80,103.2 221.95,101.7 222.10,102.1 222.25,106.3 222.40,107.3 222.55,105.2 222.70,108.6 222.85,104.4 223.00,107.3 223.15,105.3 223.30,107.1 223.45,107.2 223.60,104.9 223.75,107.2 223.90,107.2 224.05,109.3 224.20,107.2 224.35,110.6 224.50,107.2 224.65,109.2 224.80,109.1 224.95,112.1 225.10,107.3 225.25,110.4 225.40,112.5 225.55,113.3 225.70,110.6 225.85,111.3 226.00,111.1 226.15,113.9 226.30,108.9 226.45,112.9 226.60,110.7 226.75,108.4 226.90,108.7 227.05,113.5 227.20,113.2 227.35,111.7 227.50,112.4 227.65,111.9 227.80,106.6 227.95,110.8 228.10,111.8 228.25,113.6 228.40,114.0 228.55,111.7 228.70,107.3 228.85,114.5 229.00,113.9 229.15,112.5 229.30,113.7 229.45,115.1 229.60,113.6 229.75,113.2 229.90,114.6 230.05,115.0 230.20,112.7 230.35,113.9 230.50,112.9 230.65,114.4 230.80,111.7 230.95,112.8 231.10,110.6 231.25,112.9 231.40,113.8 231.55,112.3 231.70,110.3 231.85,112.1 232.00,110.0 232.15,112.9 232.30,110.0 232.45,112.5 232.60,111.7 232.75,113.3 232.90,111.8 233.05,112.8 233.20,112.6 233.35,113.3 233.50,107.8 233.65,110.2 233.80,112.5 233.95,111.5 234.10,112.6 234.25,109.9 234.40,109.9 234.55,111.8 234.70,109.4 234.85,111.6 235.00,112.5 235.15,108.9 235.30,112.0 235.45,112.4 235.60,109.8 235.75,110.7 235.90,108.3 236.05,111.6 236.20,111.7 236.35,110.0 236.50,110.6 236.65,109.9 236.80,109.7 236.95,109.4 237.10,108.8 237.25,107.6 237.40,109.0 237.55,106.9 237.70,106.7 237.85,105.1 238.00,104.4 238.15,103.9 238.30,102.5 238.45,101.1 238.60,99.6"/>
<polyline stroke-width="0.7" points="238.45,101.1 238.60,99.6 238.75,98.1 238.90,96.3 239.05,93.9 239.20,90.4 239.35,84.7 239.50,75.8 239.65,63.5 239.80,49.7 239.95,40.4 240.10,42.6 240.25,54.5 240.40,68.4 240.55,79.8 240.70,87.6 240.85,92.5 241.00,95.7 241.15,97.9 241.30,99.6 241.45,101.4 241.60,102.8"/>
<polyline points="241.45,101.4 241.60,102.8 241.75,104.1 241.90,105.2 242.05,106.5 242.20,107.7 242.35,109.0 242.50,108.7 242.65,109.9 242.80,111.8 242.95,110.9 243.10,110.8 243.25,109.4 243.40,114.8 243.55,112.7 243.70,112.9 243.85,113.5 244.00,114.4 244.15,112.0 244.30,114.3 244.45,113.2 244.60,113.9 244.75,111.7 244.90,112.9 245.05,114.1 245.20,114.4 245.35,113.6 245.50,117.6 245.65,115.5 245.80,113.3 245.95,112.7 246.10,112.5 246.25,114.6 246.40,116.9 246.55,113.8 246.70,116.1 246.85,115.7 247.00,116.6 247.15,114.0 247.30,117.6 247.45,111.5 247.60,117.7 247.75,115.8 247.90,116.2 248.05,113.7 248.20,115.6 248.35,116.0 248.50,114.0 248.65,113.3 248.80,113.5 248.95,110.6 249.10,116.2 249.25,115.8 249.40,115.8 249.55,116.6 249.70,116.9 249.85,111.1 250.00,113.4 250.15,112.5 250.30,115.5 250.45,118.8 250.60,117.7 250.75,115.8 250.90,116.8 251.05,116.0 251.20,113.2 251.35,116.5 251.50,113.2 251.65,111.1 251.80,115.4 251.95,111.1 252.10,115.8 252.25,114.7 252.40,115.4 252.55,114.2 252.70,115.0 252.85,117.0 253.00,116.7 253.15,114.4 253.30,114.9 253.45,116.3 253.60,115.5 253.75,114.9 253.90,113.1 254.05,115.2 254.20,114.1 254.35,118.0 254.50,113.7 254.65,116.9 254.80,112.1 254.95,116.4 255.10,114.5 255.25,114.1 255.40,114.6 255.55,118.5 255.70,112.3 255.85,115.1 256.00,118.1 256.15,116.4 256.30,114.6 256.45,113.4 256.60,112.1 256.75,113.8 256.90,117.1 257.05,114.8 257.20,113.6 257.35,117.1 257.50,113.1 257.65,115.8 257.80,113.1 257.95,115.4 258.10,113.7 258.25,116.4 258.40,113.4 258.55,112.6 258.70,115.9 258.85,114.7 259.00,115.3 259.15,114.9 259.30,116.1 259.45,110.9 259.60,116.7 259.75,114.0 259.90,114.1 260.05,116.2 260.20,116.3 260.35,114.3 260.50,114.1 260.65,115.2 260.80,116.9 260.95,114.5 261.10,113.3 261.25,114.5 261.40,118.2 261.55,114.9 261.70,113.6 261.85,114.4 262.00,114.0 262.15,114.8 262.30,113.7 262.45,115.4 262.60,113.4 262.75,115.9 262.90,118.2 263.05,114.6 263.20,110.9 263.35,114.7 263.50,115.2 263.65,113.7 263.80,111.5 263.95,115.8 264.10,117.8 264.25,116.1 264.40,113.7 264.55,117.7 264.70,114.5 264.85,114.6 265.00,117.5 265.15,114.7 265.30,112.9 265.45,115.8 265.60,114.1 265.75,117.8 265.90,116.8 266.05,112.8 266.20,115.3 266.35,113.8 266.50,115.3 266.65,114.0 266.80,114.9 266.95,111.3 267.10,117.8 267.25,116.2 267.40,116.8 267.55,112.9 267.70,110.4 267.85,114.0 268.00,111.4 268.15,116.9 268.30,113.7 268.45,113.4 268.60,115.8 268.75,116.5 268.90,112.7 269.05,115.5 269.20,115.1 269.35,116.2 269.50,118.5 269.65,113.5 269.80,117.0 269.95,114.2 270.10,116.6 270.25,111.4 270.40,112.9 270.55,114.9 270.70,116.0 270.85,114.0 271.00,112.5 271.15,115.9 271.30,112.9 271.45,115.2 271.60,118.3 271.75,111.8 271.90,118.6 272.05,114.6 272.20,114.6 272.35,110.5 272.50,116.3 272.65,116.1 272.80,114.0 272.95,117.5 273.10,114.1 273.25,115.0 273.40,113.9 273.55,114.9 273.70,114.8 273.85,116.2 274.00,117.0 274.15,116.2 274.30,116.0 274.45,117.4 274.60,116.5 274.75,118.1 274.90,113.0 275.05,114.0 275.20,114.2 275.35,115.3 275.50,113.4 275.65,116.6 275.80,115.4 275.95,116.9 276.10,119.7 276.25,117.0 276.40,115.3 276.55,117.4 276.70,116.1 276.85,116.9 277.00,116.5 277.15,117.1 277.30,112.7 277.45,114.1 277.60,116.7 277.75,118.0 277.90,114.8 278.05,114.1 278.20,115.0 278.35,111.7 278.50,114.2 278.65,112.9 278.80,116.4 278.95,118.5 279.10,116.0 279.25,114.7 279.40,115.6 279.55,113.9 279.70,117.8 279.85,116.3 280.00,117.8 280.15,114.0 280.30,118.5 280.45,116.3 280.60,115.0 280.75,118.7 280.90,116.4 281.05,114.0 281.20,116.0 281.35,113.2 281.50,115.3 281.65,117.5 281.80,114.3 281.95,112.1 282.10,117.2 282.25,114.1 282.40,114.7 282.55,114.8 282.70,116.3 282.85,113.4 283.00,112.2 283.15,116.0 283.30,116.5 283.45,113.2 283.60,114.5 283.75,111.6 283.90,111.9 284.05,114.0 284.20,111.0 284.35,117.1 284.50,112.1 284.65,113.4 284.80,113.2 284.95,116.5 285.10,115.4 285.25,112.3 285.40,113.7 285.55,112.8 285.70,113.9 285.85,114.3 286.00,115.8 286.15,115.5 286.30,116.8 286.45,115.2 286.60,112.6 286.75,112.0 286.90,112.9 287.05,111.1 287.20,112.5 287.35,113.5 287.50,114.2 287.65,114.1 287.80,113.9 287.95,113.3 288.10,114.7 288.25,110.3 288.40,113.2 288.55,112.6 288.70,111.8 288.85,111.2 289.00,113.7 289.15,114.5 289.30,112.0 289.45,111.2 289.60,114.6 289.75,113.6 289.90,110.8 290.05,110.5 290.20,112.8 290.35,112.6 290.50,113.2 290.65,109.4 290.80,112.1 290.95,112.7 291.10,113.1 291.25,109.3 291.40,110.4 291.55,111.8 291.70,114.0 291.85,109.8 292.00,111.5 292.15,110.0 292.30,108.9 292.45,110.4 292.60,108.9 292.75,116.8 292.90,108.6 293.05,108.8 293.20,105.9 293.35,109.5 293.50,110.3 293.65,108.4 293.80,105.3 293.95,107.0 294.10,111.9 294.25,106.2 294.40,105.5 294.55,106.3 294.70,109.6 294.85,109.3 295.00,110.2 295.15,108.7 295.30,109.7 295.45,109.8 295.60,108.5 295.75,109.8 295.90,108.7 296.05,110.5 296.20,117.1 296.35,112.6 296.50,112.7 296.65,112.3 296.80,113.5 296.95,114.3 297.10,115.4 297.25,110.8 297.40,108.5 297.55,112.8 297.70,111.6 297.85,112.7 298.00,113.0 298.15,110.2 298.30,114.4 298.45,110.0 298.60,116.7 298.75,112.5 298.90,116.2 299.05,113.4 299.20,111.0 299.35,114.4 299.50,112.2 299.65,112.9 299.80,112.4 299.95,113.5 300.10,111.8 300.25,116.0 300.40,112.8 300.55,113.7 300.70,114.9 300.85,114.2 301.00,114.2 301.15,113.3 301.30,112.1 301.45,112.8 301.60,113.1 301.75,113.0 301.90,113.3 302.05,111.9 302.20,112.9 302.35,109.5 302.50,115.6 302.65,111.5 302.80,110.4 302.95,112.6 303.10,115.1 303.25,116.2 303.40,114.2 303.55,112.3 303.70,113.8 303.85,112.0 304.00,113.5 304.15,115.2 304.30,112.9 304.45,115.9 304.60,114.5 304.75,113.9 304.90,118.0 305.05,114.7 305.20,114.4 305.35,113.7 305.50,116.5 305.65,111.8 305.80,114.2 305.95,114.3 306.10,114.8 306.25,114.3 306.40,115.7 306.55,114.3 306.70,116.3 306.85,115.6 307.00,116.7 307.15,113.1 307.30,117.2 307.45,114.2 307.60,115.4 307.75,116.8 307.90,116.3 308.05,115.6 308.20,116.8 308.35,114.4 308.50,115.6 308.65,115.6 308.80,115.0 308.95,114.7 309.10,115.8 309.25,115.9 309.40,114.9 309.55,115.0 309.70,111.5 309.85,116.5 310.00,111.1 310.15,114.4 310.30,115.6 310.45,116.5 310.60,117.6 310.75,115.5 310.90,112.6 311.05,116.2 311.20,116.3 311.35,116.1 311.50,115.8 311.65,112.8 311.80,112.4 311.95,116.4 312.10,112.0 312.25,114.0 312.40,114.9 312.55,117.7 312.70,114.8 312.85,117.3 313.00,117.7 313.15,116.5 313.30,113.6 313.45,115.8 313.60,112.4 313.75,116.0 313.90,117.3 314.05,112.9 314.20,116.8 314.35,116.8 314.50,112.5 314.65,113.0 314.80,113.1 314.95,115.6 315.10,111.5 315.25,114.8 315.40,118.2 315.55,115.7 315.70,114.2 315.85,114.9 316.00,117.6 316.15,113.4 316.30,117.1 316.45,113.2 316.60,118.1 316.75,116.4 316.90,114.6 317.05,115.7 317.20,113.4 317.35,115.5 317.50,114.0 317.65,111.5 317.80,112.6 317.95,116.0 318.10,114.7 318.25,113.2 318.40,115.5 318.55,114.0 318.70,113.5 318.85,116.2 319.00,111.2 319.15,113.2 319.30,118.0 319.45,116.2 319.60,117.4 319.75,113.2 319.90,115.8 320.05,112.5 320.20,113.4 320.35,112.6 320.50,114.5 320.65,112.4 320.80,111.2 320.95,113.7 321.10,116.8 321.25,116.0 321.40,111.1 321.55,115.9 321.70,113.4 321.85,116.8 322.00,112.8 322.15,113.8 322.30,112.2 322.45,111.1 322.60,113.2 322.75,111.1 322.90,113.7 323.05,111.8 323.20,112.0 323.35,111.2 323.50,112.5 323.65,110.2 323.80,112.5 323.95,110.5 324.10,107.4 324.25,109.3 324.40,110.2 324.55,110.5 324.70,107.0 324.85,107.0 325.00,106.7 325.15,108.0 325.30,109.9 325.45,106.3 325.60,105.4 325.75,109.9 325.90,106.8 326.05,107.1 326.20,107.3 326.35,108.4 326.50,109.7 326.65,108.6 326.80,111.2 326.95,112.9 327.10,110.2 327.25,109.3 327.40,111.3 327.55,108.3 327.70,111.0 327.85,113.3 328.00,110.0 328.15,111.7 328.30,109.0 328.45,113.0 328.60,112.4 328.75,111.2 328.90,113.6 329.05,112.7 329.20,113.9 329.35,113.2 329.50,111.5 329.65,115.1 329.80,114.9 329.95,111.0 330.10,113.0 330.25,111.8 330.40,115.0 330.55,114.9 330.70,112.8 330.85,116.2 331.00,112.9 331.15,114.4 331.30,111.3 331.45,113.9 331.60,115.1 331.75,112.0 331.90,111.3 332.05,113.6 332.20,114.8 332.35,113.8 332.50,116.3 332.65,115.4 332.80,111.2 332.95,110.9 333.10,112.9 333.25,113.2 333.40,113.1 333.55,114.8 333.70,112.0 333.85,115.2 334.00,110.7 334.15,113.2 334.30,111.6 334.45,115.9 334.60,114.4 334.75,115.9 334.90,111.2 335.05,114.5 335.20,111.3 335.35,115.1 335.50,113.3 335.65,111.6 335.80,112.3 335.95,114.2 336.10,114.5 336.25,115.0 336.40,112.7 336.55,111.3 336.70,115.0 336.85,114.6 337.00,111.2 337.15,112.2 337.30,113.7 337.45,112.5 337.60,112.4 337.75,114.8 337.90,119.2 338.05,111.5 338.20,114.8 338.35,113.5 338.50,116.4 338.65,111.9 338.80,113.0 338.95,114.7 339.10,115.4 339.25,113.2 339.40,110.7 339.55,115.9 339.70,117.0 339.85,114.5 340.00,115.5 340.15,112.0 340.30,107.8 340.45,108.5 340.60,110.4 340.75,106.7 340.90,109.2 341.05,105.1 341.20,104.3 341.35,106.5 341.50,102.7 341.65,101.0 341.80,102.8 341.95,105.9 342.10,101.2 342.25,106.8 342.40,103.4 342.55,108.9 342.70,110.5 342.85,110.9 343.00,112.1 343.15,109.8 343.30,112.8 343.45,110.6 343.60,114.9 343.75,111.2 343.90,113.6 344.05,111.7 344.20,111.1 344.35,112.5 344.50,110.3 344.65,112.2 344.80,111.0 344.95,117.4 345.10,114.9 345.25,115.9 345.40,116.0 345.55,117.4 345.70,116.0 345.85,111.7 346.00,112.7 346.15,113.6 346.30,119.3 346.45,113.2 346.60,113.3 346.75,110.0 346.90,111.3 347.05,113.7 347.20,113.9 347.35,111.4 347.50,113.3 347.65,113.1 347.80,114.9 347.95,113.6 348.10,115.1 348.25,114.1 348.40,112.4 348.55,111.4 348.70,113.6 348.85,115.0 349.00,112.6 349.15,110.5 349.30,113.0 349.45,111.5 349.60,112.6 349.75,111.0 349.90,109.0 350.05,112.5 350.20,111.6 350.35,114.4 350.50,112.6 350.65,112.5 350.80,113.4 350.95,109.7 351.10,112.2 351.25,108.0 351.40,115.3 351.55,109.1 351.70,107.4 351.85,108.2 352.00,112.5 352.15,107.8 352.30,111.3 352.45,108.2 352.60,112.9 352.75,111.1 352.90,109.1 353.05,112.8 353.20,109.2 353.35,110.8 353.50,109.5 353.65,110.9 353.80,106.0 353.95,110.9 354.10,108.3 354.25,108.2 354.40,111.1 354.55,115.0 354.70,111.3 354.85,111.1 355.00,108.9 355.15,110.5 355.30,112.8 355.45,114.7 355.60,114.9 355.75,113.9 355.90,113.5 356.05,113.4 356.20,112.8 356.35,114.9 356.50,113.3 356.65,114.7 356.80,114.2 356.95,110.5 357.10,115.5 357.25,112.7 357.40,113.0 357.55,112.4 357.70,112.8 357.85,115.9 358.00,115.1 358.15,111.7 358.30,114.9 358.45,111.3 358.60,112.1 358.75,116.0 358.90,110.4 359.05,112.2 359.20,110.9 359.35,112.9 359.50,112.4 359.65,112.1 359.80,116.0 359.95,113.1 360.10,115.3 360.25,114.4 360.40,115.5 360.55,117.6 360.70,116.1 360.85,112.5 361.00,112.4 361.15,114.3 361.30,115.0 361.45,113.7 361.60,116.6 361.75,112.2 361.90,115.9 362.05,113.2 362.20,115.9 362.35,117.0 362.50,115.7 362.65,113.6 362.80,116.0 362.95,115.6 363.10,113.3 363.25,111.5 363.40,114.0 363.55,114.1 363.70,113.5 363.85,118.7 364.00,114.2 364.15,113.9 364.30,111.8 364.45,113.5 364.60,114.2 364.75,115.1 364.90,115.5 365.05,115.6 365.20,113.0 365.35,118.2 365.50,112.6 365.65,115.7 365.80,112.2 365.95,114.1 366.10,114.5 366.25,113.8 366.40,109.9 366.55,111.5 366.70,112.3 366.85,109.0 367.00,110.2 367.15,110.2 367.30,108.2 367.45,107.2 367.60,106.7 367.75,104.4 367.90,106.1 368.05,106.2 368.20,101.3 368.35,102.9 368.50,102.0 368.65,105.2 368.80,107.3 368.95,106.7 369.10,107.1 369.25,106.6 369.40,108.7 369.55,113.8 369.70,111.4 369.85,112.7 370.00,111.6 370.15,111.7 370.30,115.4 370.45,111.8 370.60,112.4 370.75,111.1 370.90,113.4 371.05,113.7 371.20,114.0 371.35,113.4 371.50,113.0 371.65,115.9 371.80,113.2 371.95,112.4 372.10,115.8 372.25,115.1 372.40,113.4 372.55,115.2 372.70,108.6 372.85,114.5 373.00,116.6 373.15,112.7 373.30,114.2 373.45,115.8 373.60,113.2 373.75,113.6 373.90,116.9 374.05,113.4 374.20,116.0 374.35,113.8 374.50,116.6 374.65,116.7 374.80,113.8 374.95,117.4 375.10,113.5 375.25,115.4 375.40,117.2 375.55,114.9 375.70,116.2 375.85,114.7 376.00,114.2 376.15,117.1 376.30,112.6 376.45,114.6 376.60,114.9 376.75,116.5 376.90,115.4 377.05,115.9 377.20,113.5 377.35,113.3 377.50,114.0 377.65,117.7 377.80,113.1 377.95,114.1 378.10,112.9 378.25,114.3 378.40,115.8 378.55,111.2 378.70,113.0 378.85,111.6 379.00,110.5 379.15,109.6 379.30,106.8 379.45,106.7 379.60,106.8 379.75,109.9 379.90,105.7 380.05,106.8 380.20,107.1 380.35,107.9 380.50,110.1 380.65,111.2 380.80,111.8 380.95,110.1 381.10,111.2 381.25,114.0 381.40,111.1 381.55,113.8 381.70,111.9 381.85,114.4 382.00,112.8 382.15,116.5 382.30,116.5 382.45,114.2 382.60,115.0 382.75,114.7 382.90,116.5 383.05,115.4 383.20,115.3 383.35,114.5 383.50,115.1 383.65,113.1 383.80,115.4 383.95,116.9 384.10,115.2 384.25,116.4 384.40,114.1 384.55,113.4 384.70,113.3 384.85,112.4 385.00,115.7 385.15,112.4 385.30,111.3 385.45,108.0 385.60,113.9 385.75,112.3 385.90,111.4 386.05,112.7 386.20,113.9 386.35,115.9 386.50,110.5 386.65,115.3 386.80,115.6 386.95,113.7 387.10,115.0 387.25,114.9 387.40,116.0 387.55,114.5 387.70,116.2 387.85,111.8 388.00,111.4 388.15,112.0 388.30,114.7 388.45,109.1 388.60,113.5 388.75,112.9 388.90,113.0 389.05,112.2 389.20,114.4 389.35,110.1 389.50,108.8 389.65,108.9 389.80,105.9 389.95,110.6 390.10,111.9 390.25,117.0 390.40,113.4 390.55,113.4 390.70,111.8 390.85,114.5 391.00,114.1 391.15,111.6 391.30,111.9 391.45,110.0 391.60,112.6 391.75,114.7 391.90,112.2 392.05,112.6 392.20,113.9 392.35,108.9 392.50,111.2 392.65,113.4 392.80,111.0 392.95,113.9 393.10,116.3 393.25,114.6 393.40,116.2 393.55,111.6 393.70,115.5 393.85,112.5 394.00,117.0 394.15,113.9 394.30,113.6 394.45,117.2 394.60,115.0 394.75,116.0 394.90,108.8 395.05,113.7 395.20,115.6 395.35,111.7 395.50,112.8 395.65,112.3 395.80,112.9 395.95,114.2 396.10,114.1 396.25,115.0 396.40,117.1 396.55,115.9 396.70,113.3 396.85,117.4 397.00,115.8 397.15,117.0 397.30,112.5 397.45,113.2 397.60,117.6 397.75,115.0 397.90,116.6 398.05,112.1 398.20,112.7 398.35,114.4 398.50,114.7 398.65,115.5 398.80,113.9 398.95,117.9 399.10,115.8 399.25,115.4 399.40,112.0 399.55,114.6 399.70,112.6 399.85,115.6 400.00,114.6 400.15,111.8 400.30,118.7 400.45,113.3 400.60,115.7 400.75,114.4 400.90,115.4 401.05,114.5 401.20,116.4 401.35,114.9 401.50,112.5 401.65,114.2 401.80,114.3 401.95,111.4 402.10,114.2 402.25,115.1 402.40,112.2 402.55,112.2 402.70,113.7 402.85,112.3 403.00,114.9 403.15,113.9 403.30,112.5 403.45,114.7 403.60,111.2 403.75,109.8 403.90,113.2 404.05,115.1 404.20,111.1 404.35,112.5 404.50,112.2 404.65,113.5 404.80,114.1 404.95,111.4 405.10,117.4 405.25,115.5 405.40,112.9 405.55,116.3 405.70,115.2 405.85,115.7 406.00,118.3 406.15,111.6 406.30,116.1 406.45,114.2 406.60,120.7 406.75,114.8 406.90,116.6 407.05,114.0 407.20,115.2 407.35,114.6 407.50,116.0 407.65,117.2 407.80,112.7 407.95,111.9 408.10,113.9 408.25,116.2 408.40,114.0 408.55,115.2 408.70,115.0 408.85,112.5 409.00,112.6 409.15,113.8 409.30,117.3 409.45,116.6 409.60,116.8 409.75,118.3 409.90,117.4 410.05,115.6 410.20,114.4 410.35,118.4 410.50,116.8 410.65,115.1 410.80,115.7 410.95,118.2 411.10,114.1 411.25,116.0 411.40,117.8 411.55,116.7 411.70,112.4 411.85,114.6 412.00,113.8 412.15,117.7 412.30,117.8 412.45,114.2 412.60,116.3 412.75,116.6 412.90,113.4 413.05,115.6 413.20,112.9 413.35,117.2 413.50,114.6 413.65,116.1 413.80,115.6 413.95,116.7 414.10,115.9 414.25,113.7 414.40,114.6 414.55,116.5 414.70,112.5 414.85,115.5 415.00,111.6 415.15,115.2 415.30,114.3 415.45,116.8 415.60,116.3 415.75,113.8 415.90,118.4 416.05,117.2 416.20,119.2 416.35,115.8 416.50,113.9 416.65,116.2 416.80,116.5 416.95,116.4 417.10,113.0 417.25,116.5 417.40,115.7 417.55,113.4 417.70,116.9 417.85,114.7 418.00,120.0 418.15,118.0 418.30,113.9 418.45,118.6 418.60,116.2 418.75,115.2 418.90,115.5 419.05,117.3 419.20,116.2 419.35,115.1 419.50,114.3 419.65,116.3 419.80,116.8 419.95,117.0 420.10,114.9 420.25,119.7 420.40,117.0 420.55,119.5 420.70,117.1 420.85,117.9 421.00,112.8 421.15,116.8 421.30,115.4 421.45,119.5 421.60,114.3 421.75,116.6 421.90,116.2 422.05,118.4 422.20,114.3 422.35,114.7 422.50,119.3 422.65,116.7 422.80,117.0 422.95,118.8 423.10,114.3 423.25,116.6 423.40,115.8 423.55,113.8 423.70,117.5 423.85,119.4 424.00,120.3 424.15,117.5 424.30,117.4 424.45,118.5 424.60,115.4 424.75,115.3 424.90,114.7 425.05,120.4 425.20,116.9 425.35,117.5 425.50,117.0 425.65,113.3 425.80,118.5 425.95,116.6 426.10,115.1 426.25,113.8 426.40,115.4 426.55,114.7 426.70,115.8 426.85,114.5 427.00,118.6 427.15,117.5 427.30,118.3 427.45,116.0 427.60,119.3 427.75,115.7 427.90,116.8 428.05,114.9 428.20,113.9 428.35,118.4 428.50,116.6 428.65,117.0 428.80,117.2 428.95,117.7 429.10,116.0 429.25,118.3 429.40,118.5 429.55,117.2 429.70,119.6 429.85,117.8 430.00,117.2 430.15,118.1 430.30,118.0 430.45,117.5 430.60,113.2 430.75,115.1 430.90,116.8 431.05,117.4 431.20,115.9 431.35,117.3 431.50,117.3 431.65,115.6 431.80,117.4 431.95,118.2 432.10,114.1 432.25,115.5 432.40,112.7 432.55,116.6 432.70,114.4 432.85,115.8 433.00,114.0 433.15,112.9 433.30,117.6 433.45,113.7 433.60,116.4 433.75,111.1 433.90,115.9 434.05,115.9 434.20,115.7 434.35,118.0 434.50,116.3 434.65,118.4 434.80,116.4 434.95,115.2 435.10,117.4 435.25,118.6 435.40,116.3 435.55,117.4 435.70,114.2 435.85,116.9 436.00,117.2 436.15,115.5 436.30,111.0 436.45,114.4 436.60,111.3 436.75,113.3 436.90,111.9 437.05,114.0 437.20,112.1 437.35,111.3 437.50,111.1 437.65,113.7 437.80,112.0 437.95,108.7 438.10,109.2 438.25,110.1 438.40,111.4 438.55,108.0 438.70,110.2 438.85,111.3 439.00,108.7 439.15,107.5 439.30,110.7 439.45,112.2 439.60,111.1 439.75,110.0 439.90,108.0 440.05,108.2 440.20,111.3 440.35,111.5 440.50,113.0 440.65,109.5 440.80,112.4 440.95,113.7 441.10,112.6 441.25,109.8 441.40,110.5 441.55,113.9 441.70,110.0 441.85,112.7 442.00,114.4 442.15,112.3 442.30,112.3 442.45,116.6 442.60,111.6 442.75,112.4 442.90,117.2 443.05,114.2 443.20,118.5 443.35,114.6 443.50,114.1 443.65,114.9 443.80,112.6 443.95,115.0 444.10,117.0 444.25,114.0 444.40,117.4 444.55,112.6 444.70,115.8 444.85,115.2 445.00,116.7 445.15,115.7 445.30,116.4 445.45,113.5 445.60,118.2 445.75,117.8 445.90,117.5 446.05,116.6 446.20,115.9 446.35,115.3 446.50,115.0 446.65,114.2 446.80,114.3 446.95,117.2 447.10,116.3 447.25,116.5 447.40,112.2 447.55,114.5 447.70,114.6 447.85,115.5 448.00,118.8 448.15,113.0 448.30,115.0 448.45,115.7 448.60,117.1 448.75,112.9 448.90,114.6 449.05,115.8 449.20,115.9 449.35,114.2 449.50,116.1 449.65,113.8 449.80,118.3 449.95,116.1 450.10,118.1 450.25,114.6 450.40,116.9 450.55,114.4 450.70,112.6 450.85,119.4 451.00,114.2 451.15,118.9 451.30,114.3 451.45,117.7 451.60,120.3 451.75,116.7 451.90,115.1 452.05,116.0 452.20,114.7 452.35,115.9 452.50,116.7 452.65,115.3 452.80,113.6 452.95,114.1 453.10,116.1 453.25,117.7 453.40,114.7 453.55,117.1 453.70,118.2 453.85,119.3 454.00,119.0 454.15,114.3 454.30,115.0 454.45,117.5 454.60,118.8 454.75,118.2 454.90,118.1 455.05,119.9 455.20,117.5 455.35,121.3 455.50,117.1 455.65,117.2 455.80,116.5 455.95,115.6 456.10,116.7 456.25,118.3 456.40,116.6 456.55,115.3 456.70,115.5 456.85,113.0 457.00,115.7 457.15,116.6 457.30,114.1 457.45,117.4 457.60,114.0 457.75,115.7 457.90,116.1 458.05,117.2 458.20,115.3 458.35,114.1 458.50,115.0 458.65,116.2 458.80,113.9 458.95,118.0 459.10,113.8 459.25,116.5 459.40,117.8 459.55,115.6 459.70,114.2 459.85,114.7 460.00,115.3 460.15,113.4 460.30,118.3 460.45,115.6 460.60,119.2 460.75,113.4 460.90,115.6 461.05,117.3 461.20,116.4 461.35,118.0 461.50,115.9 461.65,116.6 461.80,117.5 461.95,115.3 462.10,115.0 462.25,116.3 462.40,117.0 462.55,115.0 462.70,118.4 462.85,118.5 463.00,115.9 463.15,118.3 463.30,114.8 463.45,119.7 463.60,115.2 463.75,114.9 463.90,117.3 464.05,114.9 464.20,118.1 464.35,117.7 464.50,117.9 464.65,117.0 464.80,114.4 464.95,116.8 465.10,116.4 465.25,116.1 465.40,114.6 465.55,114.2 465.70,115.4 465.85,114.1 466.00,115.5 466.15,114.3 466.30,119.4 466.45,114.2 466.60,119.4 466.75,119.3 466.90,116.4 467.05,117.7 467.20,117.5 467.35,118.2 467.50,113.9 467.65,116.5 467.80,116.2 467.95,119.0 468.10,117.1 468.25,113.3 468.40,118.3 468.55,115.3 468.70,117.8 468.85,116.5 469.00,119.4 469.15,116.9 469.30,121.7 469.45,116.8 469.60,115.3 469.75,118.6 469.90,116.1 470.05,118.2 470.20,119.1 470.35,118.1 470.50,119.3 470.65,113.9 470.80,119.0 470.95,114.6 471.10,114.5 471.25,115.3 471.40,115.9 471.55,115.1 471.70,117.5 471.85,121.3 472.00,118.8 472.15,114.5 472.30,113.9 472.45,118.0 472.60,114.1 472.75,115.6 472.90,116.3 473.05,115.8 473.20,118.5 473.35,114.1 473.50,117.5 473.65,119.0 473.80,115.1 473.95,116.8 474.10,115.6 474.25,113.8 474.40,116.8 474.55,118.6 474.70,116.7 474.85,118.1 475.00,118.6 475.15,115.0 475.30,116.3 475.45,116.7 475.60,118.1 475.75,117.9 475.90,119.1 476.05,116.1 476.20,115.2 476.35,118.7 476.50,117.2 476.65,112.6 476.80,119.5 476.95,117.2 477.10,120.9 477.25,118.2 477.40,117.4 477.55,116.8 477.70,115.2 477.85,116.0 478.00,114.1 478.15,116.2 478.30,116.0 478.45,114.6 478.60,117.3 478.75,113.4 478.90,121.1 479.05,117.5 479.20,115.4 479.35,113.9 479.50,114.7 479.65,116.4 479.80,114.4 479.95,116.1 480.10,112.7 480.25,115.2 480.40,118.4 480.55,117.7 480.70,115.3 480.85,117.2 481.00,117.6 481.15,115.7 481.30,114.9 481.45,113.9 481.60,113.0 481.75,117.8 481.90,114.9 482.05,115.2 482.20,113.0 482.35,115.2 482.50,115.1 482.65,113.1 482.80,112.0 482.95,112.0 483.10,115.6 483.25,114.1 483.40,112.7 483.55,110.7 483.70,111.1 483.85,113.1 484.00,108.4 484.15,107.3 484.30,107.0 484.45,108.9 484.60,105.5 484.75,107.8 484.90,107.7 485.05,107.0 485.20,112.5 485.35,106.7 485.50,112.1 485.65,108.7 485.80,108.9 485.95,110.4 486.10,108.2 486.25,109.9 486.40,110.7 486.55,111.4 486.70,109.2 486.85,110.5 487.00,111.9 487.15,110.9 487.30,114.3 487.45,112.6 487.60,111.7 487.75,114.7 487.90,111.5 488.05,113.0 488.20,114.6 488.35,113.7 488.50,115.9 488.65,114.3 488.80,113.4 488.95,113.9 489.10,116.6 489.25,113.4 489.40,116.5 489.55,114.4 489.70,113.8 489.85,114.1 490.00,112.6 490.15,111.8 490.30,113.1 490.45,117.0 490.60,113.6 490.75,113.8 490.90,117.7 491.05,113.7 491.20,113.5 491.35,111.4 491.50,117.4 491.65,113.7 491.80,114.7 491.95,112.7 492.10,118.8 492.25,116.5 492.40,113.9 492.55,113.2 492.70,116.4 492.85,117.5 493.00,114.0 493.15,117.8 493.30,115.9 493.45,115.9 493.60,119.1 493.75,116.6 493.90,113.3 494.05,115.0 494.20,114.2 494.35,115.4 494.50,116.7 494.65,116.5 494.80,118.5 494.95,115.2 495.10,117.1 495.25,115.6 495.40,118.5 495.55,113.8 495.70,118.8 495.85,114.2 496.00,118.9 496.15,116.2 496.30,113.4 496.45,115.5 496.60,115.8 496.75,115.7 496.90,113.9 497.05,118.4 497.20,118.5 497.35,118.4 497.50,119.0 497.65,115.3 497.80,115.3 497.95,116.3 498.10,118.3 498.25,114.0 498.40,117.6 498.55,118.2 498.70,115.4 498.85,116.5 499.00,114.6 499.15,115.5 499.30,115.7 499.45,117.1 499.60,113.2 499.75,119.3 499.90,116.6 500.05,114.0 500.20,115.9 500.35,113.5 500.50,117.6 500.65,117.5 500.80,115.3 500.95,118.4 501.10,116.6 501.25,113.2 501.40,115.8 501.55,117.9 501.70,114.4 501.85,116.4 502.00,113.1 502.15,115.2 502.30,112.3 502.45,114.6 502.60,112.6 502.75,117.7 502.90,115.9 503.05,116.4 503.20,116.4 503.35,116.0 503.50,115.5 503.65,113.8 503.80,115.4 503.95,116.9 504.10,117.7 504.25,114.7 504.40,119.2 504.55,119.3 504.70,114.3 504.85,115.0 505.00,115.1 505.15,117.9 505.30,114.6 505.45,117.8 505.60,118.6 505.75,115.2 505.90,114.7 506.05,119.2 506.20,119.6 506.35,117.5 506.50,119.8 506.65,114.1 506.80,118.2 506.95,114.9 507.10,119.8 507.25,116.8 507.40,117.2 507.55,114.3 507.70,115.7 507.85,118.2 508.00,118.7 508.15,115.5 508.30,116.1 508.45,116.5 508.60,118.5 508.75,117.9 508.90,118.9 509.05,117.6 509.20,118.6 509.35,115.3 509.50,114.9 509.65,114.8 509.80,115.1 509.95,116.7 510.10,114.9 510.25,118.8 510.40,115.2 510.55,114.7 510.70,115.6 510.85,118.3 511.00,114.7 511.15,114.6 511.30,121.7 511.45,116.6 511.60,118.2 511.75,116.1 511.90,117.1 512.05,115.9 512.20,113.4 512.35,117.0 512.50,119.2 512.65,117.9 512.80,114.3 512.95,115.6 513.10,117.8 513.25,119.7 513.40,115.9 513.55,118.7 513.70,115.4 513.85,116.4 514.00,119.0 514.15,116.2 514.30,121.5 514.45,119.7 514.60,116.3 514.75,116.0 514.90,117.7 515.05,115.1 515.20,116.6 515.35,117.2 515.50,117.2 515.65,113.4 515.80,117.3 515.95,119.6 516.10,116.3 516.25,118.4 516.40,117.1 516.55,117.5 516.70,118.7 516.85,116.3 517.00,116.0 517.15,116.2 517.30,119.2 517.45,115.6 517.60,114.4 517.75,115.2 517.90,114.0 518.05,116.1 518.20,117.6 518.35,117.1 518.50,119.0 518.65,119.9 518.80,115.3 518.95,117.3 519.10,116.2 519.25,116.6 519.40,116.9 519.55,117.6 519.70,116.6 519.85,114.0 520.00,115.8 520.15,116.2 520.30,115.2 520.45,117.0 520.60,114.8 520.75,114.0 520.90,118.3 521.05,117.8 521.20,117.0 521.35,116.1 521.50,117.2 521.65,114.1 521.80,114.9 521.95,116.6 522.10,115.4 522.25,116.2 522.40,114.9 522.55,119.5 522.70,113.2 522.85,119.0 523.00,115.0 523.15,114.9 523.30,117.2 523.45,116.7 523.60,118.5 523.75,119.6 523.90,118.8 524.05,118.3 524.20,114.7 524.35,118.6 524.50,116.7 524.65,115.3 524.80,116.4 524.95,118.8 525.10,114.0 525.25,116.2 525.40,113.6 525.55,117.1 525.70,115.9 525.85,117.6 526.00,114.9 526.15,119.5 526.30,114.1 526.45,115.8 526.60,113.6 526.75,116.9 526.90,116.5 527.05,117.7 527.20,118.5 527.35,115.2 527.50,116.5 527.65,117.3 527.80,114.8 527.95,115.1 528.10,117.4 528.25,118.7 528.40,117.7 528.55,113.8 528.70,116.5 528.85,118.6 529.00,116.1 529.15,115.1 529.30,118.3 529.45,115.4 529.60,117.8 529.75,114.6 529.90,118.6 530.05,119.0 530.20,117.9 530.35,118.7 530.50,116.0 530.65,119.4 530.80,118.9 530.95,118.2 531.10,116.9 531.25,117.5 531.40,118.8 531.55,114.9 531.70,114.4 531.85,115.9 532.00,116.2 532.15,120.7 532.30,118.1 532.45,118.1 532.60,116.9 532.75,115.5 532.90,114.8 533.05,116.2 533.20,116.6 533.35,114.7 533.50,115.4 533.65,118.1 533.80,120.1 533.95,115.6 534.10,114.8 534.25,118.3 534.40,116.3 534.55,113.8 534.70,116.8 534.85,115.3 535.00,118.0 535.15,115.8 535.30,115.8"/>
</g>
<g fill="#000"><path d="M139.5 75.30000000000001L146.1 81.9L139.5 88.5L132.9 81.9Z"/><path d="M152.85 79.4L164.15 79.4L158.5 90.50Z"/><path d="M165.05 74.8L176.35 74.8L170.7 85.90Z"/><path d="M171.85 85.5L183.15 85.5L177.5 96.60Z"/><path d="M185.3 41.699999999999996L191.9 48.3L185.3 54.9L178.70000000000002 48.3Z"/><rect x="186.90" y="83.00" width="7.8" height="7.8"/><circle cx="202.2" cy="98.9" r="3.7"/><rect x="217.40" y="88.30" width="7.8" height="7.8"/><path d="M240.2 26.199999999999996L246.79999999999998 32.8L240.2 39.4L233.6 32.8Z"/><path d="M288.55 92.3L299.85 92.3L294.2 103.40Z"/><rect x="322.20" y="94.60" width="7.8" height="7.8"/><path d="M342.3 89.10000000000001L348.90000000000003 95.7L342.3 102.3L335.7 95.7Z"/><circle cx="353.8" cy="87.7" r="3.7"/><path d="M348.65 93.1L359.95 93.1L354.3 104.20Z"/><path d="M369.1 88.10000000000001L375.70000000000005 94.7L369.1 101.3L362.5 94.7Z"/><path d="M380.9 91.60000000000001L387.5 98.2L380.9 104.8L374.29999999999995 98.2Z"/><circle cx="391.6" cy="93.0" r="3.7"/><rect x="387.70" y="99.10" width="7.8" height="7.8"/><path d="M405.3 94.4L411.90000000000003 101.0L405.3 107.6L398.7 101.0Z"/><path d="M440.5 93.5L447.1 100.1L440.5 106.69999999999999L433.9 100.1Z"/><path d="M486.4 93.10000000000001L493.0 99.7L486.4 106.3L479.79999999999995 99.7Z"/><path d="M272.5 26.6L279.1 33.2L272.5 39.800000000000004L265.9 33.2Z"/><circle cx="328.7" cy="34.7" r="3.9"/><rect x="377.20" y="31.60" width="7.8" height="7.8"/><path d="M266.50 52.3L278.90 52.3L272.7 63.60Z"/></g>
<g stroke="#1a1a1a" stroke-width="1.5"><line x1="76.62" y1="336.9" x2="76.62" y2="333.40"/><line x1="107.25" y1="336.9" x2="107.25" y2="330.30"/><line x1="137.88" y1="336.9" x2="137.88" y2="333.40"/><line x1="168.50" y1="336.9" x2="168.50" y2="330.30"/><line x1="199.12" y1="336.9" x2="199.12" y2="333.40"/><line x1="229.75" y1="336.9" x2="229.75" y2="330.30"/><line x1="260.38" y1="336.9" x2="260.38" y2="333.40"/><line x1="291.00" y1="336.9" x2="291.00" y2="330.30"/><line x1="321.62" y1="336.9" x2="321.62" y2="333.40"/><line x1="352.25" y1="336.9" x2="352.25" y2="330.30"/><line x1="382.88" y1="336.9" x2="382.88" y2="333.40"/><line x1="413.50" y1="336.9" x2="413.50" y2="330.30"/><line x1="444.12" y1="336.9" x2="444.12" y2="333.40"/><line x1="474.75" y1="336.9" x2="474.75" y2="330.30"/><line x1="505.38" y1="336.9" x2="505.38" y2="333.40"/></g>
<rect x="46" y="7.9" width="490" height="329" fill="none" stroke="#222" stroke-width="1.5" stroke-linejoin="round"/>
<g class="t" font-size="20.6"><text x="45.70" y="360.2" text-anchor="middle">10</text><text x="106.95" y="360.2" text-anchor="middle">20</text><text x="168.20" y="360.2" text-anchor="middle">30</text><text x="229.45" y="360.2" text-anchor="middle">40</text><text x="290.70" y="360.2" text-anchor="middle">50</text><text x="351.95" y="360.2" text-anchor="middle">60</text><text x="413.20" y="360.2" text-anchor="middle">70</text><text x="474.45" y="360.2" text-anchor="middle">80</text><text x="535.70" y="360.2" text-anchor="middle">90</text></g>
<text class="t" font-size="22" x="227.3" y="386.8">2<tspan font-style="italic">θ</tspan>(degree)</text>
<text class="t" font-size="22" transform="translate(22.6,246.2) rotate(-90)">Intensity(a.u.)</text>
<g class="s" font-size="23" stroke="#000" stroke-width="0.2">
<text x="59.2" y="90.5">(d)</text>
<text x="58.5" y="159.4">(c)</text>
<text x="57.5" y="234.4">(b)</text>
<text x="59" y="302.7">(a)</text>
</g>
<g class="t" font-size="18.4">
<text x="280" y="39.6">ZrB</text>
<text x="311.8" y="47" font-size="10.6">2</text>
<text x="340.5" y="39.6">SiC</text>
<text x="392.5" y="39.6">ZrC</text>
<text x="280.5" y="64.6" font-size="18.9">ZrO</text>
<text x="319.5" y="72" font-size="10.6">2</text>
<text x="326.1" y="64.5">(ICDD</text>
<text x="382.8" y="64.5">PDF</text>
<text x="425.5" y="64.5" textLength="103" lengthAdjust="spacing">N0.49-1642)</text>
</g>
</svg>
</body></html>
